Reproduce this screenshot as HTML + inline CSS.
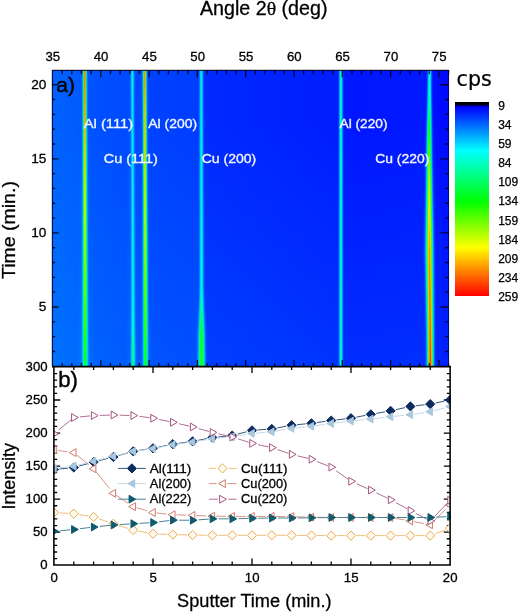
<!DOCTYPE html>
<html><head><meta charset="utf-8"><title>XRD sputter time figure</title>
<style>html,body{margin:0;padding:0;background:#fff}body{width:520px;height:613px;overflow:hidden}</style></head>
<body>
<svg width="520" height="613" viewBox="0 0 520 613" style="display:block">
<defs>
<linearGradient id="bg" gradientUnits="userSpaceOnUse" x1="52" y1="0" x2="449" y2="0">
<stop offset="0.0000" stop-color="#0062ff"/>
<stop offset="0.0705" stop-color="#005aff"/>
<stop offset="0.0957" stop-color="#0052ff"/>
<stop offset="0.1965" stop-color="#0049ff"/>
<stop offset="0.2469" stop-color="#0041ff"/>
<stop offset="0.3602" stop-color="#003dff"/>
<stop offset="0.3904" stop-color="#0029ff"/>
<stop offset="0.7128" stop-color="#001dff"/>
<stop offset="0.7406" stop-color="#0016ff"/>
<stop offset="0.9370" stop-color="#0018ff"/>
<stop offset="0.9673" stop-color="#000cff"/>
<stop offset="1.0000" stop-color="#000aff"/>
</linearGradient>
<linearGradient id="c78" gradientUnits="userSpaceOnUse" x1="0" y1="70" x2="0" y2="366">
<stop offset="0.0000" stop-color="#005aff"/>
<stop offset="0.0270" stop-color="#005aff"/>
<stop offset="0.0541" stop-color="#005aff"/>
<stop offset="0.0811" stop-color="#005aff"/>
<stop offset="0.1081" stop-color="#005aff"/>
<stop offset="0.1351" stop-color="#005aff"/>
<stop offset="0.1622" stop-color="#005aff"/>
<stop offset="0.1892" stop-color="#005bff"/>
<stop offset="0.2162" stop-color="#005bff"/>
<stop offset="0.2432" stop-color="#005cff"/>
<stop offset="0.2703" stop-color="#005dff"/>
<stop offset="0.2973" stop-color="#005eff"/>
<stop offset="0.3243" stop-color="#005eff"/>
<stop offset="0.3514" stop-color="#005fff"/>
<stop offset="0.3784" stop-color="#0060ff"/>
<stop offset="0.4054" stop-color="#0061ff"/>
<stop offset="0.4324" stop-color="#0061ff"/>
<stop offset="0.4595" stop-color="#0062ff"/>
<stop offset="0.4865" stop-color="#0063ff"/>
<stop offset="0.5135" stop-color="#0064ff"/>
<stop offset="0.5405" stop-color="#0064ff"/>
<stop offset="0.5676" stop-color="#0065ff"/>
<stop offset="0.5946" stop-color="#0066ff"/>
<stop offset="0.6216" stop-color="#0066ff"/>
<stop offset="0.6486" stop-color="#0067ff"/>
<stop offset="0.6757" stop-color="#0068ff"/>
<stop offset="0.7027" stop-color="#0069ff"/>
<stop offset="0.7297" stop-color="#0069ff"/>
<stop offset="0.7568" stop-color="#006aff"/>
<stop offset="0.7838" stop-color="#006bff"/>
<stop offset="0.8108" stop-color="#006cff"/>
<stop offset="0.8378" stop-color="#006cff"/>
<stop offset="0.8649" stop-color="#006dff"/>
<stop offset="0.8919" stop-color="#006eff"/>
<stop offset="0.9189" stop-color="#006eff"/>
<stop offset="0.9459" stop-color="#006fff"/>
<stop offset="0.9730" stop-color="#0070ff"/>
<stop offset="1.0000" stop-color="#0071ff"/>
</linearGradient>
<linearGradient id="c79" gradientUnits="userSpaceOnUse" x1="0" y1="70" x2="0" y2="366">
<stop offset="0.0000" stop-color="#005aff"/>
<stop offset="0.0270" stop-color="#005aff"/>
<stop offset="0.0541" stop-color="#005aff"/>
<stop offset="0.0811" stop-color="#005aff"/>
<stop offset="0.1081" stop-color="#005aff"/>
<stop offset="0.1351" stop-color="#005aff"/>
<stop offset="0.1622" stop-color="#005aff"/>
<stop offset="0.1892" stop-color="#005aff"/>
<stop offset="0.2162" stop-color="#005bff"/>
<stop offset="0.2432" stop-color="#005cff"/>
<stop offset="0.2703" stop-color="#005dff"/>
<stop offset="0.2973" stop-color="#005dff"/>
<stop offset="0.3243" stop-color="#005eff"/>
<stop offset="0.3514" stop-color="#005fff"/>
<stop offset="0.3784" stop-color="#0060ff"/>
<stop offset="0.4054" stop-color="#0060ff"/>
<stop offset="0.4324" stop-color="#0061ff"/>
<stop offset="0.4595" stop-color="#0062ff"/>
<stop offset="0.4865" stop-color="#0062ff"/>
<stop offset="0.5135" stop-color="#0063ff"/>
<stop offset="0.5405" stop-color="#0064ff"/>
<stop offset="0.5676" stop-color="#0065ff"/>
<stop offset="0.5946" stop-color="#0065ff"/>
<stop offset="0.6216" stop-color="#0066ff"/>
<stop offset="0.6486" stop-color="#0067ff"/>
<stop offset="0.6757" stop-color="#0068ff"/>
<stop offset="0.7027" stop-color="#0068ff"/>
<stop offset="0.7297" stop-color="#0069ff"/>
<stop offset="0.7568" stop-color="#006aff"/>
<stop offset="0.7838" stop-color="#006bff"/>
<stop offset="0.8108" stop-color="#006bff"/>
<stop offset="0.8378" stop-color="#006cff"/>
<stop offset="0.8649" stop-color="#006dff"/>
<stop offset="0.8919" stop-color="#006eff"/>
<stop offset="0.9189" stop-color="#006eff"/>
<stop offset="0.9459" stop-color="#006fff"/>
<stop offset="0.9730" stop-color="#0070ff"/>
<stop offset="1.0000" stop-color="#0071ff"/>
</linearGradient>
<linearGradient id="c80" gradientUnits="userSpaceOnUse" x1="0" y1="70" x2="0" y2="366">
<stop offset="0.0000" stop-color="#005aff"/>
<stop offset="0.0270" stop-color="#005aff"/>
<stop offset="0.0541" stop-color="#005aff"/>
<stop offset="0.0811" stop-color="#005aff"/>
<stop offset="0.1081" stop-color="#005aff"/>
<stop offset="0.1351" stop-color="#005aff"/>
<stop offset="0.1622" stop-color="#005aff"/>
<stop offset="0.1892" stop-color="#005aff"/>
<stop offset="0.2162" stop-color="#005bff"/>
<stop offset="0.2432" stop-color="#005cff"/>
<stop offset="0.2703" stop-color="#005dff"/>
<stop offset="0.2973" stop-color="#005dff"/>
<stop offset="0.3243" stop-color="#005eff"/>
<stop offset="0.3514" stop-color="#005fff"/>
<stop offset="0.3784" stop-color="#0060ff"/>
<stop offset="0.4054" stop-color="#0060ff"/>
<stop offset="0.4324" stop-color="#0061ff"/>
<stop offset="0.4595" stop-color="#0062ff"/>
<stop offset="0.4865" stop-color="#0063ff"/>
<stop offset="0.5135" stop-color="#0064ff"/>
<stop offset="0.5405" stop-color="#0065ff"/>
<stop offset="0.5676" stop-color="#0066ff"/>
<stop offset="0.5946" stop-color="#0066ff"/>
<stop offset="0.6216" stop-color="#0067ff"/>
<stop offset="0.6486" stop-color="#0068ff"/>
<stop offset="0.6757" stop-color="#0069ff"/>
<stop offset="0.7027" stop-color="#0069ff"/>
<stop offset="0.7297" stop-color="#006aff"/>
<stop offset="0.7568" stop-color="#006bff"/>
<stop offset="0.7838" stop-color="#006cff"/>
<stop offset="0.8108" stop-color="#006dff"/>
<stop offset="0.8378" stop-color="#006eff"/>
<stop offset="0.8649" stop-color="#006fff"/>
<stop offset="0.8919" stop-color="#006fff"/>
<stop offset="0.9189" stop-color="#0070ff"/>
<stop offset="0.9459" stop-color="#0071ff"/>
<stop offset="0.9730" stop-color="#0072ff"/>
<stop offset="1.0000" stop-color="#0073ff"/>
</linearGradient>
<linearGradient id="c81" gradientUnits="userSpaceOnUse" x1="0" y1="70" x2="0" y2="366">
<stop offset="0.0000" stop-color="#0062ff"/>
<stop offset="0.0270" stop-color="#0062ff"/>
<stop offset="0.0541" stop-color="#0063ff"/>
<stop offset="0.0811" stop-color="#0063ff"/>
<stop offset="0.1081" stop-color="#0063ff"/>
<stop offset="0.1351" stop-color="#0063ff"/>
<stop offset="0.1622" stop-color="#0063ff"/>
<stop offset="0.1892" stop-color="#0064ff"/>
<stop offset="0.2162" stop-color="#0065ff"/>
<stop offset="0.2432" stop-color="#0066ff"/>
<stop offset="0.2703" stop-color="#0066ff"/>
<stop offset="0.2973" stop-color="#0067ff"/>
<stop offset="0.3243" stop-color="#0068ff"/>
<stop offset="0.3514" stop-color="#0069ff"/>
<stop offset="0.3784" stop-color="#006aff"/>
<stop offset="0.4054" stop-color="#006bff"/>
<stop offset="0.4324" stop-color="#006cff"/>
<stop offset="0.4595" stop-color="#006dff"/>
<stop offset="0.4865" stop-color="#006eff"/>
<stop offset="0.5135" stop-color="#0070ff"/>
<stop offset="0.5405" stop-color="#0071ff"/>
<stop offset="0.5676" stop-color="#0072ff"/>
<stop offset="0.5946" stop-color="#0073ff"/>
<stop offset="0.6216" stop-color="#0074ff"/>
<stop offset="0.6486" stop-color="#0076ff"/>
<stop offset="0.6757" stop-color="#0077ff"/>
<stop offset="0.7027" stop-color="#0078ff"/>
<stop offset="0.7297" stop-color="#0079ff"/>
<stop offset="0.7568" stop-color="#007aff"/>
<stop offset="0.7838" stop-color="#007bff"/>
<stop offset="0.8108" stop-color="#007cff"/>
<stop offset="0.8378" stop-color="#007dff"/>
<stop offset="0.8649" stop-color="#007eff"/>
<stop offset="0.8919" stop-color="#007eff"/>
<stop offset="0.9189" stop-color="#007fff"/>
<stop offset="0.9459" stop-color="#0080ff"/>
<stop offset="0.9730" stop-color="#0080ff"/>
<stop offset="1.0000" stop-color="#0081ff"/>
</linearGradient>
<linearGradient id="c82" gradientUnits="userSpaceOnUse" x1="0" y1="70" x2="0" y2="366">
<stop offset="0.0000" stop-color="#03a1ec"/>
<stop offset="0.0270" stop-color="#03a2ec"/>
<stop offset="0.0541" stop-color="#03a3ec"/>
<stop offset="0.0811" stop-color="#02a2ed"/>
<stop offset="0.1081" stop-color="#02a3ed"/>
<stop offset="0.1351" stop-color="#02a3ee"/>
<stop offset="0.1622" stop-color="#02a3ee"/>
<stop offset="0.1892" stop-color="#02a3ee"/>
<stop offset="0.2162" stop-color="#01a4ef"/>
<stop offset="0.2432" stop-color="#01a4ef"/>
<stop offset="0.2703" stop-color="#01a5f0"/>
<stop offset="0.2973" stop-color="#01a5f0"/>
<stop offset="0.3243" stop-color="#01a6f0"/>
<stop offset="0.3514" stop-color="#01a7f1"/>
<stop offset="0.3784" stop-color="#01a7f1"/>
<stop offset="0.4054" stop-color="#01a8f1"/>
<stop offset="0.4324" stop-color="#01a8f2"/>
<stop offset="0.4595" stop-color="#01aaf2"/>
<stop offset="0.4865" stop-color="#00abf2"/>
<stop offset="0.5135" stop-color="#00adf2"/>
<stop offset="0.5405" stop-color="#00aff2"/>
<stop offset="0.5676" stop-color="#00b0f2"/>
<stop offset="0.5946" stop-color="#00b0f3"/>
<stop offset="0.6216" stop-color="#00b1f3"/>
<stop offset="0.6486" stop-color="#00b3f3"/>
<stop offset="0.6757" stop-color="#00b4f4"/>
<stop offset="0.7027" stop-color="#00b4f4"/>
<stop offset="0.7297" stop-color="#00b5f4"/>
<stop offset="0.7568" stop-color="#00b6f5"/>
<stop offset="0.7838" stop-color="#00b7f5"/>
<stop offset="0.8108" stop-color="#00b7f6"/>
<stop offset="0.8378" stop-color="#00b8f6"/>
<stop offset="0.8649" stop-color="#00b7f7"/>
<stop offset="0.8919" stop-color="#00b7f8"/>
<stop offset="0.9189" stop-color="#00b6f9"/>
<stop offset="0.9459" stop-color="#00b6f9"/>
<stop offset="0.9730" stop-color="#00b4fa"/>
<stop offset="1.0000" stop-color="#00b3fb"/>
</linearGradient>
<linearGradient id="c83" gradientUnits="userSpaceOnUse" x1="0" y1="70" x2="0" y2="366">
<stop offset="0.0000" stop-color="#4ae263"/>
<stop offset="0.0270" stop-color="#4ae262"/>
<stop offset="0.0541" stop-color="#49e363"/>
<stop offset="0.0811" stop-color="#45e564"/>
<stop offset="0.1081" stop-color="#43e766"/>
<stop offset="0.1351" stop-color="#40e867"/>
<stop offset="0.1622" stop-color="#3ee968"/>
<stop offset="0.1892" stop-color="#3aeb6a"/>
<stop offset="0.2162" stop-color="#37ed6c"/>
<stop offset="0.2432" stop-color="#34ee6d"/>
<stop offset="0.2703" stop-color="#30ef6f"/>
<stop offset="0.2973" stop-color="#2cf070"/>
<stop offset="0.3243" stop-color="#29f171"/>
<stop offset="0.3514" stop-color="#28f173"/>
<stop offset="0.3784" stop-color="#26f275"/>
<stop offset="0.4054" stop-color="#24f277"/>
<stop offset="0.4324" stop-color="#22f278"/>
<stop offset="0.4595" stop-color="#20f379"/>
<stop offset="0.4865" stop-color="#1ef37b"/>
<stop offset="0.5135" stop-color="#1cf47c"/>
<stop offset="0.5405" stop-color="#1bf57c"/>
<stop offset="0.5676" stop-color="#18f57e"/>
<stop offset="0.5946" stop-color="#14f581"/>
<stop offset="0.6216" stop-color="#12f582"/>
<stop offset="0.6486" stop-color="#10f583"/>
<stop offset="0.6757" stop-color="#0ef585"/>
<stop offset="0.7027" stop-color="#0cf588"/>
<stop offset="0.7297" stop-color="#0af68a"/>
<stop offset="0.7568" stop-color="#09f68d"/>
<stop offset="0.7838" stop-color="#07f591"/>
<stop offset="0.8108" stop-color="#06f595"/>
<stop offset="0.8378" stop-color="#04f598"/>
<stop offset="0.8649" stop-color="#03f59d"/>
<stop offset="0.8919" stop-color="#02f4a4"/>
<stop offset="0.9189" stop-color="#01f4ab"/>
<stop offset="0.9459" stop-color="#00f3b2"/>
<stop offset="0.9730" stop-color="#00f3ba"/>
<stop offset="1.0000" stop-color="#00f2c3"/>
</linearGradient>
<linearGradient id="c84" gradientUnits="userSpaceOnUse" x1="0" y1="70" x2="0" y2="366">
<stop offset="0.0000" stop-color="#de8e06"/>
<stop offset="0.0270" stop-color="#de8e06"/>
<stop offset="0.0541" stop-color="#dd9006"/>
<stop offset="0.0811" stop-color="#db9a06"/>
<stop offset="0.1081" stop-color="#d9a306"/>
<stop offset="0.1351" stop-color="#d8aa06"/>
<stop offset="0.1622" stop-color="#d6b207"/>
<stop offset="0.1892" stop-color="#d3be07"/>
<stop offset="0.2162" stop-color="#d1c807"/>
<stop offset="0.2432" stop-color="#cdcf07"/>
<stop offset="0.2703" stop-color="#c8d707"/>
<stop offset="0.2973" stop-color="#c4de08"/>
<stop offset="0.3243" stop-color="#c0e408"/>
<stop offset="0.3514" stop-color="#bee808"/>
<stop offset="0.3784" stop-color="#bbee09"/>
<stop offset="0.4054" stop-color="#b7f20a"/>
<stop offset="0.4324" stop-color="#b3f50a"/>
<stop offset="0.4595" stop-color="#aff80a"/>
<stop offset="0.4865" stop-color="#a8fd0b"/>
<stop offset="0.5135" stop-color="#a2fe0b"/>
<stop offset="0.5405" stop-color="#9eff0b"/>
<stop offset="0.5676" stop-color="#93ff0c"/>
<stop offset="0.5946" stop-color="#84ff0d"/>
<stop offset="0.6216" stop-color="#7cff0d"/>
<stop offset="0.6486" stop-color="#75ff0e"/>
<stop offset="0.6757" stop-color="#6aff0e"/>
<stop offset="0.7027" stop-color="#60ff0f"/>
<stop offset="0.7297" stop-color="#58ff11"/>
<stop offset="0.7568" stop-color="#50ff12"/>
<stop offset="0.7838" stop-color="#45ff14"/>
<stop offset="0.8108" stop-color="#3bff16"/>
<stop offset="0.8378" stop-color="#33ff18"/>
<stop offset="0.8649" stop-color="#28ff1b"/>
<stop offset="0.8919" stop-color="#1bff21"/>
<stop offset="0.9189" stop-color="#10ff26"/>
<stop offset="0.9459" stop-color="#08ff2f"/>
<stop offset="0.9730" stop-color="#02ff3a"/>
<stop offset="1.0000" stop-color="#00ff49"/>
</linearGradient>
<linearGradient id="c85" gradientUnits="userSpaceOnUse" x1="0" y1="70" x2="0" y2="366">
<stop offset="0.0000" stop-color="#a0c020"/>
<stop offset="0.0270" stop-color="#a4bf1d"/>
<stop offset="0.0541" stop-color="#a7bf1b"/>
<stop offset="0.0811" stop-color="#a7c41a"/>
<stop offset="0.1081" stop-color="#a7c818"/>
<stop offset="0.1351" stop-color="#a8ca17"/>
<stop offset="0.1622" stop-color="#a8ce15"/>
<stop offset="0.1892" stop-color="#a7d414"/>
<stop offset="0.2162" stop-color="#a7d914"/>
<stop offset="0.2432" stop-color="#a6dd13"/>
<stop offset="0.2703" stop-color="#a5e213"/>
<stop offset="0.2973" stop-color="#a4e712"/>
<stop offset="0.3243" stop-color="#a4ea12"/>
<stop offset="0.3514" stop-color="#a5ed11"/>
<stop offset="0.3784" stop-color="#a4f110"/>
<stop offset="0.4054" stop-color="#a3f410"/>
<stop offset="0.4324" stop-color="#a3f60f"/>
<stop offset="0.4595" stop-color="#a3f90e"/>
<stop offset="0.4865" stop-color="#9ffd0e"/>
<stop offset="0.5135" stop-color="#9dfe0d"/>
<stop offset="0.5405" stop-color="#9cff0c"/>
<stop offset="0.5676" stop-color="#94ff0c"/>
<stop offset="0.5946" stop-color="#87ff0c"/>
<stop offset="0.6216" stop-color="#82ff0b"/>
<stop offset="0.6486" stop-color="#7eff0b"/>
<stop offset="0.6757" stop-color="#75ff0b"/>
<stop offset="0.7027" stop-color="#6cff0b"/>
<stop offset="0.7297" stop-color="#65ff0b"/>
<stop offset="0.7568" stop-color="#5eff0b"/>
<stop offset="0.7838" stop-color="#53ff0b"/>
<stop offset="0.8108" stop-color="#49ff0b"/>
<stop offset="0.8378" stop-color="#41ff0b"/>
<stop offset="0.8649" stop-color="#35ff0c"/>
<stop offset="0.8919" stop-color="#26ff0f"/>
<stop offset="0.9189" stop-color="#19ff12"/>
<stop offset="0.9459" stop-color="#0dff16"/>
<stop offset="0.9730" stop-color="#03ff1d"/>
<stop offset="1.0000" stop-color="#00ff2c"/>
</linearGradient>
<linearGradient id="c86" gradientUnits="userSpaceOnUse" x1="0" y1="70" x2="0" y2="366">
<stop offset="0.0000" stop-color="#13ceb8"/>
<stop offset="0.0270" stop-color="#14d1b4"/>
<stop offset="0.0541" stop-color="#15d3b0"/>
<stop offset="0.0811" stop-color="#16d5ad"/>
<stop offset="0.1081" stop-color="#16d7aa"/>
<stop offset="0.1351" stop-color="#16d9a6"/>
<stop offset="0.1622" stop-color="#16dba3"/>
<stop offset="0.1892" stop-color="#16dda1"/>
<stop offset="0.2162" stop-color="#16df9f"/>
<stop offset="0.2432" stop-color="#17e19d"/>
<stop offset="0.2703" stop-color="#17e39c"/>
<stop offset="0.2973" stop-color="#17e59a"/>
<stop offset="0.3243" stop-color="#17e798"/>
<stop offset="0.3514" stop-color="#18e995"/>
<stop offset="0.3784" stop-color="#18ea93"/>
<stop offset="0.4054" stop-color="#18ec90"/>
<stop offset="0.4324" stop-color="#19ed8d"/>
<stop offset="0.4595" stop-color="#19ee89"/>
<stop offset="0.4865" stop-color="#19f087"/>
<stop offset="0.5135" stop-color="#19f183"/>
<stop offset="0.5405" stop-color="#19f37f"/>
<stop offset="0.5676" stop-color="#18f47d"/>
<stop offset="0.5946" stop-color="#16f57d"/>
<stop offset="0.6216" stop-color="#15f67b"/>
<stop offset="0.6486" stop-color="#15f777"/>
<stop offset="0.6757" stop-color="#14f876"/>
<stop offset="0.7027" stop-color="#12f875"/>
<stop offset="0.7297" stop-color="#11f973"/>
<stop offset="0.7568" stop-color="#10f971"/>
<stop offset="0.7838" stop-color="#0efa72"/>
<stop offset="0.8108" stop-color="#0cfa72"/>
<stop offset="0.8378" stop-color="#0afa72"/>
<stop offset="0.8649" stop-color="#07fb73"/>
<stop offset="0.8919" stop-color="#05fb79"/>
<stop offset="0.9189" stop-color="#03fb7e"/>
<stop offset="0.9459" stop-color="#01fb83"/>
<stop offset="0.9730" stop-color="#00fb8b"/>
<stop offset="1.0000" stop-color="#00fb93"/>
</linearGradient>
<linearGradient id="c87" gradientUnits="userSpaceOnUse" x1="0" y1="70" x2="0" y2="366">
<stop offset="0.0000" stop-color="#0073fd"/>
<stop offset="0.0270" stop-color="#0075fc"/>
<stop offset="0.0541" stop-color="#0077fc"/>
<stop offset="0.0811" stop-color="#0079fb"/>
<stop offset="0.1081" stop-color="#007bfb"/>
<stop offset="0.1351" stop-color="#007dfb"/>
<stop offset="0.1622" stop-color="#007ffa"/>
<stop offset="0.1892" stop-color="#0081fa"/>
<stop offset="0.2162" stop-color="#0084fa"/>
<stop offset="0.2432" stop-color="#0087f9"/>
<stop offset="0.2703" stop-color="#0089f9"/>
<stop offset="0.2973" stop-color="#008cf9"/>
<stop offset="0.3243" stop-color="#008ff9"/>
<stop offset="0.3514" stop-color="#0092f8"/>
<stop offset="0.3784" stop-color="#0095f8"/>
<stop offset="0.4054" stop-color="#0098f7"/>
<stop offset="0.4324" stop-color="#009af6"/>
<stop offset="0.4595" stop-color="#009ef5"/>
<stop offset="0.4865" stop-color="#00a1f5"/>
<stop offset="0.5135" stop-color="#00a5f4"/>
<stop offset="0.5405" stop-color="#00aaf3"/>
<stop offset="0.5676" stop-color="#00adf2"/>
<stop offset="0.5946" stop-color="#00b0f2"/>
<stop offset="0.6216" stop-color="#00b3f1"/>
<stop offset="0.6486" stop-color="#00b6f0"/>
<stop offset="0.6757" stop-color="#00b9ef"/>
<stop offset="0.7027" stop-color="#00bcee"/>
<stop offset="0.7297" stop-color="#00bfed"/>
<stop offset="0.7568" stop-color="#00c2ec"/>
<stop offset="0.7838" stop-color="#00c4ec"/>
<stop offset="0.8108" stop-color="#00c6ec"/>
<stop offset="0.8378" stop-color="#00c9eb"/>
<stop offset="0.8649" stop-color="#00caeb"/>
<stop offset="0.8919" stop-color="#00cbec"/>
<stop offset="0.9189" stop-color="#00cced"/>
<stop offset="0.9459" stop-color="#00cdee"/>
<stop offset="0.9730" stop-color="#00cdef"/>
<stop offset="1.0000" stop-color="#00cdf1"/>
</linearGradient>
<linearGradient id="c88" gradientUnits="userSpaceOnUse" x1="0" y1="70" x2="0" y2="366">
<stop offset="0.0000" stop-color="#0055ff"/>
<stop offset="0.0270" stop-color="#0055ff"/>
<stop offset="0.0541" stop-color="#0056ff"/>
<stop offset="0.0811" stop-color="#0056ff"/>
<stop offset="0.1081" stop-color="#0056ff"/>
<stop offset="0.1351" stop-color="#0057ff"/>
<stop offset="0.1622" stop-color="#0057ff"/>
<stop offset="0.1892" stop-color="#0058ff"/>
<stop offset="0.2162" stop-color="#0059ff"/>
<stop offset="0.2432" stop-color="#005aff"/>
<stop offset="0.2703" stop-color="#005bff"/>
<stop offset="0.2973" stop-color="#005dff"/>
<stop offset="0.3243" stop-color="#005eff"/>
<stop offset="0.3514" stop-color="#005fff"/>
<stop offset="0.3784" stop-color="#0061ff"/>
<stop offset="0.4054" stop-color="#0062ff"/>
<stop offset="0.4324" stop-color="#0063ff"/>
<stop offset="0.4595" stop-color="#0065ff"/>
<stop offset="0.4865" stop-color="#0067ff"/>
<stop offset="0.5135" stop-color="#0069ff"/>
<stop offset="0.5405" stop-color="#006bff"/>
<stop offset="0.5676" stop-color="#006dff"/>
<stop offset="0.5946" stop-color="#006fff"/>
<stop offset="0.6216" stop-color="#0071ff"/>
<stop offset="0.6486" stop-color="#0073ff"/>
<stop offset="0.6757" stop-color="#0075ff"/>
<stop offset="0.7027" stop-color="#0077ff"/>
<stop offset="0.7297" stop-color="#0079ff"/>
<stop offset="0.7568" stop-color="#007bff"/>
<stop offset="0.7838" stop-color="#007dff"/>
<stop offset="0.8108" stop-color="#007fff"/>
<stop offset="0.8378" stop-color="#0081ff"/>
<stop offset="0.8649" stop-color="#0083ff"/>
<stop offset="0.8919" stop-color="#0085ff"/>
<stop offset="0.9189" stop-color="#0086ff"/>
<stop offset="0.9459" stop-color="#0088ff"/>
<stop offset="0.9730" stop-color="#0089ff"/>
<stop offset="1.0000" stop-color="#008aff"/>
</linearGradient>
<linearGradient id="c89" gradientUnits="userSpaceOnUse" x1="0" y1="70" x2="0" y2="366">
<stop offset="0.0000" stop-color="#0052ff"/>
<stop offset="0.0270" stop-color="#0052ff"/>
<stop offset="0.0541" stop-color="#0052ff"/>
<stop offset="0.0811" stop-color="#0052ff"/>
<stop offset="0.1081" stop-color="#0052ff"/>
<stop offset="0.1351" stop-color="#0052ff"/>
<stop offset="0.1622" stop-color="#0052ff"/>
<stop offset="0.1892" stop-color="#0053ff"/>
<stop offset="0.2162" stop-color="#0054ff"/>
<stop offset="0.2432" stop-color="#0054ff"/>
<stop offset="0.2703" stop-color="#0055ff"/>
<stop offset="0.2973" stop-color="#0056ff"/>
<stop offset="0.3243" stop-color="#0057ff"/>
<stop offset="0.3514" stop-color="#0057ff"/>
<stop offset="0.3784" stop-color="#0058ff"/>
<stop offset="0.4054" stop-color="#0059ff"/>
<stop offset="0.4324" stop-color="#005aff"/>
<stop offset="0.4595" stop-color="#005bff"/>
<stop offset="0.4865" stop-color="#005bff"/>
<stop offset="0.5135" stop-color="#005cff"/>
<stop offset="0.5405" stop-color="#005dff"/>
<stop offset="0.5676" stop-color="#005eff"/>
<stop offset="0.5946" stop-color="#005fff"/>
<stop offset="0.6216" stop-color="#0060ff"/>
<stop offset="0.6486" stop-color="#0061ff"/>
<stop offset="0.6757" stop-color="#0062ff"/>
<stop offset="0.7027" stop-color="#0063ff"/>
<stop offset="0.7297" stop-color="#0064ff"/>
<stop offset="0.7568" stop-color="#0065ff"/>
<stop offset="0.7838" stop-color="#0066ff"/>
<stop offset="0.8108" stop-color="#0067ff"/>
<stop offset="0.8378" stop-color="#0068ff"/>
<stop offset="0.8649" stop-color="#0069ff"/>
<stop offset="0.8919" stop-color="#006bff"/>
<stop offset="0.9189" stop-color="#006cff"/>
<stop offset="0.9459" stop-color="#006cff"/>
<stop offset="0.9730" stop-color="#006eff"/>
<stop offset="1.0000" stop-color="#006fff"/>
</linearGradient>
<linearGradient id="c90" gradientUnits="userSpaceOnUse" x1="0" y1="70" x2="0" y2="366">
<stop offset="0.0000" stop-color="#0051ff"/>
<stop offset="0.0270" stop-color="#0051ff"/>
<stop offset="0.0541" stop-color="#0051ff"/>
<stop offset="0.0811" stop-color="#0051ff"/>
<stop offset="0.1081" stop-color="#0051ff"/>
<stop offset="0.1351" stop-color="#0051ff"/>
<stop offset="0.1622" stop-color="#0051ff"/>
<stop offset="0.1892" stop-color="#0052ff"/>
<stop offset="0.2162" stop-color="#0053ff"/>
<stop offset="0.2432" stop-color="#0054ff"/>
<stop offset="0.2703" stop-color="#0054ff"/>
<stop offset="0.2973" stop-color="#0055ff"/>
<stop offset="0.3243" stop-color="#0056ff"/>
<stop offset="0.3514" stop-color="#0056ff"/>
<stop offset="0.3784" stop-color="#0057ff"/>
<stop offset="0.4054" stop-color="#0058ff"/>
<stop offset="0.4324" stop-color="#0059ff"/>
<stop offset="0.4595" stop-color="#0059ff"/>
<stop offset="0.4865" stop-color="#005aff"/>
<stop offset="0.5135" stop-color="#005bff"/>
<stop offset="0.5405" stop-color="#005cff"/>
<stop offset="0.5676" stop-color="#005cff"/>
<stop offset="0.5946" stop-color="#005dff"/>
<stop offset="0.6216" stop-color="#005eff"/>
<stop offset="0.6486" stop-color="#005eff"/>
<stop offset="0.6757" stop-color="#005fff"/>
<stop offset="0.7027" stop-color="#0060ff"/>
<stop offset="0.7297" stop-color="#0061ff"/>
<stop offset="0.7568" stop-color="#0062ff"/>
<stop offset="0.7838" stop-color="#0062ff"/>
<stop offset="0.8108" stop-color="#0063ff"/>
<stop offset="0.8378" stop-color="#0064ff"/>
<stop offset="0.8649" stop-color="#0065ff"/>
<stop offset="0.8919" stop-color="#0065ff"/>
<stop offset="0.9189" stop-color="#0066ff"/>
<stop offset="0.9459" stop-color="#0067ff"/>
<stop offset="0.9730" stop-color="#0068ff"/>
<stop offset="1.0000" stop-color="#0069ff"/>
</linearGradient>
<linearGradient id="c91" gradientUnits="userSpaceOnUse" x1="0" y1="70" x2="0" y2="366">
<stop offset="0.0000" stop-color="#0051ff"/>
<stop offset="0.0270" stop-color="#0051ff"/>
<stop offset="0.0541" stop-color="#0051ff"/>
<stop offset="0.0811" stop-color="#0051ff"/>
<stop offset="0.1081" stop-color="#0051ff"/>
<stop offset="0.1351" stop-color="#0051ff"/>
<stop offset="0.1622" stop-color="#0051ff"/>
<stop offset="0.1892" stop-color="#0052ff"/>
<stop offset="0.2162" stop-color="#0053ff"/>
<stop offset="0.2432" stop-color="#0053ff"/>
<stop offset="0.2703" stop-color="#0054ff"/>
<stop offset="0.2973" stop-color="#0055ff"/>
<stop offset="0.3243" stop-color="#0055ff"/>
<stop offset="0.3514" stop-color="#0056ff"/>
<stop offset="0.3784" stop-color="#0057ff"/>
<stop offset="0.4054" stop-color="#0058ff"/>
<stop offset="0.4324" stop-color="#0058ff"/>
<stop offset="0.4595" stop-color="#0059ff"/>
<stop offset="0.4865" stop-color="#005aff"/>
<stop offset="0.5135" stop-color="#005bff"/>
<stop offset="0.5405" stop-color="#005bff"/>
<stop offset="0.5676" stop-color="#005cff"/>
<stop offset="0.5946" stop-color="#005dff"/>
<stop offset="0.6216" stop-color="#005eff"/>
<stop offset="0.6486" stop-color="#005eff"/>
<stop offset="0.6757" stop-color="#005fff"/>
<stop offset="0.7027" stop-color="#0060ff"/>
<stop offset="0.7297" stop-color="#0060ff"/>
<stop offset="0.7568" stop-color="#0061ff"/>
<stop offset="0.7838" stop-color="#0062ff"/>
<stop offset="0.8108" stop-color="#0063ff"/>
<stop offset="0.8378" stop-color="#0063ff"/>
<stop offset="0.8649" stop-color="#0064ff"/>
<stop offset="0.8919" stop-color="#0065ff"/>
<stop offset="0.9189" stop-color="#0066ff"/>
<stop offset="0.9459" stop-color="#0066ff"/>
<stop offset="0.9730" stop-color="#0067ff"/>
<stop offset="1.0000" stop-color="#0068ff"/>
</linearGradient>
<linearGradient id="c92" gradientUnits="userSpaceOnUse" x1="0" y1="70" x2="0" y2="366">
<stop offset="0.0000" stop-color="#0051ff"/>
<stop offset="0.0270" stop-color="#0051ff"/>
<stop offset="0.0541" stop-color="#0051ff"/>
<stop offset="0.0811" stop-color="#0051ff"/>
<stop offset="0.1081" stop-color="#0051ff"/>
<stop offset="0.1351" stop-color="#0051ff"/>
<stop offset="0.1622" stop-color="#0051ff"/>
<stop offset="0.1892" stop-color="#0052ff"/>
<stop offset="0.2162" stop-color="#0052ff"/>
<stop offset="0.2432" stop-color="#0053ff"/>
<stop offset="0.2703" stop-color="#0054ff"/>
<stop offset="0.2973" stop-color="#0055ff"/>
<stop offset="0.3243" stop-color="#0055ff"/>
<stop offset="0.3514" stop-color="#0056ff"/>
<stop offset="0.3784" stop-color="#0057ff"/>
<stop offset="0.4054" stop-color="#0057ff"/>
<stop offset="0.4324" stop-color="#0058ff"/>
<stop offset="0.4595" stop-color="#0059ff"/>
<stop offset="0.4865" stop-color="#005aff"/>
<stop offset="0.5135" stop-color="#005aff"/>
<stop offset="0.5405" stop-color="#005bff"/>
<stop offset="0.5676" stop-color="#005cff"/>
<stop offset="0.5946" stop-color="#005dff"/>
<stop offset="0.6216" stop-color="#005dff"/>
<stop offset="0.6486" stop-color="#005eff"/>
<stop offset="0.6757" stop-color="#005fff"/>
<stop offset="0.7027" stop-color="#0060ff"/>
<stop offset="0.7297" stop-color="#0060ff"/>
<stop offset="0.7568" stop-color="#0061ff"/>
<stop offset="0.7838" stop-color="#0062ff"/>
<stop offset="0.8108" stop-color="#0062ff"/>
<stop offset="0.8378" stop-color="#0063ff"/>
<stop offset="0.8649" stop-color="#0064ff"/>
<stop offset="0.8919" stop-color="#0065ff"/>
<stop offset="0.9189" stop-color="#0065ff"/>
<stop offset="0.9459" stop-color="#0066ff"/>
<stop offset="0.9730" stop-color="#0067ff"/>
<stop offset="1.0000" stop-color="#0068ff"/>
</linearGradient>
<linearGradient id="c126" gradientUnits="userSpaceOnUse" x1="0" y1="70" x2="0" y2="366">
<stop offset="0.0000" stop-color="#004aff"/>
<stop offset="0.0270" stop-color="#004aff"/>
<stop offset="0.0541" stop-color="#004aff"/>
<stop offset="0.0811" stop-color="#004aff"/>
<stop offset="0.1081" stop-color="#004aff"/>
<stop offset="0.1351" stop-color="#004aff"/>
<stop offset="0.1622" stop-color="#004aff"/>
<stop offset="0.1892" stop-color="#004bff"/>
<stop offset="0.2162" stop-color="#004bff"/>
<stop offset="0.2432" stop-color="#004cff"/>
<stop offset="0.2703" stop-color="#004dff"/>
<stop offset="0.2973" stop-color="#004eff"/>
<stop offset="0.3243" stop-color="#004eff"/>
<stop offset="0.3514" stop-color="#004fff"/>
<stop offset="0.3784" stop-color="#0050ff"/>
<stop offset="0.4054" stop-color="#0051ff"/>
<stop offset="0.4324" stop-color="#0051ff"/>
<stop offset="0.4595" stop-color="#0052ff"/>
<stop offset="0.4865" stop-color="#0053ff"/>
<stop offset="0.5135" stop-color="#0053ff"/>
<stop offset="0.5405" stop-color="#0054ff"/>
<stop offset="0.5676" stop-color="#0055ff"/>
<stop offset="0.5946" stop-color="#0056ff"/>
<stop offset="0.6216" stop-color="#0056ff"/>
<stop offset="0.6486" stop-color="#0057ff"/>
<stop offset="0.6757" stop-color="#0058ff"/>
<stop offset="0.7027" stop-color="#0059ff"/>
<stop offset="0.7297" stop-color="#0059ff"/>
<stop offset="0.7568" stop-color="#005aff"/>
<stop offset="0.7838" stop-color="#005bff"/>
<stop offset="0.8108" stop-color="#005bff"/>
<stop offset="0.8378" stop-color="#005cff"/>
<stop offset="0.8649" stop-color="#005dff"/>
<stop offset="0.8919" stop-color="#005eff"/>
<stop offset="0.9189" stop-color="#005eff"/>
<stop offset="0.9459" stop-color="#005fff"/>
<stop offset="0.9730" stop-color="#0060ff"/>
<stop offset="1.0000" stop-color="#0061ff"/>
</linearGradient>
<linearGradient id="c127" gradientUnits="userSpaceOnUse" x1="0" y1="70" x2="0" y2="366">
<stop offset="0.0000" stop-color="#004aff"/>
<stop offset="0.0270" stop-color="#004aff"/>
<stop offset="0.0541" stop-color="#004aff"/>
<stop offset="0.0811" stop-color="#004aff"/>
<stop offset="0.1081" stop-color="#004aff"/>
<stop offset="0.1351" stop-color="#004aff"/>
<stop offset="0.1622" stop-color="#004aff"/>
<stop offset="0.1892" stop-color="#004aff"/>
<stop offset="0.2162" stop-color="#004bff"/>
<stop offset="0.2432" stop-color="#004cff"/>
<stop offset="0.2703" stop-color="#004dff"/>
<stop offset="0.2973" stop-color="#004dff"/>
<stop offset="0.3243" stop-color="#004eff"/>
<stop offset="0.3514" stop-color="#004fff"/>
<stop offset="0.3784" stop-color="#0050ff"/>
<stop offset="0.4054" stop-color="#0050ff"/>
<stop offset="0.4324" stop-color="#0051ff"/>
<stop offset="0.4595" stop-color="#0052ff"/>
<stop offset="0.4865" stop-color="#0053ff"/>
<stop offset="0.5135" stop-color="#0053ff"/>
<stop offset="0.5405" stop-color="#0054ff"/>
<stop offset="0.5676" stop-color="#0055ff"/>
<stop offset="0.5946" stop-color="#0055ff"/>
<stop offset="0.6216" stop-color="#0056ff"/>
<stop offset="0.6486" stop-color="#0057ff"/>
<stop offset="0.6757" stop-color="#0058ff"/>
<stop offset="0.7027" stop-color="#0058ff"/>
<stop offset="0.7297" stop-color="#0059ff"/>
<stop offset="0.7568" stop-color="#005aff"/>
<stop offset="0.7838" stop-color="#005bff"/>
<stop offset="0.8108" stop-color="#005bff"/>
<stop offset="0.8378" stop-color="#005cff"/>
<stop offset="0.8649" stop-color="#005dff"/>
<stop offset="0.8919" stop-color="#005dff"/>
<stop offset="0.9189" stop-color="#005eff"/>
<stop offset="0.9459" stop-color="#005fff"/>
<stop offset="0.9730" stop-color="#0060ff"/>
<stop offset="1.0000" stop-color="#0060ff"/>
</linearGradient>
<linearGradient id="c128" gradientUnits="userSpaceOnUse" x1="0" y1="70" x2="0" y2="366">
<stop offset="0.0000" stop-color="#004aff"/>
<stop offset="0.0270" stop-color="#004aff"/>
<stop offset="0.0541" stop-color="#004aff"/>
<stop offset="0.0811" stop-color="#004aff"/>
<stop offset="0.1081" stop-color="#004aff"/>
<stop offset="0.1351" stop-color="#004aff"/>
<stop offset="0.1622" stop-color="#004aff"/>
<stop offset="0.1892" stop-color="#004aff"/>
<stop offset="0.2162" stop-color="#004bff"/>
<stop offset="0.2432" stop-color="#004cff"/>
<stop offset="0.2703" stop-color="#004dff"/>
<stop offset="0.2973" stop-color="#004dff"/>
<stop offset="0.3243" stop-color="#004eff"/>
<stop offset="0.3514" stop-color="#004fff"/>
<stop offset="0.3784" stop-color="#0050ff"/>
<stop offset="0.4054" stop-color="#0050ff"/>
<stop offset="0.4324" stop-color="#0051ff"/>
<stop offset="0.4595" stop-color="#0052ff"/>
<stop offset="0.4865" stop-color="#0052ff"/>
<stop offset="0.5135" stop-color="#0053ff"/>
<stop offset="0.5405" stop-color="#0054ff"/>
<stop offset="0.5676" stop-color="#0055ff"/>
<stop offset="0.5946" stop-color="#0055ff"/>
<stop offset="0.6216" stop-color="#0056ff"/>
<stop offset="0.6486" stop-color="#0057ff"/>
<stop offset="0.6757" stop-color="#0058ff"/>
<stop offset="0.7027" stop-color="#0058ff"/>
<stop offset="0.7297" stop-color="#0059ff"/>
<stop offset="0.7568" stop-color="#005aff"/>
<stop offset="0.7838" stop-color="#005bff"/>
<stop offset="0.8108" stop-color="#005bff"/>
<stop offset="0.8378" stop-color="#005cff"/>
<stop offset="0.8649" stop-color="#005dff"/>
<stop offset="0.8919" stop-color="#005dff"/>
<stop offset="0.9189" stop-color="#005eff"/>
<stop offset="0.9459" stop-color="#005fff"/>
<stop offset="0.9730" stop-color="#0060ff"/>
<stop offset="1.0000" stop-color="#0061ff"/>
</linearGradient>
<linearGradient id="c129" gradientUnits="userSpaceOnUse" x1="0" y1="70" x2="0" y2="366">
<stop offset="0.0000" stop-color="#0050ff"/>
<stop offset="0.0270" stop-color="#0050ff"/>
<stop offset="0.0541" stop-color="#0050ff"/>
<stop offset="0.0811" stop-color="#004fff"/>
<stop offset="0.1081" stop-color="#004eff"/>
<stop offset="0.1351" stop-color="#004eff"/>
<stop offset="0.1622" stop-color="#004eff"/>
<stop offset="0.1892" stop-color="#004fff"/>
<stop offset="0.2162" stop-color="#0050ff"/>
<stop offset="0.2432" stop-color="#0050ff"/>
<stop offset="0.2703" stop-color="#0051ff"/>
<stop offset="0.2973" stop-color="#0052ff"/>
<stop offset="0.3243" stop-color="#0052ff"/>
<stop offset="0.3514" stop-color="#0053ff"/>
<stop offset="0.3784" stop-color="#0054ff"/>
<stop offset="0.4054" stop-color="#0054ff"/>
<stop offset="0.4324" stop-color="#0055ff"/>
<stop offset="0.4595" stop-color="#0056ff"/>
<stop offset="0.4865" stop-color="#0056ff"/>
<stop offset="0.5135" stop-color="#0057ff"/>
<stop offset="0.5405" stop-color="#0058ff"/>
<stop offset="0.5676" stop-color="#0059ff"/>
<stop offset="0.5946" stop-color="#0059ff"/>
<stop offset="0.6216" stop-color="#005aff"/>
<stop offset="0.6486" stop-color="#005bff"/>
<stop offset="0.6757" stop-color="#005bff"/>
<stop offset="0.7027" stop-color="#005cff"/>
<stop offset="0.7297" stop-color="#005dff"/>
<stop offset="0.7568" stop-color="#005dff"/>
<stop offset="0.7838" stop-color="#005eff"/>
<stop offset="0.8108" stop-color="#005fff"/>
<stop offset="0.8378" stop-color="#0060ff"/>
<stop offset="0.8649" stop-color="#0061ff"/>
<stop offset="0.8919" stop-color="#0062ff"/>
<stop offset="0.9189" stop-color="#0063ff"/>
<stop offset="0.9459" stop-color="#0064ff"/>
<stop offset="0.9730" stop-color="#0065ff"/>
<stop offset="1.0000" stop-color="#0066ff"/>
</linearGradient>
<linearGradient id="c130" gradientUnits="userSpaceOnUse" x1="0" y1="70" x2="0" y2="366">
<stop offset="0.0000" stop-color="#0074fd"/>
<stop offset="0.0270" stop-color="#0074fd"/>
<stop offset="0.0541" stop-color="#0073fe"/>
<stop offset="0.0811" stop-color="#006ffe"/>
<stop offset="0.1081" stop-color="#006cff"/>
<stop offset="0.1351" stop-color="#006cff"/>
<stop offset="0.1622" stop-color="#006bff"/>
<stop offset="0.1892" stop-color="#006bff"/>
<stop offset="0.2162" stop-color="#006cff"/>
<stop offset="0.2432" stop-color="#006cff"/>
<stop offset="0.2703" stop-color="#006cff"/>
<stop offset="0.2973" stop-color="#006cff"/>
<stop offset="0.3243" stop-color="#006dff"/>
<stop offset="0.3514" stop-color="#006dff"/>
<stop offset="0.3784" stop-color="#006dff"/>
<stop offset="0.4054" stop-color="#006eff"/>
<stop offset="0.4324" stop-color="#006eff"/>
<stop offset="0.4595" stop-color="#006eff"/>
<stop offset="0.4865" stop-color="#006fff"/>
<stop offset="0.5135" stop-color="#006fff"/>
<stop offset="0.5405" stop-color="#006fff"/>
<stop offset="0.5676" stop-color="#0070ff"/>
<stop offset="0.5946" stop-color="#0070ff"/>
<stop offset="0.6216" stop-color="#0070ff"/>
<stop offset="0.6486" stop-color="#0071ff"/>
<stop offset="0.6757" stop-color="#0071ff"/>
<stop offset="0.7027" stop-color="#0072ff"/>
<stop offset="0.7297" stop-color="#0072ff"/>
<stop offset="0.7568" stop-color="#0073ff"/>
<stop offset="0.7838" stop-color="#0073ff"/>
<stop offset="0.8108" stop-color="#0074ff"/>
<stop offset="0.8378" stop-color="#0076ff"/>
<stop offset="0.8649" stop-color="#0079ff"/>
<stop offset="0.8919" stop-color="#007bfe"/>
<stop offset="0.9189" stop-color="#007efe"/>
<stop offset="0.9459" stop-color="#0080fe"/>
<stop offset="0.9730" stop-color="#0082fe"/>
<stop offset="1.0000" stop-color="#0084fe"/>
</linearGradient>
<linearGradient id="c131" gradientUnits="userSpaceOnUse" x1="0" y1="70" x2="0" y2="366">
<stop offset="0.0000" stop-color="#00c5ed"/>
<stop offset="0.0270" stop-color="#00c4ee"/>
<stop offset="0.0541" stop-color="#00c3f0"/>
<stop offset="0.0811" stop-color="#00bcf7"/>
<stop offset="0.1081" stop-color="#00b6fb"/>
<stop offset="0.1351" stop-color="#00b5fb"/>
<stop offset="0.1622" stop-color="#00b5fb"/>
<stop offset="0.1892" stop-color="#00b4fb"/>
<stop offset="0.2162" stop-color="#00b4fb"/>
<stop offset="0.2432" stop-color="#00b3fb"/>
<stop offset="0.2703" stop-color="#00b2fb"/>
<stop offset="0.2973" stop-color="#00b2fc"/>
<stop offset="0.3243" stop-color="#00b2fc"/>
<stop offset="0.3514" stop-color="#00b1fc"/>
<stop offset="0.3784" stop-color="#00b1fc"/>
<stop offset="0.4054" stop-color="#00b0fc"/>
<stop offset="0.4324" stop-color="#00b0fc"/>
<stop offset="0.4595" stop-color="#00b0fc"/>
<stop offset="0.4865" stop-color="#00b0fc"/>
<stop offset="0.5135" stop-color="#00affc"/>
<stop offset="0.5405" stop-color="#00affc"/>
<stop offset="0.5676" stop-color="#00affc"/>
<stop offset="0.5946" stop-color="#00aefc"/>
<stop offset="0.6216" stop-color="#00aefd"/>
<stop offset="0.6486" stop-color="#00adfd"/>
<stop offset="0.6757" stop-color="#00aefd"/>
<stop offset="0.7027" stop-color="#00adfd"/>
<stop offset="0.7297" stop-color="#00aefc"/>
<stop offset="0.7568" stop-color="#00aefc"/>
<stop offset="0.7838" stop-color="#00aefc"/>
<stop offset="0.8108" stop-color="#00b0fb"/>
<stop offset="0.8378" stop-color="#00b3fa"/>
<stop offset="0.8649" stop-color="#00b7f7"/>
<stop offset="0.8919" stop-color="#00bcf4"/>
<stop offset="0.9189" stop-color="#00c0ef"/>
<stop offset="0.9459" stop-color="#00c4eb"/>
<stop offset="0.9730" stop-color="#00c6e8"/>
<stop offset="1.0000" stop-color="#00c7e6"/>
</linearGradient>
<linearGradient id="c132" gradientUnits="userSpaceOnUse" x1="0" y1="70" x2="0" y2="366">
<stop offset="0.0000" stop-color="#00ebdc"/>
<stop offset="0.0270" stop-color="#00ecdc"/>
<stop offset="0.0541" stop-color="#00ecde"/>
<stop offset="0.0811" stop-color="#00e8ec"/>
<stop offset="0.1081" stop-color="#00e4f5"/>
<stop offset="0.1351" stop-color="#00e5f5"/>
<stop offset="0.1622" stop-color="#00e5f5"/>
<stop offset="0.1892" stop-color="#00e5f5"/>
<stop offset="0.2162" stop-color="#00e6f5"/>
<stop offset="0.2432" stop-color="#00e6f5"/>
<stop offset="0.2703" stop-color="#00e6f5"/>
<stop offset="0.2973" stop-color="#00e6f4"/>
<stop offset="0.3243" stop-color="#00e7f4"/>
<stop offset="0.3514" stop-color="#00e7f4"/>
<stop offset="0.3784" stop-color="#00e7f4"/>
<stop offset="0.4054" stop-color="#00e8f4"/>
<stop offset="0.4324" stop-color="#00e8f4"/>
<stop offset="0.4595" stop-color="#00e9f3"/>
<stop offset="0.4865" stop-color="#00e9f3"/>
<stop offset="0.5135" stop-color="#00e9f3"/>
<stop offset="0.5405" stop-color="#00e9f3"/>
<stop offset="0.5676" stop-color="#00e9f3"/>
<stop offset="0.5946" stop-color="#00e9f4"/>
<stop offset="0.6216" stop-color="#00e9f4"/>
<stop offset="0.6486" stop-color="#00e9f4"/>
<stop offset="0.6757" stop-color="#00e9f4"/>
<stop offset="0.7027" stop-color="#00e9f3"/>
<stop offset="0.7297" stop-color="#00e9f2"/>
<stop offset="0.7568" stop-color="#00eaf1"/>
<stop offset="0.7838" stop-color="#00eaf0"/>
<stop offset="0.8108" stop-color="#00ebed"/>
<stop offset="0.8378" stop-color="#00ede5"/>
<stop offset="0.8649" stop-color="#00f0db"/>
<stop offset="0.8919" stop-color="#00f2ce"/>
<stop offset="0.9189" stop-color="#00f4bf"/>
<stop offset="0.9459" stop-color="#00f5b0"/>
<stop offset="0.9730" stop-color="#00f6a8"/>
<stop offset="1.0000" stop-color="#00f7a1"/>
</linearGradient>
<linearGradient id="c133" gradientUnits="userSpaceOnUse" x1="0" y1="70" x2="0" y2="366">
<stop offset="0.0000" stop-color="#00b4f2"/>
<stop offset="0.0270" stop-color="#00b6f2"/>
<stop offset="0.0541" stop-color="#00b8f2"/>
<stop offset="0.0811" stop-color="#00b4f8"/>
<stop offset="0.1081" stop-color="#00b1fb"/>
<stop offset="0.1351" stop-color="#00b4fb"/>
<stop offset="0.1622" stop-color="#00b6fb"/>
<stop offset="0.1892" stop-color="#00b8fb"/>
<stop offset="0.2162" stop-color="#00bbfb"/>
<stop offset="0.2432" stop-color="#00bdfa"/>
<stop offset="0.2703" stop-color="#00bffa"/>
<stop offset="0.2973" stop-color="#00c2fa"/>
<stop offset="0.3243" stop-color="#00c4fa"/>
<stop offset="0.3514" stop-color="#00c6f9"/>
<stop offset="0.3784" stop-color="#00c9f9"/>
<stop offset="0.4054" stop-color="#00cbf9"/>
<stop offset="0.4324" stop-color="#00cdf9"/>
<stop offset="0.4595" stop-color="#00d0f8"/>
<stop offset="0.4865" stop-color="#00d2f8"/>
<stop offset="0.5135" stop-color="#00d3f7"/>
<stop offset="0.5405" stop-color="#00d5f7"/>
<stop offset="0.5676" stop-color="#00d7f7"/>
<stop offset="0.5946" stop-color="#00d9f7"/>
<stop offset="0.6216" stop-color="#00daf7"/>
<stop offset="0.6486" stop-color="#00dcf6"/>
<stop offset="0.6757" stop-color="#00def6"/>
<stop offset="0.7027" stop-color="#00e0f5"/>
<stop offset="0.7297" stop-color="#00e2f4"/>
<stop offset="0.7568" stop-color="#00e4f3"/>
<stop offset="0.7838" stop-color="#00e6f1"/>
<stop offset="0.8108" stop-color="#00e8ed"/>
<stop offset="0.8378" stop-color="#00ece6"/>
<stop offset="0.8649" stop-color="#00f0db"/>
<stop offset="0.8919" stop-color="#00f3cc"/>
<stop offset="0.9189" stop-color="#00f6bc"/>
<stop offset="0.9459" stop-color="#00f8aa"/>
<stop offset="0.9730" stop-color="#00f99f"/>
<stop offset="1.0000" stop-color="#00fa96"/>
</linearGradient>
<linearGradient id="c134" gradientUnits="userSpaceOnUse" x1="0" y1="70" x2="0" y2="366">
<stop offset="0.0000" stop-color="#0067fe"/>
<stop offset="0.0270" stop-color="#0069fe"/>
<stop offset="0.0541" stop-color="#006afe"/>
<stop offset="0.0811" stop-color="#0069ff"/>
<stop offset="0.1081" stop-color="#0068ff"/>
<stop offset="0.1351" stop-color="#0069ff"/>
<stop offset="0.1622" stop-color="#006bff"/>
<stop offset="0.1892" stop-color="#006dff"/>
<stop offset="0.2162" stop-color="#0070ff"/>
<stop offset="0.2432" stop-color="#0072ff"/>
<stop offset="0.2703" stop-color="#0074ff"/>
<stop offset="0.2973" stop-color="#0076ff"/>
<stop offset="0.3243" stop-color="#0079ff"/>
<stop offset="0.3514" stop-color="#007bff"/>
<stop offset="0.3784" stop-color="#007eff"/>
<stop offset="0.4054" stop-color="#0080fe"/>
<stop offset="0.4324" stop-color="#0083fe"/>
<stop offset="0.4595" stop-color="#0085fe"/>
<stop offset="0.4865" stop-color="#0088fe"/>
<stop offset="0.5135" stop-color="#008bfe"/>
<stop offset="0.5405" stop-color="#008dfe"/>
<stop offset="0.5676" stop-color="#008ffe"/>
<stop offset="0.5946" stop-color="#0092fe"/>
<stop offset="0.6216" stop-color="#0094fe"/>
<stop offset="0.6486" stop-color="#0097fe"/>
<stop offset="0.6757" stop-color="#009afe"/>
<stop offset="0.7027" stop-color="#009dfe"/>
<stop offset="0.7297" stop-color="#00a0fd"/>
<stop offset="0.7568" stop-color="#00a2fd"/>
<stop offset="0.7838" stop-color="#00a6fd"/>
<stop offset="0.8108" stop-color="#00aafc"/>
<stop offset="0.8378" stop-color="#00b0fa"/>
<stop offset="0.8649" stop-color="#00b7f7"/>
<stop offset="0.8919" stop-color="#00bef3"/>
<stop offset="0.9189" stop-color="#00c5ec"/>
<stop offset="0.9459" stop-color="#00cce6"/>
<stop offset="0.9730" stop-color="#00d0e0"/>
<stop offset="1.0000" stop-color="#00d4db"/>
</linearGradient>
<linearGradient id="c135" gradientUnits="userSpaceOnUse" x1="0" y1="70" x2="0" y2="366">
<stop offset="0.0000" stop-color="#004bff"/>
<stop offset="0.0270" stop-color="#004bff"/>
<stop offset="0.0541" stop-color="#004cff"/>
<stop offset="0.0811" stop-color="#004cff"/>
<stop offset="0.1081" stop-color="#004cff"/>
<stop offset="0.1351" stop-color="#004cff"/>
<stop offset="0.1622" stop-color="#004cff"/>
<stop offset="0.1892" stop-color="#004dff"/>
<stop offset="0.2162" stop-color="#004eff"/>
<stop offset="0.2432" stop-color="#0050ff"/>
<stop offset="0.2703" stop-color="#0051ff"/>
<stop offset="0.2973" stop-color="#0052ff"/>
<stop offset="0.3243" stop-color="#0053ff"/>
<stop offset="0.3514" stop-color="#0055ff"/>
<stop offset="0.3784" stop-color="#0056ff"/>
<stop offset="0.4054" stop-color="#0057ff"/>
<stop offset="0.4324" stop-color="#0059ff"/>
<stop offset="0.4595" stop-color="#005aff"/>
<stop offset="0.4865" stop-color="#005bff"/>
<stop offset="0.5135" stop-color="#005dff"/>
<stop offset="0.5405" stop-color="#005eff"/>
<stop offset="0.5676" stop-color="#0060ff"/>
<stop offset="0.5946" stop-color="#0061ff"/>
<stop offset="0.6216" stop-color="#0063ff"/>
<stop offset="0.6486" stop-color="#0065ff"/>
<stop offset="0.6757" stop-color="#0066ff"/>
<stop offset="0.7027" stop-color="#0068ff"/>
<stop offset="0.7297" stop-color="#006aff"/>
<stop offset="0.7568" stop-color="#006cff"/>
<stop offset="0.7838" stop-color="#006eff"/>
<stop offset="0.8108" stop-color="#0070ff"/>
<stop offset="0.8378" stop-color="#0073ff"/>
<stop offset="0.8649" stop-color="#0077ff"/>
<stop offset="0.8919" stop-color="#007cfe"/>
<stop offset="0.9189" stop-color="#0080fe"/>
<stop offset="0.9459" stop-color="#0085fd"/>
<stop offset="0.9730" stop-color="#0089fd"/>
<stop offset="1.0000" stop-color="#008dfc"/>
</linearGradient>
<linearGradient id="c136" gradientUnits="userSpaceOnUse" x1="0" y1="70" x2="0" y2="366">
<stop offset="0.0000" stop-color="#0047ff"/>
<stop offset="0.0270" stop-color="#0047ff"/>
<stop offset="0.0541" stop-color="#0047ff"/>
<stop offset="0.0811" stop-color="#0047ff"/>
<stop offset="0.1081" stop-color="#0047ff"/>
<stop offset="0.1351" stop-color="#0047ff"/>
<stop offset="0.1622" stop-color="#0047ff"/>
<stop offset="0.1892" stop-color="#0048ff"/>
<stop offset="0.2162" stop-color="#0049ff"/>
<stop offset="0.2432" stop-color="#0049ff"/>
<stop offset="0.2703" stop-color="#004aff"/>
<stop offset="0.2973" stop-color="#004bff"/>
<stop offset="0.3243" stop-color="#004cff"/>
<stop offset="0.3514" stop-color="#004dff"/>
<stop offset="0.3784" stop-color="#004dff"/>
<stop offset="0.4054" stop-color="#004eff"/>
<stop offset="0.4324" stop-color="#004fff"/>
<stop offset="0.4595" stop-color="#0050ff"/>
<stop offset="0.4865" stop-color="#0050ff"/>
<stop offset="0.5135" stop-color="#0051ff"/>
<stop offset="0.5405" stop-color="#0052ff"/>
<stop offset="0.5676" stop-color="#0053ff"/>
<stop offset="0.5946" stop-color="#0054ff"/>
<stop offset="0.6216" stop-color="#0055ff"/>
<stop offset="0.6486" stop-color="#0056ff"/>
<stop offset="0.6757" stop-color="#0057ff"/>
<stop offset="0.7027" stop-color="#0058ff"/>
<stop offset="0.7297" stop-color="#0059ff"/>
<stop offset="0.7568" stop-color="#005aff"/>
<stop offset="0.7838" stop-color="#005bff"/>
<stop offset="0.8108" stop-color="#005cff"/>
<stop offset="0.8378" stop-color="#005dff"/>
<stop offset="0.8649" stop-color="#005eff"/>
<stop offset="0.8919" stop-color="#0060ff"/>
<stop offset="0.9189" stop-color="#0061ff"/>
<stop offset="0.9459" stop-color="#0063ff"/>
<stop offset="0.9730" stop-color="#0065ff"/>
<stop offset="1.0000" stop-color="#0066ff"/>
</linearGradient>
<linearGradient id="c137" gradientUnits="userSpaceOnUse" x1="0" y1="70" x2="0" y2="366">
<stop offset="0.0000" stop-color="#0046ff"/>
<stop offset="0.0270" stop-color="#0046ff"/>
<stop offset="0.0541" stop-color="#0046ff"/>
<stop offset="0.0811" stop-color="#0046ff"/>
<stop offset="0.1081" stop-color="#0046ff"/>
<stop offset="0.1351" stop-color="#0046ff"/>
<stop offset="0.1622" stop-color="#0046ff"/>
<stop offset="0.1892" stop-color="#0047ff"/>
<stop offset="0.2162" stop-color="#0048ff"/>
<stop offset="0.2432" stop-color="#0048ff"/>
<stop offset="0.2703" stop-color="#0049ff"/>
<stop offset="0.2973" stop-color="#004aff"/>
<stop offset="0.3243" stop-color="#004bff"/>
<stop offset="0.3514" stop-color="#004bff"/>
<stop offset="0.3784" stop-color="#004cff"/>
<stop offset="0.4054" stop-color="#004dff"/>
<stop offset="0.4324" stop-color="#004dff"/>
<stop offset="0.4595" stop-color="#004eff"/>
<stop offset="0.4865" stop-color="#004fff"/>
<stop offset="0.5135" stop-color="#0050ff"/>
<stop offset="0.5405" stop-color="#0050ff"/>
<stop offset="0.5676" stop-color="#0051ff"/>
<stop offset="0.5946" stop-color="#0052ff"/>
<stop offset="0.6216" stop-color="#0053ff"/>
<stop offset="0.6486" stop-color="#0053ff"/>
<stop offset="0.6757" stop-color="#0054ff"/>
<stop offset="0.7027" stop-color="#0055ff"/>
<stop offset="0.7297" stop-color="#0056ff"/>
<stop offset="0.7568" stop-color="#0056ff"/>
<stop offset="0.7838" stop-color="#0057ff"/>
<stop offset="0.8108" stop-color="#0058ff"/>
<stop offset="0.8378" stop-color="#0059ff"/>
<stop offset="0.8649" stop-color="#005aff"/>
<stop offset="0.8919" stop-color="#005aff"/>
<stop offset="0.9189" stop-color="#005bff"/>
<stop offset="0.9459" stop-color="#005cff"/>
<stop offset="0.9730" stop-color="#005dff"/>
<stop offset="1.0000" stop-color="#005eff"/>
</linearGradient>
<linearGradient id="c138" gradientUnits="userSpaceOnUse" x1="0" y1="70" x2="0" y2="366">
<stop offset="0.0000" stop-color="#0046ff"/>
<stop offset="0.0270" stop-color="#0046ff"/>
<stop offset="0.0541" stop-color="#0046ff"/>
<stop offset="0.0811" stop-color="#0046ff"/>
<stop offset="0.1081" stop-color="#0046ff"/>
<stop offset="0.1351" stop-color="#0046ff"/>
<stop offset="0.1622" stop-color="#0046ff"/>
<stop offset="0.1892" stop-color="#0047ff"/>
<stop offset="0.2162" stop-color="#0047ff"/>
<stop offset="0.2432" stop-color="#0048ff"/>
<stop offset="0.2703" stop-color="#0049ff"/>
<stop offset="0.2973" stop-color="#0049ff"/>
<stop offset="0.3243" stop-color="#004aff"/>
<stop offset="0.3514" stop-color="#004bff"/>
<stop offset="0.3784" stop-color="#004cff"/>
<stop offset="0.4054" stop-color="#004cff"/>
<stop offset="0.4324" stop-color="#004dff"/>
<stop offset="0.4595" stop-color="#004eff"/>
<stop offset="0.4865" stop-color="#004fff"/>
<stop offset="0.5135" stop-color="#004fff"/>
<stop offset="0.5405" stop-color="#0050ff"/>
<stop offset="0.5676" stop-color="#0051ff"/>
<stop offset="0.5946" stop-color="#0051ff"/>
<stop offset="0.6216" stop-color="#0052ff"/>
<stop offset="0.6486" stop-color="#0053ff"/>
<stop offset="0.6757" stop-color="#0054ff"/>
<stop offset="0.7027" stop-color="#0054ff"/>
<stop offset="0.7297" stop-color="#0055ff"/>
<stop offset="0.7568" stop-color="#0056ff"/>
<stop offset="0.7838" stop-color="#0057ff"/>
<stop offset="0.8108" stop-color="#0057ff"/>
<stop offset="0.8378" stop-color="#0058ff"/>
<stop offset="0.8649" stop-color="#0059ff"/>
<stop offset="0.8919" stop-color="#0059ff"/>
<stop offset="0.9189" stop-color="#005aff"/>
<stop offset="0.9459" stop-color="#005bff"/>
<stop offset="0.9730" stop-color="#005cff"/>
<stop offset="1.0000" stop-color="#005cff"/>
</linearGradient>
<linearGradient id="c139" gradientUnits="userSpaceOnUse" x1="0" y1="70" x2="0" y2="366">
<stop offset="0.0000" stop-color="#0046ff"/>
<stop offset="0.0270" stop-color="#0046ff"/>
<stop offset="0.0541" stop-color="#0046ff"/>
<stop offset="0.0811" stop-color="#0046ff"/>
<stop offset="0.1081" stop-color="#0046ff"/>
<stop offset="0.1351" stop-color="#0046ff"/>
<stop offset="0.1622" stop-color="#0046ff"/>
<stop offset="0.1892" stop-color="#0046ff"/>
<stop offset="0.2162" stop-color="#0047ff"/>
<stop offset="0.2432" stop-color="#0048ff"/>
<stop offset="0.2703" stop-color="#0048ff"/>
<stop offset="0.2973" stop-color="#0049ff"/>
<stop offset="0.3243" stop-color="#004aff"/>
<stop offset="0.3514" stop-color="#004aff"/>
<stop offset="0.3784" stop-color="#004bff"/>
<stop offset="0.4054" stop-color="#004cff"/>
<stop offset="0.4324" stop-color="#004dff"/>
<stop offset="0.4595" stop-color="#004dff"/>
<stop offset="0.4865" stop-color="#004eff"/>
<stop offset="0.5135" stop-color="#004fff"/>
<stop offset="0.5405" stop-color="#0050ff"/>
<stop offset="0.5676" stop-color="#0050ff"/>
<stop offset="0.5946" stop-color="#0051ff"/>
<stop offset="0.6216" stop-color="#0052ff"/>
<stop offset="0.6486" stop-color="#0053ff"/>
<stop offset="0.6757" stop-color="#0053ff"/>
<stop offset="0.7027" stop-color="#0054ff"/>
<stop offset="0.7297" stop-color="#0055ff"/>
<stop offset="0.7568" stop-color="#0055ff"/>
<stop offset="0.7838" stop-color="#0056ff"/>
<stop offset="0.8108" stop-color="#0057ff"/>
<stop offset="0.8378" stop-color="#0058ff"/>
<stop offset="0.8649" stop-color="#0058ff"/>
<stop offset="0.8919" stop-color="#0059ff"/>
<stop offset="0.9189" stop-color="#005aff"/>
<stop offset="0.9459" stop-color="#005bff"/>
<stop offset="0.9730" stop-color="#005bff"/>
<stop offset="1.0000" stop-color="#005cff"/>
</linearGradient>
<linearGradient id="c140" gradientUnits="userSpaceOnUse" x1="0" y1="70" x2="0" y2="366">
<stop offset="0.0000" stop-color="#0046ff"/>
<stop offset="0.0270" stop-color="#0046ff"/>
<stop offset="0.0541" stop-color="#0046ff"/>
<stop offset="0.0811" stop-color="#0046ff"/>
<stop offset="0.1081" stop-color="#0046ff"/>
<stop offset="0.1351" stop-color="#0046ff"/>
<stop offset="0.1622" stop-color="#0046ff"/>
<stop offset="0.1892" stop-color="#0047ff"/>
<stop offset="0.2162" stop-color="#0047ff"/>
<stop offset="0.2432" stop-color="#0048ff"/>
<stop offset="0.2703" stop-color="#0049ff"/>
<stop offset="0.2973" stop-color="#004aff"/>
<stop offset="0.3243" stop-color="#004aff"/>
<stop offset="0.3514" stop-color="#004bff"/>
<stop offset="0.3784" stop-color="#004cff"/>
<stop offset="0.4054" stop-color="#004dff"/>
<stop offset="0.4324" stop-color="#004dff"/>
<stop offset="0.4595" stop-color="#004eff"/>
<stop offset="0.4865" stop-color="#004fff"/>
<stop offset="0.5135" stop-color="#0050ff"/>
<stop offset="0.5405" stop-color="#0050ff"/>
<stop offset="0.5676" stop-color="#0051ff"/>
<stop offset="0.5946" stop-color="#0052ff"/>
<stop offset="0.6216" stop-color="#0052ff"/>
<stop offset="0.6486" stop-color="#0053ff"/>
<stop offset="0.6757" stop-color="#0054ff"/>
<stop offset="0.7027" stop-color="#0055ff"/>
<stop offset="0.7297" stop-color="#0055ff"/>
<stop offset="0.7568" stop-color="#0056ff"/>
<stop offset="0.7838" stop-color="#0057ff"/>
<stop offset="0.8108" stop-color="#0058ff"/>
<stop offset="0.8378" stop-color="#0058ff"/>
<stop offset="0.8649" stop-color="#0059ff"/>
<stop offset="0.8919" stop-color="#005aff"/>
<stop offset="0.9189" stop-color="#005bff"/>
<stop offset="0.9459" stop-color="#005bff"/>
<stop offset="0.9730" stop-color="#005cff"/>
<stop offset="1.0000" stop-color="#005dff"/>
</linearGradient>
<linearGradient id="c138" gradientUnits="userSpaceOnUse" x1="0" y1="70" x2="0" y2="366">
<stop offset="0.0000" stop-color="#0046ff"/>
<stop offset="0.0270" stop-color="#0046ff"/>
<stop offset="0.0541" stop-color="#0046ff"/>
<stop offset="0.0811" stop-color="#0046ff"/>
<stop offset="0.1081" stop-color="#0046ff"/>
<stop offset="0.1351" stop-color="#0046ff"/>
<stop offset="0.1622" stop-color="#0046ff"/>
<stop offset="0.1892" stop-color="#0047ff"/>
<stop offset="0.2162" stop-color="#0047ff"/>
<stop offset="0.2432" stop-color="#0048ff"/>
<stop offset="0.2703" stop-color="#0049ff"/>
<stop offset="0.2973" stop-color="#0049ff"/>
<stop offset="0.3243" stop-color="#004aff"/>
<stop offset="0.3514" stop-color="#004bff"/>
<stop offset="0.3784" stop-color="#004cff"/>
<stop offset="0.4054" stop-color="#004cff"/>
<stop offset="0.4324" stop-color="#004dff"/>
<stop offset="0.4595" stop-color="#004eff"/>
<stop offset="0.4865" stop-color="#004fff"/>
<stop offset="0.5135" stop-color="#004fff"/>
<stop offset="0.5405" stop-color="#0050ff"/>
<stop offset="0.5676" stop-color="#0051ff"/>
<stop offset="0.5946" stop-color="#0051ff"/>
<stop offset="0.6216" stop-color="#0052ff"/>
<stop offset="0.6486" stop-color="#0053ff"/>
<stop offset="0.6757" stop-color="#0054ff"/>
<stop offset="0.7027" stop-color="#0054ff"/>
<stop offset="0.7297" stop-color="#0055ff"/>
<stop offset="0.7568" stop-color="#0056ff"/>
<stop offset="0.7838" stop-color="#0057ff"/>
<stop offset="0.8108" stop-color="#0057ff"/>
<stop offset="0.8378" stop-color="#0058ff"/>
<stop offset="0.8649" stop-color="#0059ff"/>
<stop offset="0.8919" stop-color="#0059ff"/>
<stop offset="0.9189" stop-color="#005aff"/>
<stop offset="0.9459" stop-color="#005bff"/>
<stop offset="0.9730" stop-color="#005cff"/>
<stop offset="1.0000" stop-color="#005cff"/>
</linearGradient>
<linearGradient id="c139" gradientUnits="userSpaceOnUse" x1="0" y1="70" x2="0" y2="366">
<stop offset="0.0000" stop-color="#0046ff"/>
<stop offset="0.0270" stop-color="#0046ff"/>
<stop offset="0.0541" stop-color="#0046ff"/>
<stop offset="0.0811" stop-color="#0046ff"/>
<stop offset="0.1081" stop-color="#0046ff"/>
<stop offset="0.1351" stop-color="#0046ff"/>
<stop offset="0.1622" stop-color="#0046ff"/>
<stop offset="0.1892" stop-color="#0046ff"/>
<stop offset="0.2162" stop-color="#0047ff"/>
<stop offset="0.2432" stop-color="#0048ff"/>
<stop offset="0.2703" stop-color="#0048ff"/>
<stop offset="0.2973" stop-color="#0049ff"/>
<stop offset="0.3243" stop-color="#004aff"/>
<stop offset="0.3514" stop-color="#004aff"/>
<stop offset="0.3784" stop-color="#004bff"/>
<stop offset="0.4054" stop-color="#004cff"/>
<stop offset="0.4324" stop-color="#004dff"/>
<stop offset="0.4595" stop-color="#004dff"/>
<stop offset="0.4865" stop-color="#004eff"/>
<stop offset="0.5135" stop-color="#004fff"/>
<stop offset="0.5405" stop-color="#0050ff"/>
<stop offset="0.5676" stop-color="#0050ff"/>
<stop offset="0.5946" stop-color="#0051ff"/>
<stop offset="0.6216" stop-color="#0052ff"/>
<stop offset="0.6486" stop-color="#0053ff"/>
<stop offset="0.6757" stop-color="#0053ff"/>
<stop offset="0.7027" stop-color="#0054ff"/>
<stop offset="0.7297" stop-color="#0055ff"/>
<stop offset="0.7568" stop-color="#0055ff"/>
<stop offset="0.7838" stop-color="#0056ff"/>
<stop offset="0.8108" stop-color="#0057ff"/>
<stop offset="0.8378" stop-color="#0058ff"/>
<stop offset="0.8649" stop-color="#0058ff"/>
<stop offset="0.8919" stop-color="#0059ff"/>
<stop offset="0.9189" stop-color="#005aff"/>
<stop offset="0.9459" stop-color="#005bff"/>
<stop offset="0.9730" stop-color="#005bff"/>
<stop offset="1.0000" stop-color="#005cff"/>
</linearGradient>
<linearGradient id="c140" gradientUnits="userSpaceOnUse" x1="0" y1="70" x2="0" y2="366">
<stop offset="0.0000" stop-color="#0045ff"/>
<stop offset="0.0270" stop-color="#0045ff"/>
<stop offset="0.0541" stop-color="#0045ff"/>
<stop offset="0.0811" stop-color="#0045ff"/>
<stop offset="0.1081" stop-color="#0045ff"/>
<stop offset="0.1351" stop-color="#0045ff"/>
<stop offset="0.1622" stop-color="#0045ff"/>
<stop offset="0.1892" stop-color="#0046ff"/>
<stop offset="0.2162" stop-color="#0047ff"/>
<stop offset="0.2432" stop-color="#0047ff"/>
<stop offset="0.2703" stop-color="#0048ff"/>
<stop offset="0.2973" stop-color="#0049ff"/>
<stop offset="0.3243" stop-color="#004aff"/>
<stop offset="0.3514" stop-color="#004aff"/>
<stop offset="0.3784" stop-color="#004bff"/>
<stop offset="0.4054" stop-color="#004cff"/>
<stop offset="0.4324" stop-color="#004cff"/>
<stop offset="0.4595" stop-color="#004dff"/>
<stop offset="0.4865" stop-color="#004eff"/>
<stop offset="0.5135" stop-color="#004fff"/>
<stop offset="0.5405" stop-color="#004fff"/>
<stop offset="0.5676" stop-color="#0050ff"/>
<stop offset="0.5946" stop-color="#0051ff"/>
<stop offset="0.6216" stop-color="#0052ff"/>
<stop offset="0.6486" stop-color="#0052ff"/>
<stop offset="0.6757" stop-color="#0053ff"/>
<stop offset="0.7027" stop-color="#0054ff"/>
<stop offset="0.7297" stop-color="#0055ff"/>
<stop offset="0.7568" stop-color="#0055ff"/>
<stop offset="0.7838" stop-color="#0056ff"/>
<stop offset="0.8108" stop-color="#0057ff"/>
<stop offset="0.8378" stop-color="#0058ff"/>
<stop offset="0.8649" stop-color="#0058ff"/>
<stop offset="0.8919" stop-color="#0059ff"/>
<stop offset="0.9189" stop-color="#005aff"/>
<stop offset="0.9459" stop-color="#005aff"/>
<stop offset="0.9730" stop-color="#005bff"/>
<stop offset="1.0000" stop-color="#005cff"/>
</linearGradient>
<linearGradient id="c141" gradientUnits="userSpaceOnUse" x1="0" y1="70" x2="0" y2="366">
<stop offset="0.0000" stop-color="#004fff"/>
<stop offset="0.0270" stop-color="#004fff"/>
<stop offset="0.0541" stop-color="#004fff"/>
<stop offset="0.0811" stop-color="#004fff"/>
<stop offset="0.1081" stop-color="#004eff"/>
<stop offset="0.1351" stop-color="#004eff"/>
<stop offset="0.1622" stop-color="#004dff"/>
<stop offset="0.1892" stop-color="#004eff"/>
<stop offset="0.2162" stop-color="#004eff"/>
<stop offset="0.2432" stop-color="#004fff"/>
<stop offset="0.2703" stop-color="#004fff"/>
<stop offset="0.2973" stop-color="#0050ff"/>
<stop offset="0.3243" stop-color="#0050ff"/>
<stop offset="0.3514" stop-color="#0051ff"/>
<stop offset="0.3784" stop-color="#0051ff"/>
<stop offset="0.4054" stop-color="#0052ff"/>
<stop offset="0.4324" stop-color="#0052ff"/>
<stop offset="0.4595" stop-color="#0053ff"/>
<stop offset="0.4865" stop-color="#0054ff"/>
<stop offset="0.5135" stop-color="#0055ff"/>
<stop offset="0.5405" stop-color="#0055ff"/>
<stop offset="0.5676" stop-color="#0056ff"/>
<stop offset="0.5946" stop-color="#0057ff"/>
<stop offset="0.6216" stop-color="#0058ff"/>
<stop offset="0.6486" stop-color="#0058ff"/>
<stop offset="0.6757" stop-color="#0059ff"/>
<stop offset="0.7027" stop-color="#005aff"/>
<stop offset="0.7297" stop-color="#005aff"/>
<stop offset="0.7568" stop-color="#005bff"/>
<stop offset="0.7838" stop-color="#005cff"/>
<stop offset="0.8108" stop-color="#005dff"/>
<stop offset="0.8378" stop-color="#005dff"/>
<stop offset="0.8649" stop-color="#005eff"/>
<stop offset="0.8919" stop-color="#005fff"/>
<stop offset="0.9189" stop-color="#0060ff"/>
<stop offset="0.9459" stop-color="#0060ff"/>
<stop offset="0.9730" stop-color="#0060ff"/>
<stop offset="1.0000" stop-color="#0061ff"/>
</linearGradient>
<linearGradient id="c142" gradientUnits="userSpaceOnUse" x1="0" y1="70" x2="0" y2="366">
<stop offset="0.0000" stop-color="#0395ed"/>
<stop offset="0.0270" stop-color="#0294ed"/>
<stop offset="0.0541" stop-color="#0292ee"/>
<stop offset="0.0811" stop-color="#0290f0"/>
<stop offset="0.1081" stop-color="#018df1"/>
<stop offset="0.1351" stop-color="#018bf2"/>
<stop offset="0.1622" stop-color="#018af3"/>
<stop offset="0.1892" stop-color="#0189f4"/>
<stop offset="0.2162" stop-color="#0188f5"/>
<stop offset="0.2432" stop-color="#0187f6"/>
<stop offset="0.2703" stop-color="#0186f7"/>
<stop offset="0.2973" stop-color="#0086f8"/>
<stop offset="0.3243" stop-color="#0085f8"/>
<stop offset="0.3514" stop-color="#0084f9"/>
<stop offset="0.3784" stop-color="#0083f9"/>
<stop offset="0.4054" stop-color="#0082fa"/>
<stop offset="0.4324" stop-color="#0081fa"/>
<stop offset="0.4595" stop-color="#0081fa"/>
<stop offset="0.4865" stop-color="#0081fb"/>
<stop offset="0.5135" stop-color="#0081fb"/>
<stop offset="0.5405" stop-color="#0081fb"/>
<stop offset="0.5676" stop-color="#0081fb"/>
<stop offset="0.5946" stop-color="#0082fc"/>
<stop offset="0.6216" stop-color="#0082fc"/>
<stop offset="0.6486" stop-color="#0082fc"/>
<stop offset="0.6757" stop-color="#0082fd"/>
<stop offset="0.7027" stop-color="#0082fd"/>
<stop offset="0.7297" stop-color="#0082fd"/>
<stop offset="0.7568" stop-color="#0082fd"/>
<stop offset="0.7838" stop-color="#0082fe"/>
<stop offset="0.8108" stop-color="#0082fe"/>
<stop offset="0.8378" stop-color="#0082fe"/>
<stop offset="0.8649" stop-color="#0082fe"/>
<stop offset="0.8919" stop-color="#0081fe"/>
<stop offset="0.9189" stop-color="#0080fe"/>
<stop offset="0.9459" stop-color="#0080fe"/>
<stop offset="0.9730" stop-color="#007fff"/>
<stop offset="1.0000" stop-color="#007eff"/>
</linearGradient>
<linearGradient id="c143" gradientUnits="userSpaceOnUse" x1="0" y1="70" x2="0" y2="366">
<stop offset="0.0000" stop-color="#4ae263"/>
<stop offset="0.0270" stop-color="#47e265"/>
<stop offset="0.0541" stop-color="#44e268"/>
<stop offset="0.0811" stop-color="#3de46d"/>
<stop offset="0.1081" stop-color="#37e572"/>
<stop offset="0.1351" stop-color="#33e675"/>
<stop offset="0.1622" stop-color="#2de679"/>
<stop offset="0.1892" stop-color="#2be67e"/>
<stop offset="0.2162" stop-color="#28e683"/>
<stop offset="0.2432" stop-color="#25e687"/>
<stop offset="0.2703" stop-color="#22e68c"/>
<stop offset="0.2973" stop-color="#20e690"/>
<stop offset="0.3243" stop-color="#1ce594"/>
<stop offset="0.3514" stop-color="#19e497"/>
<stop offset="0.3784" stop-color="#16e29b"/>
<stop offset="0.4054" stop-color="#13e19e"/>
<stop offset="0.4324" stop-color="#11e0a3"/>
<stop offset="0.4595" stop-color="#10e0a6"/>
<stop offset="0.4865" stop-color="#0edfaa"/>
<stop offset="0.5135" stop-color="#0cdfad"/>
<stop offset="0.5405" stop-color="#0bdfaf"/>
<stop offset="0.5676" stop-color="#09deb2"/>
<stop offset="0.5946" stop-color="#08deb6"/>
<stop offset="0.6216" stop-color="#06ddb8"/>
<stop offset="0.6486" stop-color="#06ddbb"/>
<stop offset="0.6757" stop-color="#05dcbf"/>
<stop offset="0.7027" stop-color="#04dcc3"/>
<stop offset="0.7297" stop-color="#03dcc6"/>
<stop offset="0.7568" stop-color="#03dbca"/>
<stop offset="0.7838" stop-color="#02d9cd"/>
<stop offset="0.8108" stop-color="#01d8d0"/>
<stop offset="0.8378" stop-color="#01d7d3"/>
<stop offset="0.8649" stop-color="#01d5d7"/>
<stop offset="0.8919" stop-color="#00d3db"/>
<stop offset="0.9189" stop-color="#00d1e0"/>
<stop offset="0.9459" stop-color="#00d0e4"/>
<stop offset="0.9730" stop-color="#00cee9"/>
<stop offset="1.0000" stop-color="#00cbec"/>
</linearGradient>
<linearGradient id="c144" gradientUnits="userSpaceOnUse" x1="0" y1="70" x2="0" y2="366">
<stop offset="0.0000" stop-color="#dba306"/>
<stop offset="0.0270" stop-color="#d9a306"/>
<stop offset="0.0541" stop-color="#d8a607"/>
<stop offset="0.0811" stop-color="#d3b408"/>
<stop offset="0.1081" stop-color="#cfc108"/>
<stop offset="0.1351" stop-color="#ccca09"/>
<stop offset="0.1622" stop-color="#c7cf09"/>
<stop offset="0.1892" stop-color="#c3d30a"/>
<stop offset="0.2162" stop-color="#bfd80c"/>
<stop offset="0.2432" stop-color="#bbde0d"/>
<stop offset="0.2703" stop-color="#b7e30e"/>
<stop offset="0.2973" stop-color="#b4e80f"/>
<stop offset="0.3243" stop-color="#adeb10"/>
<stop offset="0.3514" stop-color="#a6ef11"/>
<stop offset="0.3784" stop-color="#9ff313"/>
<stop offset="0.4054" stop-color="#98f714"/>
<stop offset="0.4324" stop-color="#93f916"/>
<stop offset="0.4595" stop-color="#8cfb18"/>
<stop offset="0.4865" stop-color="#84fe1b"/>
<stop offset="0.5135" stop-color="#7bfe1d"/>
<stop offset="0.5405" stop-color="#75fe1e"/>
<stop offset="0.5676" stop-color="#6bfe20"/>
<stop offset="0.5946" stop-color="#61fe21"/>
<stop offset="0.6216" stop-color="#59fe23"/>
<stop offset="0.6486" stop-color="#53fe25"/>
<stop offset="0.6757" stop-color="#4bfe29"/>
<stop offset="0.7027" stop-color="#43fe2d"/>
<stop offset="0.7297" stop-color="#3cfe30"/>
<stop offset="0.7568" stop-color="#34fe33"/>
<stop offset="0.7838" stop-color="#2bfd38"/>
<stop offset="0.8108" stop-color="#24fd3d"/>
<stop offset="0.8378" stop-color="#1ffd41"/>
<stop offset="0.8649" stop-color="#18fd48"/>
<stop offset="0.8919" stop-color="#10fd4f"/>
<stop offset="0.9189" stop-color="#0bfc59"/>
<stop offset="0.9459" stop-color="#06fc63"/>
<stop offset="0.9730" stop-color="#03fc6f"/>
<stop offset="1.0000" stop-color="#01fb7b"/>
</linearGradient>
<linearGradient id="c145" gradientUnits="userSpaceOnUse" x1="0" y1="70" x2="0" y2="366">
<stop offset="0.0000" stop-color="#8dd029"/>
<stop offset="0.0270" stop-color="#93ce26"/>
<stop offset="0.0541" stop-color="#97cd23"/>
<stop offset="0.0811" stop-color="#98d322"/>
<stop offset="0.1081" stop-color="#99d820"/>
<stop offset="0.1351" stop-color="#9bdb1e"/>
<stop offset="0.1622" stop-color="#9ddd1c"/>
<stop offset="0.1892" stop-color="#9fdf19"/>
<stop offset="0.2162" stop-color="#a1e117"/>
<stop offset="0.2432" stop-color="#a3e415"/>
<stop offset="0.2703" stop-color="#a6e713"/>
<stop offset="0.2973" stop-color="#a9e912"/>
<stop offset="0.3243" stop-color="#aaec11"/>
<stop offset="0.3514" stop-color="#abef10"/>
<stop offset="0.3784" stop-color="#abf20f"/>
<stop offset="0.4054" stop-color="#acf60e"/>
<stop offset="0.4324" stop-color="#acf80d"/>
<stop offset="0.4595" stop-color="#abfb0c"/>
<stop offset="0.4865" stop-color="#a8fe0b"/>
<stop offset="0.5135" stop-color="#a5ff0a"/>
<stop offset="0.5405" stop-color="#a3ff09"/>
<stop offset="0.5676" stop-color="#9eff08"/>
<stop offset="0.5946" stop-color="#96ff07"/>
<stop offset="0.6216" stop-color="#92ff07"/>
<stop offset="0.6486" stop-color="#8eff07"/>
<stop offset="0.6757" stop-color="#86ff06"/>
<stop offset="0.7027" stop-color="#7dff06"/>
<stop offset="0.7297" stop-color="#76ff06"/>
<stop offset="0.7568" stop-color="#6eff06"/>
<stop offset="0.7838" stop-color="#62ff06"/>
<stop offset="0.8108" stop-color="#58ff07"/>
<stop offset="0.8378" stop-color="#51ff07"/>
<stop offset="0.8649" stop-color="#45ff08"/>
<stop offset="0.8919" stop-color="#36ff09"/>
<stop offset="0.9189" stop-color="#27ff0b"/>
<stop offset="0.9459" stop-color="#1aff0f"/>
<stop offset="0.9730" stop-color="#0dff13"/>
<stop offset="1.0000" stop-color="#03ff1a"/>
</linearGradient>
<linearGradient id="c146" gradientUnits="userSpaceOnUse" x1="0" y1="70" x2="0" y2="366">
<stop offset="0.0000" stop-color="#0dbec5"/>
<stop offset="0.0270" stop-color="#0fc2c1"/>
<stop offset="0.0541" stop-color="#11c6bd"/>
<stop offset="0.0811" stop-color="#11c9bb"/>
<stop offset="0.1081" stop-color="#11cdb8"/>
<stop offset="0.1351" stop-color="#12d0b5"/>
<stop offset="0.1622" stop-color="#13d2b0"/>
<stop offset="0.1892" stop-color="#14d5ab"/>
<stop offset="0.2162" stop-color="#15d7a6"/>
<stop offset="0.2432" stop-color="#15daa1"/>
<stop offset="0.2703" stop-color="#17dd9e"/>
<stop offset="0.2973" stop-color="#19e09a"/>
<stop offset="0.3243" stop-color="#1be397"/>
<stop offset="0.3514" stop-color="#1ce693"/>
<stop offset="0.3784" stop-color="#1de88f"/>
<stop offset="0.4054" stop-color="#1ee98b"/>
<stop offset="0.4324" stop-color="#1feb86"/>
<stop offset="0.4595" stop-color="#20ed81"/>
<stop offset="0.4865" stop-color="#20ef7d"/>
<stop offset="0.5135" stop-color="#21f177"/>
<stop offset="0.5405" stop-color="#22f372"/>
<stop offset="0.5676" stop-color="#22f56d"/>
<stop offset="0.5946" stop-color="#21f669"/>
<stop offset="0.6216" stop-color="#22f765"/>
<stop offset="0.6486" stop-color="#23f860"/>
<stop offset="0.6757" stop-color="#23f95d"/>
<stop offset="0.7027" stop-color="#21f95a"/>
<stop offset="0.7297" stop-color="#21fa57"/>
<stop offset="0.7568" stop-color="#20fb55"/>
<stop offset="0.7838" stop-color="#1dfc53"/>
<stop offset="0.8108" stop-color="#1bfc51"/>
<stop offset="0.8378" stop-color="#19fc4f"/>
<stop offset="0.8649" stop-color="#16fc4e"/>
<stop offset="0.8919" stop-color="#10fd4f"/>
<stop offset="0.9189" stop-color="#0cfd51"/>
<stop offset="0.9459" stop-color="#08fd55"/>
<stop offset="0.9730" stop-color="#04fd59"/>
<stop offset="1.0000" stop-color="#01fd5f"/>
</linearGradient>
<linearGradient id="c147" gradientUnits="userSpaceOnUse" x1="0" y1="70" x2="0" y2="366">
<stop offset="0.0000" stop-color="#005efd"/>
<stop offset="0.0270" stop-color="#0060fd"/>
<stop offset="0.0541" stop-color="#0063fd"/>
<stop offset="0.0811" stop-color="#0065fd"/>
<stop offset="0.1081" stop-color="#0067fd"/>
<stop offset="0.1351" stop-color="#006afc"/>
<stop offset="0.1622" stop-color="#006cfc"/>
<stop offset="0.1892" stop-color="#006ffb"/>
<stop offset="0.2162" stop-color="#0072fb"/>
<stop offset="0.2432" stop-color="#0076fa"/>
<stop offset="0.2703" stop-color="#007afa"/>
<stop offset="0.2973" stop-color="#007df9"/>
<stop offset="0.3243" stop-color="#0081f9"/>
<stop offset="0.3514" stop-color="#0085f8"/>
<stop offset="0.3784" stop-color="#0088f7"/>
<stop offset="0.4054" stop-color="#008cf6"/>
<stop offset="0.4324" stop-color="#008ff5"/>
<stop offset="0.4595" stop-color="#0194f4"/>
<stop offset="0.4865" stop-color="#0198f3"/>
<stop offset="0.5135" stop-color="#019df1"/>
<stop offset="0.5405" stop-color="#01a3f0"/>
<stop offset="0.5676" stop-color="#01a8ef"/>
<stop offset="0.5946" stop-color="#01aced"/>
<stop offset="0.6216" stop-color="#01b0eb"/>
<stop offset="0.6486" stop-color="#01b5e8"/>
<stop offset="0.6757" stop-color="#01b9e7"/>
<stop offset="0.7027" stop-color="#01bde5"/>
<stop offset="0.7297" stop-color="#01c1e4"/>
<stop offset="0.7568" stop-color="#01c5e2"/>
<stop offset="0.7838" stop-color="#01c8e1"/>
<stop offset="0.8108" stop-color="#01cbdf"/>
<stop offset="0.8378" stop-color="#01cedc"/>
<stop offset="0.8649" stop-color="#01d1db"/>
<stop offset="0.8919" stop-color="#00d3db"/>
<stop offset="0.9189" stop-color="#00d4db"/>
<stop offset="0.9459" stop-color="#00d6dc"/>
<stop offset="0.9730" stop-color="#00d8dd"/>
<stop offset="1.0000" stop-color="#00d9de"/>
</linearGradient>
<linearGradient id="c148" gradientUnits="userSpaceOnUse" x1="0" y1="70" x2="0" y2="366">
<stop offset="0.0000" stop-color="#0044ff"/>
<stop offset="0.0270" stop-color="#0044ff"/>
<stop offset="0.0541" stop-color="#0044ff"/>
<stop offset="0.0811" stop-color="#0045ff"/>
<stop offset="0.1081" stop-color="#0045ff"/>
<stop offset="0.1351" stop-color="#0045ff"/>
<stop offset="0.1622" stop-color="#0046ff"/>
<stop offset="0.1892" stop-color="#0047ff"/>
<stop offset="0.2162" stop-color="#0048ff"/>
<stop offset="0.2432" stop-color="#0049ff"/>
<stop offset="0.2703" stop-color="#004aff"/>
<stop offset="0.2973" stop-color="#004cff"/>
<stop offset="0.3243" stop-color="#004dff"/>
<stop offset="0.3514" stop-color="#004eff"/>
<stop offset="0.3784" stop-color="#0050ff"/>
<stop offset="0.4054" stop-color="#0051ff"/>
<stop offset="0.4324" stop-color="#0053ff"/>
<stop offset="0.4595" stop-color="#0055ff"/>
<stop offset="0.4865" stop-color="#0057ff"/>
<stop offset="0.5135" stop-color="#0059ff"/>
<stop offset="0.5405" stop-color="#005bff"/>
<stop offset="0.5676" stop-color="#005eff"/>
<stop offset="0.5946" stop-color="#0060ff"/>
<stop offset="0.6216" stop-color="#0063ff"/>
<stop offset="0.6486" stop-color="#0066ff"/>
<stop offset="0.6757" stop-color="#0068ff"/>
<stop offset="0.7027" stop-color="#006bff"/>
<stop offset="0.7297" stop-color="#006eff"/>
<stop offset="0.7568" stop-color="#0071ff"/>
<stop offset="0.7838" stop-color="#0074fe"/>
<stop offset="0.8108" stop-color="#0076fe"/>
<stop offset="0.8378" stop-color="#007afe"/>
<stop offset="0.8649" stop-color="#007cfe"/>
<stop offset="0.8919" stop-color="#007ffe"/>
<stop offset="0.9189" stop-color="#0081fe"/>
<stop offset="0.9459" stop-color="#0084fe"/>
<stop offset="0.9730" stop-color="#0086fe"/>
<stop offset="1.0000" stop-color="#0088fe"/>
</linearGradient>
<linearGradient id="c149" gradientUnits="userSpaceOnUse" x1="0" y1="70" x2="0" y2="366">
<stop offset="0.0000" stop-color="#0041ff"/>
<stop offset="0.0270" stop-color="#0041ff"/>
<stop offset="0.0541" stop-color="#0041ff"/>
<stop offset="0.0811" stop-color="#0041ff"/>
<stop offset="0.1081" stop-color="#0042ff"/>
<stop offset="0.1351" stop-color="#0042ff"/>
<stop offset="0.1622" stop-color="#0042ff"/>
<stop offset="0.1892" stop-color="#0042ff"/>
<stop offset="0.2162" stop-color="#0043ff"/>
<stop offset="0.2432" stop-color="#0044ff"/>
<stop offset="0.2703" stop-color="#0044ff"/>
<stop offset="0.2973" stop-color="#0045ff"/>
<stop offset="0.3243" stop-color="#0046ff"/>
<stop offset="0.3514" stop-color="#0047ff"/>
<stop offset="0.3784" stop-color="#0048ff"/>
<stop offset="0.4054" stop-color="#0049ff"/>
<stop offset="0.4324" stop-color="#0049ff"/>
<stop offset="0.4595" stop-color="#004aff"/>
<stop offset="0.4865" stop-color="#004bff"/>
<stop offset="0.5135" stop-color="#004cff"/>
<stop offset="0.5405" stop-color="#004dff"/>
<stop offset="0.5676" stop-color="#004eff"/>
<stop offset="0.5946" stop-color="#004fff"/>
<stop offset="0.6216" stop-color="#0050ff"/>
<stop offset="0.6486" stop-color="#0051ff"/>
<stop offset="0.6757" stop-color="#0052ff"/>
<stop offset="0.7027" stop-color="#0053ff"/>
<stop offset="0.7297" stop-color="#0054ff"/>
<stop offset="0.7568" stop-color="#0055ff"/>
<stop offset="0.7838" stop-color="#0056ff"/>
<stop offset="0.8108" stop-color="#0058ff"/>
<stop offset="0.8378" stop-color="#0059ff"/>
<stop offset="0.8649" stop-color="#005aff"/>
<stop offset="0.8919" stop-color="#005cff"/>
<stop offset="0.9189" stop-color="#005dff"/>
<stop offset="0.9459" stop-color="#005eff"/>
<stop offset="0.9730" stop-color="#005fff"/>
<stop offset="1.0000" stop-color="#0061ff"/>
</linearGradient>
<linearGradient id="c150" gradientUnits="userSpaceOnUse" x1="0" y1="70" x2="0" y2="366">
<stop offset="0.0000" stop-color="#0041ff"/>
<stop offset="0.0270" stop-color="#0041ff"/>
<stop offset="0.0541" stop-color="#0041ff"/>
<stop offset="0.0811" stop-color="#0041ff"/>
<stop offset="0.1081" stop-color="#0041ff"/>
<stop offset="0.1351" stop-color="#0041ff"/>
<stop offset="0.1622" stop-color="#0041ff"/>
<stop offset="0.1892" stop-color="#0042ff"/>
<stop offset="0.2162" stop-color="#0043ff"/>
<stop offset="0.2432" stop-color="#0043ff"/>
<stop offset="0.2703" stop-color="#0044ff"/>
<stop offset="0.2973" stop-color="#0045ff"/>
<stop offset="0.3243" stop-color="#0045ff"/>
<stop offset="0.3514" stop-color="#0046ff"/>
<stop offset="0.3784" stop-color="#0047ff"/>
<stop offset="0.4054" stop-color="#0048ff"/>
<stop offset="0.4324" stop-color="#0048ff"/>
<stop offset="0.4595" stop-color="#0049ff"/>
<stop offset="0.4865" stop-color="#004aff"/>
<stop offset="0.5135" stop-color="#004bff"/>
<stop offset="0.5405" stop-color="#004bff"/>
<stop offset="0.5676" stop-color="#004cff"/>
<stop offset="0.5946" stop-color="#004dff"/>
<stop offset="0.6216" stop-color="#004dff"/>
<stop offset="0.6486" stop-color="#004eff"/>
<stop offset="0.6757" stop-color="#004fff"/>
<stop offset="0.7027" stop-color="#0050ff"/>
<stop offset="0.7297" stop-color="#0051ff"/>
<stop offset="0.7568" stop-color="#0051ff"/>
<stop offset="0.7838" stop-color="#0052ff"/>
<stop offset="0.8108" stop-color="#0053ff"/>
<stop offset="0.8378" stop-color="#0054ff"/>
<stop offset="0.8649" stop-color="#0055ff"/>
<stop offset="0.8919" stop-color="#0056ff"/>
<stop offset="0.9189" stop-color="#0056ff"/>
<stop offset="0.9459" stop-color="#0057ff"/>
<stop offset="0.9730" stop-color="#0058ff"/>
<stop offset="1.0000" stop-color="#0059ff"/>
</linearGradient>
<linearGradient id="c151" gradientUnits="userSpaceOnUse" x1="0" y1="70" x2="0" y2="366">
<stop offset="0.0000" stop-color="#0041ff"/>
<stop offset="0.0270" stop-color="#0041ff"/>
<stop offset="0.0541" stop-color="#0041ff"/>
<stop offset="0.0811" stop-color="#0041ff"/>
<stop offset="0.1081" stop-color="#0041ff"/>
<stop offset="0.1351" stop-color="#0041ff"/>
<stop offset="0.1622" stop-color="#0041ff"/>
<stop offset="0.1892" stop-color="#0042ff"/>
<stop offset="0.2162" stop-color="#0042ff"/>
<stop offset="0.2432" stop-color="#0043ff"/>
<stop offset="0.2703" stop-color="#0044ff"/>
<stop offset="0.2973" stop-color="#0045ff"/>
<stop offset="0.3243" stop-color="#0045ff"/>
<stop offset="0.3514" stop-color="#0046ff"/>
<stop offset="0.3784" stop-color="#0047ff"/>
<stop offset="0.4054" stop-color="#0048ff"/>
<stop offset="0.4324" stop-color="#0048ff"/>
<stop offset="0.4595" stop-color="#0049ff"/>
<stop offset="0.4865" stop-color="#004aff"/>
<stop offset="0.5135" stop-color="#004aff"/>
<stop offset="0.5405" stop-color="#004bff"/>
<stop offset="0.5676" stop-color="#004cff"/>
<stop offset="0.5946" stop-color="#004dff"/>
<stop offset="0.6216" stop-color="#004dff"/>
<stop offset="0.6486" stop-color="#004eff"/>
<stop offset="0.6757" stop-color="#004fff"/>
<stop offset="0.7027" stop-color="#0050ff"/>
<stop offset="0.7297" stop-color="#0050ff"/>
<stop offset="0.7568" stop-color="#0051ff"/>
<stop offset="0.7838" stop-color="#0052ff"/>
<stop offset="0.8108" stop-color="#0052ff"/>
<stop offset="0.8378" stop-color="#0053ff"/>
<stop offset="0.8649" stop-color="#0054ff"/>
<stop offset="0.8919" stop-color="#0055ff"/>
<stop offset="0.9189" stop-color="#0055ff"/>
<stop offset="0.9459" stop-color="#0056ff"/>
<stop offset="0.9730" stop-color="#0057ff"/>
<stop offset="1.0000" stop-color="#0058ff"/>
</linearGradient>
<linearGradient id="c152" gradientUnits="userSpaceOnUse" x1="0" y1="70" x2="0" y2="366">
<stop offset="0.0000" stop-color="#0041ff"/>
<stop offset="0.0270" stop-color="#0041ff"/>
<stop offset="0.0541" stop-color="#0041ff"/>
<stop offset="0.0811" stop-color="#0041ff"/>
<stop offset="0.1081" stop-color="#0041ff"/>
<stop offset="0.1351" stop-color="#0041ff"/>
<stop offset="0.1622" stop-color="#0041ff"/>
<stop offset="0.1892" stop-color="#0042ff"/>
<stop offset="0.2162" stop-color="#0042ff"/>
<stop offset="0.2432" stop-color="#0043ff"/>
<stop offset="0.2703" stop-color="#0044ff"/>
<stop offset="0.2973" stop-color="#0045ff"/>
<stop offset="0.3243" stop-color="#0045ff"/>
<stop offset="0.3514" stop-color="#0046ff"/>
<stop offset="0.3784" stop-color="#0047ff"/>
<stop offset="0.4054" stop-color="#0047ff"/>
<stop offset="0.4324" stop-color="#0048ff"/>
<stop offset="0.4595" stop-color="#0049ff"/>
<stop offset="0.4865" stop-color="#004aff"/>
<stop offset="0.5135" stop-color="#004aff"/>
<stop offset="0.5405" stop-color="#004bff"/>
<stop offset="0.5676" stop-color="#004cff"/>
<stop offset="0.5946" stop-color="#004dff"/>
<stop offset="0.6216" stop-color="#004dff"/>
<stop offset="0.6486" stop-color="#004eff"/>
<stop offset="0.6757" stop-color="#004fff"/>
<stop offset="0.7027" stop-color="#004fff"/>
<stop offset="0.7297" stop-color="#0050ff"/>
<stop offset="0.7568" stop-color="#0051ff"/>
<stop offset="0.7838" stop-color="#0052ff"/>
<stop offset="0.8108" stop-color="#0052ff"/>
<stop offset="0.8378" stop-color="#0053ff"/>
<stop offset="0.8649" stop-color="#0054ff"/>
<stop offset="0.8919" stop-color="#0055ff"/>
<stop offset="0.9189" stop-color="#0055ff"/>
<stop offset="0.9459" stop-color="#0056ff"/>
<stop offset="0.9730" stop-color="#0057ff"/>
<stop offset="1.0000" stop-color="#0057ff"/>
</linearGradient>
<linearGradient id="c195" gradientUnits="userSpaceOnUse" x1="0" y1="70" x2="0" y2="366">
<stop offset="0.0000" stop-color="#003cff"/>
<stop offset="0.0270" stop-color="#003cff"/>
<stop offset="0.0541" stop-color="#003cff"/>
<stop offset="0.0811" stop-color="#003cff"/>
<stop offset="0.1081" stop-color="#003cff"/>
<stop offset="0.1351" stop-color="#003cff"/>
<stop offset="0.1622" stop-color="#003cff"/>
<stop offset="0.1892" stop-color="#003dff"/>
<stop offset="0.2162" stop-color="#003dff"/>
<stop offset="0.2432" stop-color="#003eff"/>
<stop offset="0.2703" stop-color="#003fff"/>
<stop offset="0.2973" stop-color="#0040ff"/>
<stop offset="0.3243" stop-color="#0040ff"/>
<stop offset="0.3514" stop-color="#0041ff"/>
<stop offset="0.3784" stop-color="#0042ff"/>
<stop offset="0.4054" stop-color="#0043ff"/>
<stop offset="0.4324" stop-color="#0043ff"/>
<stop offset="0.4595" stop-color="#0044ff"/>
<stop offset="0.4865" stop-color="#0045ff"/>
<stop offset="0.5135" stop-color="#0046ff"/>
<stop offset="0.5405" stop-color="#0046ff"/>
<stop offset="0.5676" stop-color="#0047ff"/>
<stop offset="0.5946" stop-color="#0048ff"/>
<stop offset="0.6216" stop-color="#0048ff"/>
<stop offset="0.6486" stop-color="#0049ff"/>
<stop offset="0.6757" stop-color="#004aff"/>
<stop offset="0.7027" stop-color="#004bff"/>
<stop offset="0.7297" stop-color="#004bff"/>
<stop offset="0.7568" stop-color="#004cff"/>
<stop offset="0.7838" stop-color="#004dff"/>
<stop offset="0.8108" stop-color="#004eff"/>
<stop offset="0.8378" stop-color="#004eff"/>
<stop offset="0.8649" stop-color="#0050ff"/>
<stop offset="0.8919" stop-color="#0052ff"/>
<stop offset="0.9189" stop-color="#0053ff"/>
<stop offset="0.9459" stop-color="#0053ff"/>
<stop offset="0.9730" stop-color="#0055ff"/>
<stop offset="1.0000" stop-color="#0056ff"/>
</linearGradient>
<linearGradient id="c196" gradientUnits="userSpaceOnUse" x1="0" y1="70" x2="0" y2="366">
<stop offset="0.0000" stop-color="#003bff"/>
<stop offset="0.0270" stop-color="#003bff"/>
<stop offset="0.0541" stop-color="#003bff"/>
<stop offset="0.0811" stop-color="#003bff"/>
<stop offset="0.1081" stop-color="#003bff"/>
<stop offset="0.1351" stop-color="#003bff"/>
<stop offset="0.1622" stop-color="#003bff"/>
<stop offset="0.1892" stop-color="#003bff"/>
<stop offset="0.2162" stop-color="#003cff"/>
<stop offset="0.2432" stop-color="#003dff"/>
<stop offset="0.2703" stop-color="#003dff"/>
<stop offset="0.2973" stop-color="#003eff"/>
<stop offset="0.3243" stop-color="#003fff"/>
<stop offset="0.3514" stop-color="#0040ff"/>
<stop offset="0.3784" stop-color="#0040ff"/>
<stop offset="0.4054" stop-color="#0041ff"/>
<stop offset="0.4324" stop-color="#0042ff"/>
<stop offset="0.4595" stop-color="#0043ff"/>
<stop offset="0.4865" stop-color="#0043ff"/>
<stop offset="0.5135" stop-color="#0044ff"/>
<stop offset="0.5405" stop-color="#0045ff"/>
<stop offset="0.5676" stop-color="#0046ff"/>
<stop offset="0.5946" stop-color="#0046ff"/>
<stop offset="0.6216" stop-color="#0047ff"/>
<stop offset="0.6486" stop-color="#0048ff"/>
<stop offset="0.6757" stop-color="#0048ff"/>
<stop offset="0.7027" stop-color="#0049ff"/>
<stop offset="0.7297" stop-color="#004aff"/>
<stop offset="0.7568" stop-color="#004bff"/>
<stop offset="0.7838" stop-color="#004cff"/>
<stop offset="0.8108" stop-color="#004dff"/>
<stop offset="0.8378" stop-color="#0050ff"/>
<stop offset="0.8649" stop-color="#0053ff"/>
<stop offset="0.8919" stop-color="#0057ff"/>
<stop offset="0.9189" stop-color="#005aff"/>
<stop offset="0.9459" stop-color="#005bff"/>
<stop offset="0.9730" stop-color="#005dff"/>
<stop offset="1.0000" stop-color="#005fff"/>
</linearGradient>
<linearGradient id="c197" gradientUnits="userSpaceOnUse" x1="0" y1="70" x2="0" y2="366">
<stop offset="0.0000" stop-color="#003aff"/>
<stop offset="0.0270" stop-color="#003aff"/>
<stop offset="0.0541" stop-color="#003aff"/>
<stop offset="0.0811" stop-color="#003aff"/>
<stop offset="0.1081" stop-color="#003aff"/>
<stop offset="0.1351" stop-color="#003aff"/>
<stop offset="0.1622" stop-color="#003aff"/>
<stop offset="0.1892" stop-color="#003bff"/>
<stop offset="0.2162" stop-color="#003cff"/>
<stop offset="0.2432" stop-color="#003cff"/>
<stop offset="0.2703" stop-color="#003dff"/>
<stop offset="0.2973" stop-color="#003eff"/>
<stop offset="0.3243" stop-color="#003fff"/>
<stop offset="0.3514" stop-color="#003fff"/>
<stop offset="0.3784" stop-color="#0040ff"/>
<stop offset="0.4054" stop-color="#0041ff"/>
<stop offset="0.4324" stop-color="#0042ff"/>
<stop offset="0.4595" stop-color="#0042ff"/>
<stop offset="0.4865" stop-color="#0043ff"/>
<stop offset="0.5135" stop-color="#0044ff"/>
<stop offset="0.5405" stop-color="#0045ff"/>
<stop offset="0.5676" stop-color="#0045ff"/>
<stop offset="0.5946" stop-color="#0046ff"/>
<stop offset="0.6216" stop-color="#0047ff"/>
<stop offset="0.6486" stop-color="#0048ff"/>
<stop offset="0.6757" stop-color="#0048ff"/>
<stop offset="0.7027" stop-color="#0049ff"/>
<stop offset="0.7297" stop-color="#004aff"/>
<stop offset="0.7568" stop-color="#004cff"/>
<stop offset="0.7838" stop-color="#004fff"/>
<stop offset="0.8108" stop-color="#0054ff"/>
<stop offset="0.8378" stop-color="#005bff"/>
<stop offset="0.8649" stop-color="#0064ff"/>
<stop offset="0.8919" stop-color="#0070ff"/>
<stop offset="0.9189" stop-color="#0075ff"/>
<stop offset="0.9459" stop-color="#0079ff"/>
<stop offset="0.9730" stop-color="#007cff"/>
<stop offset="1.0000" stop-color="#0080fe"/>
</linearGradient>
<linearGradient id="c198" gradientUnits="userSpaceOnUse" x1="0" y1="70" x2="0" y2="366">
<stop offset="0.0000" stop-color="#0044ff"/>
<stop offset="0.0270" stop-color="#0044ff"/>
<stop offset="0.0541" stop-color="#0044ff"/>
<stop offset="0.0811" stop-color="#0044ff"/>
<stop offset="0.1081" stop-color="#0044ff"/>
<stop offset="0.1351" stop-color="#0044ff"/>
<stop offset="0.1622" stop-color="#0045ff"/>
<stop offset="0.1892" stop-color="#0045ff"/>
<stop offset="0.2162" stop-color="#0046ff"/>
<stop offset="0.2432" stop-color="#0047ff"/>
<stop offset="0.2703" stop-color="#0048ff"/>
<stop offset="0.2973" stop-color="#0048ff"/>
<stop offset="0.3243" stop-color="#0049ff"/>
<stop offset="0.3514" stop-color="#004aff"/>
<stop offset="0.3784" stop-color="#004bff"/>
<stop offset="0.4054" stop-color="#004bff"/>
<stop offset="0.4324" stop-color="#004cff"/>
<stop offset="0.4595" stop-color="#004dff"/>
<stop offset="0.4865" stop-color="#004eff"/>
<stop offset="0.5135" stop-color="#004fff"/>
<stop offset="0.5405" stop-color="#004fff"/>
<stop offset="0.5676" stop-color="#0050ff"/>
<stop offset="0.5946" stop-color="#0051ff"/>
<stop offset="0.6216" stop-color="#0052ff"/>
<stop offset="0.6486" stop-color="#0053ff"/>
<stop offset="0.6757" stop-color="#0053ff"/>
<stop offset="0.7027" stop-color="#0054ff"/>
<stop offset="0.7297" stop-color="#0055ff"/>
<stop offset="0.7568" stop-color="#005aff"/>
<stop offset="0.7838" stop-color="#0065ff"/>
<stop offset="0.8108" stop-color="#0072ff"/>
<stop offset="0.8378" stop-color="#0084fe"/>
<stop offset="0.8649" stop-color="#0097fc"/>
<stop offset="0.8919" stop-color="#00acf7"/>
<stop offset="0.9189" stop-color="#00b3f5"/>
<stop offset="0.9459" stop-color="#00b7f3"/>
<stop offset="0.9730" stop-color="#00bcf2"/>
<stop offset="1.0000" stop-color="#00c0f0"/>
</linearGradient>
<linearGradient id="c199" gradientUnits="userSpaceOnUse" x1="0" y1="70" x2="0" y2="366">
<stop offset="0.0000" stop-color="#0076fd"/>
<stop offset="0.0270" stop-color="#0076fd"/>
<stop offset="0.0541" stop-color="#0076fd"/>
<stop offset="0.0811" stop-color="#0076fd"/>
<stop offset="0.1081" stop-color="#0076fd"/>
<stop offset="0.1351" stop-color="#0077fd"/>
<stop offset="0.1622" stop-color="#0077fd"/>
<stop offset="0.1892" stop-color="#0077fd"/>
<stop offset="0.2162" stop-color="#0078fd"/>
<stop offset="0.2432" stop-color="#0079fd"/>
<stop offset="0.2703" stop-color="#0079fd"/>
<stop offset="0.2973" stop-color="#007afd"/>
<stop offset="0.3243" stop-color="#007afd"/>
<stop offset="0.3514" stop-color="#007bfd"/>
<stop offset="0.3784" stop-color="#007cfd"/>
<stop offset="0.4054" stop-color="#007cfd"/>
<stop offset="0.4324" stop-color="#007dfd"/>
<stop offset="0.4595" stop-color="#007efd"/>
<stop offset="0.4865" stop-color="#007efd"/>
<stop offset="0.5135" stop-color="#007ffd"/>
<stop offset="0.5405" stop-color="#007ffd"/>
<stop offset="0.5676" stop-color="#0080fd"/>
<stop offset="0.5946" stop-color="#0081fd"/>
<stop offset="0.6216" stop-color="#0082fd"/>
<stop offset="0.6486" stop-color="#0082fd"/>
<stop offset="0.6757" stop-color="#0083fd"/>
<stop offset="0.7027" stop-color="#0084fd"/>
<stop offset="0.7297" stop-color="#0084fd"/>
<stop offset="0.7568" stop-color="#008efd"/>
<stop offset="0.7838" stop-color="#00a2f9"/>
<stop offset="0.8108" stop-color="#00b7f3"/>
<stop offset="0.8378" stop-color="#00cce7"/>
<stop offset="0.8649" stop-color="#00ddd6"/>
<stop offset="0.8919" stop-color="#00ebbe"/>
<stop offset="0.9189" stop-color="#01eeb5"/>
<stop offset="0.9459" stop-color="#01f0af"/>
<stop offset="0.9730" stop-color="#01f1aa"/>
<stop offset="1.0000" stop-color="#02f4a5"/>
</linearGradient>
<linearGradient id="c200" gradientUnits="userSpaceOnUse" x1="0" y1="70" x2="0" y2="366">
<stop offset="0.0000" stop-color="#00ccef"/>
<stop offset="0.0270" stop-color="#00ccef"/>
<stop offset="0.0541" stop-color="#00ccef"/>
<stop offset="0.0811" stop-color="#00ccef"/>
<stop offset="0.1081" stop-color="#00ccef"/>
<stop offset="0.1351" stop-color="#00cdef"/>
<stop offset="0.1622" stop-color="#00ccef"/>
<stop offset="0.1892" stop-color="#00cdef"/>
<stop offset="0.2162" stop-color="#00cdef"/>
<stop offset="0.2432" stop-color="#00cdef"/>
<stop offset="0.2703" stop-color="#00cdef"/>
<stop offset="0.2973" stop-color="#00ceee"/>
<stop offset="0.3243" stop-color="#00ceef"/>
<stop offset="0.3514" stop-color="#00ceee"/>
<stop offset="0.3784" stop-color="#00ceee"/>
<stop offset="0.4054" stop-color="#00ceee"/>
<stop offset="0.4324" stop-color="#00cfee"/>
<stop offset="0.4595" stop-color="#00cfee"/>
<stop offset="0.4865" stop-color="#00cfee"/>
<stop offset="0.5135" stop-color="#00d0ee"/>
<stop offset="0.5405" stop-color="#00d0ee"/>
<stop offset="0.5676" stop-color="#00d0ee"/>
<stop offset="0.5946" stop-color="#00d0ee"/>
<stop offset="0.6216" stop-color="#00d1ee"/>
<stop offset="0.6486" stop-color="#00d1ee"/>
<stop offset="0.6757" stop-color="#00d1ee"/>
<stop offset="0.7027" stop-color="#00d1ee"/>
<stop offset="0.7297" stop-color="#00d1ee"/>
<stop offset="0.7568" stop-color="#00dae7"/>
<stop offset="0.7838" stop-color="#00e7d4"/>
<stop offset="0.8108" stop-color="#00f1bd"/>
<stop offset="0.8378" stop-color="#00f89a"/>
<stop offset="0.8649" stop-color="#00fc73"/>
<stop offset="0.8919" stop-color="#04fe4d"/>
<stop offset="0.9189" stop-color="#08fe45"/>
<stop offset="0.9459" stop-color="#0afe3f"/>
<stop offset="0.9730" stop-color="#0dfe3a"/>
<stop offset="1.0000" stop-color="#11ff36"/>
</linearGradient>
<linearGradient id="c201" gradientUnits="userSpaceOnUse" x1="0" y1="70" x2="0" y2="366">
<stop offset="0.0000" stop-color="#00e9e5"/>
<stop offset="0.0270" stop-color="#00eae4"/>
<stop offset="0.0541" stop-color="#00eae4"/>
<stop offset="0.0811" stop-color="#00ebe4"/>
<stop offset="0.1081" stop-color="#00ebe3"/>
<stop offset="0.1351" stop-color="#00ece3"/>
<stop offset="0.1622" stop-color="#00ece2"/>
<stop offset="0.1892" stop-color="#00ede2"/>
<stop offset="0.2162" stop-color="#00ede1"/>
<stop offset="0.2432" stop-color="#00eee1"/>
<stop offset="0.2703" stop-color="#00eee1"/>
<stop offset="0.2973" stop-color="#00efe0"/>
<stop offset="0.3243" stop-color="#00efe0"/>
<stop offset="0.3514" stop-color="#00f0df"/>
<stop offset="0.3784" stop-color="#00f0df"/>
<stop offset="0.4054" stop-color="#00f1df"/>
<stop offset="0.4324" stop-color="#00f1de"/>
<stop offset="0.4595" stop-color="#00f1de"/>
<stop offset="0.4865" stop-color="#00f2de"/>
<stop offset="0.5135" stop-color="#00f2dd"/>
<stop offset="0.5405" stop-color="#00f3dd"/>
<stop offset="0.5676" stop-color="#00f3dc"/>
<stop offset="0.5946" stop-color="#00f3dc"/>
<stop offset="0.6216" stop-color="#00f4db"/>
<stop offset="0.6486" stop-color="#00f4db"/>
<stop offset="0.6757" stop-color="#00f4db"/>
<stop offset="0.7027" stop-color="#00f4da"/>
<stop offset="0.7297" stop-color="#00f5da"/>
<stop offset="0.7568" stop-color="#00f8cc"/>
<stop offset="0.7838" stop-color="#00fcae"/>
<stop offset="0.8108" stop-color="#00fe8e"/>
<stop offset="0.8378" stop-color="#00ff62"/>
<stop offset="0.8649" stop-color="#00ff36"/>
<stop offset="0.8919" stop-color="#0bff14"/>
<stop offset="0.9189" stop-color="#14ff0f"/>
<stop offset="0.9459" stop-color="#1aff0d"/>
<stop offset="0.9730" stop-color="#20ff0a"/>
<stop offset="1.0000" stop-color="#27ff09"/>
</linearGradient>
<linearGradient id="c202" gradientUnits="userSpaceOnUse" x1="0" y1="70" x2="0" y2="366">
<stop offset="0.0000" stop-color="#00a7f7"/>
<stop offset="0.0270" stop-color="#00a9f7"/>
<stop offset="0.0541" stop-color="#00abf7"/>
<stop offset="0.0811" stop-color="#00acf7"/>
<stop offset="0.1081" stop-color="#00adf6"/>
<stop offset="0.1351" stop-color="#00aff6"/>
<stop offset="0.1622" stop-color="#00b0f6"/>
<stop offset="0.1892" stop-color="#00b2f5"/>
<stop offset="0.2162" stop-color="#00b4f5"/>
<stop offset="0.2432" stop-color="#00b5f5"/>
<stop offset="0.2703" stop-color="#00b7f4"/>
<stop offset="0.2973" stop-color="#00b9f4"/>
<stop offset="0.3243" stop-color="#00bbf4"/>
<stop offset="0.3514" stop-color="#00bcf3"/>
<stop offset="0.3784" stop-color="#00bef3"/>
<stop offset="0.4054" stop-color="#00c0f3"/>
<stop offset="0.4324" stop-color="#00c1f2"/>
<stop offset="0.4595" stop-color="#00c3f2"/>
<stop offset="0.4865" stop-color="#00c5f2"/>
<stop offset="0.5135" stop-color="#00c6f2"/>
<stop offset="0.5405" stop-color="#00c8f1"/>
<stop offset="0.5676" stop-color="#00c9f1"/>
<stop offset="0.5946" stop-color="#00caf0"/>
<stop offset="0.6216" stop-color="#00ccf0"/>
<stop offset="0.6486" stop-color="#00cdef"/>
<stop offset="0.6757" stop-color="#00ceee"/>
<stop offset="0.7027" stop-color="#00d0ee"/>
<stop offset="0.7297" stop-color="#00d1ee"/>
<stop offset="0.7568" stop-color="#00dbe6"/>
<stop offset="0.7838" stop-color="#00e9d2"/>
<stop offset="0.8108" stop-color="#00f2b9"/>
<stop offset="0.8378" stop-color="#00f993"/>
<stop offset="0.8649" stop-color="#00fc6a"/>
<stop offset="0.8919" stop-color="#05fe43"/>
<stop offset="0.9189" stop-color="#09fe39"/>
<stop offset="0.9459" stop-color="#0dfe33"/>
<stop offset="0.9730" stop-color="#11ff2d"/>
<stop offset="1.0000" stop-color="#15ff28"/>
</linearGradient>
<linearGradient id="c203" gradientUnits="userSpaceOnUse" x1="0" y1="70" x2="0" y2="366">
<stop offset="0.0000" stop-color="#0054ff"/>
<stop offset="0.0270" stop-color="#0055ff"/>
<stop offset="0.0541" stop-color="#0056ff"/>
<stop offset="0.0811" stop-color="#0057ff"/>
<stop offset="0.1081" stop-color="#0058ff"/>
<stop offset="0.1351" stop-color="#0059fe"/>
<stop offset="0.1622" stop-color="#005afe"/>
<stop offset="0.1892" stop-color="#005cfe"/>
<stop offset="0.2162" stop-color="#005efe"/>
<stop offset="0.2432" stop-color="#005ffe"/>
<stop offset="0.2703" stop-color="#0061fe"/>
<stop offset="0.2973" stop-color="#0063fe"/>
<stop offset="0.3243" stop-color="#0065fe"/>
<stop offset="0.3514" stop-color="#0067fe"/>
<stop offset="0.3784" stop-color="#0069fe"/>
<stop offset="0.4054" stop-color="#006afe"/>
<stop offset="0.4324" stop-color="#006cfe"/>
<stop offset="0.4595" stop-color="#006efe"/>
<stop offset="0.4865" stop-color="#0070fe"/>
<stop offset="0.5135" stop-color="#0072fe"/>
<stop offset="0.5405" stop-color="#0074fe"/>
<stop offset="0.5676" stop-color="#0075fe"/>
<stop offset="0.5946" stop-color="#0077fe"/>
<stop offset="0.6216" stop-color="#0079fe"/>
<stop offset="0.6486" stop-color="#007bfe"/>
<stop offset="0.6757" stop-color="#007dfe"/>
<stop offset="0.7027" stop-color="#007efd"/>
<stop offset="0.7297" stop-color="#0080fd"/>
<stop offset="0.7568" stop-color="#008cfc"/>
<stop offset="0.7838" stop-color="#00a2f9"/>
<stop offset="0.8108" stop-color="#00b8f2"/>
<stop offset="0.8378" stop-color="#00cee4"/>
<stop offset="0.8649" stop-color="#00dfcf"/>
<stop offset="0.8919" stop-color="#00edb3"/>
<stop offset="0.9189" stop-color="#01f0a9"/>
<stop offset="0.9459" stop-color="#01f3a2"/>
<stop offset="0.9730" stop-color="#02f499"/>
<stop offset="1.0000" stop-color="#03f692"/>
</linearGradient>
<linearGradient id="c204" gradientUnits="userSpaceOnUse" x1="0" y1="70" x2="0" y2="366">
<stop offset="0.0000" stop-color="#0033ff"/>
<stop offset="0.0270" stop-color="#0033ff"/>
<stop offset="0.0541" stop-color="#0033ff"/>
<stop offset="0.0811" stop-color="#0033ff"/>
<stop offset="0.1081" stop-color="#0033ff"/>
<stop offset="0.1351" stop-color="#0034ff"/>
<stop offset="0.1622" stop-color="#0034ff"/>
<stop offset="0.1892" stop-color="#0035ff"/>
<stop offset="0.2162" stop-color="#0036ff"/>
<stop offset="0.2432" stop-color="#0037ff"/>
<stop offset="0.2703" stop-color="#0038ff"/>
<stop offset="0.2973" stop-color="#0039ff"/>
<stop offset="0.3243" stop-color="#003aff"/>
<stop offset="0.3514" stop-color="#003cff"/>
<stop offset="0.3784" stop-color="#003dff"/>
<stop offset="0.4054" stop-color="#003eff"/>
<stop offset="0.4324" stop-color="#003fff"/>
<stop offset="0.4595" stop-color="#0040ff"/>
<stop offset="0.4865" stop-color="#0041ff"/>
<stop offset="0.5135" stop-color="#0042ff"/>
<stop offset="0.5405" stop-color="#0044ff"/>
<stop offset="0.5676" stop-color="#0045ff"/>
<stop offset="0.5946" stop-color="#0046ff"/>
<stop offset="0.6216" stop-color="#0047ff"/>
<stop offset="0.6486" stop-color="#0048ff"/>
<stop offset="0.6757" stop-color="#0049ff"/>
<stop offset="0.7027" stop-color="#004bff"/>
<stop offset="0.7297" stop-color="#004cff"/>
<stop offset="0.7568" stop-color="#0051ff"/>
<stop offset="0.7838" stop-color="#005eff"/>
<stop offset="0.8108" stop-color="#006dfe"/>
<stop offset="0.8378" stop-color="#0080fd"/>
<stop offset="0.8649" stop-color="#0096fa"/>
<stop offset="0.8919" stop-color="#00adf5"/>
<stop offset="0.9189" stop-color="#00b5f2"/>
<stop offset="0.9459" stop-color="#00bbf0"/>
<stop offset="0.9730" stop-color="#00c0ed"/>
<stop offset="1.0000" stop-color="#00c6ea"/>
</linearGradient>
<linearGradient id="c205" gradientUnits="userSpaceOnUse" x1="0" y1="70" x2="0" y2="366">
<stop offset="0.0000" stop-color="#002cff"/>
<stop offset="0.0270" stop-color="#002cff"/>
<stop offset="0.0541" stop-color="#002cff"/>
<stop offset="0.0811" stop-color="#002cff"/>
<stop offset="0.1081" stop-color="#002cff"/>
<stop offset="0.1351" stop-color="#002cff"/>
<stop offset="0.1622" stop-color="#002cff"/>
<stop offset="0.1892" stop-color="#002cff"/>
<stop offset="0.2162" stop-color="#002dff"/>
<stop offset="0.2432" stop-color="#002eff"/>
<stop offset="0.2703" stop-color="#002fff"/>
<stop offset="0.2973" stop-color="#0030ff"/>
<stop offset="0.3243" stop-color="#0030ff"/>
<stop offset="0.3514" stop-color="#0031ff"/>
<stop offset="0.3784" stop-color="#0032ff"/>
<stop offset="0.4054" stop-color="#0033ff"/>
<stop offset="0.4324" stop-color="#0034ff"/>
<stop offset="0.4595" stop-color="#0034ff"/>
<stop offset="0.4865" stop-color="#0035ff"/>
<stop offset="0.5135" stop-color="#0036ff"/>
<stop offset="0.5405" stop-color="#0037ff"/>
<stop offset="0.5676" stop-color="#0038ff"/>
<stop offset="0.5946" stop-color="#0039ff"/>
<stop offset="0.6216" stop-color="#0039ff"/>
<stop offset="0.6486" stop-color="#003aff"/>
<stop offset="0.6757" stop-color="#003bff"/>
<stop offset="0.7027" stop-color="#003cff"/>
<stop offset="0.7297" stop-color="#003dff"/>
<stop offset="0.7568" stop-color="#003eff"/>
<stop offset="0.7838" stop-color="#0042ff"/>
<stop offset="0.8108" stop-color="#0047ff"/>
<stop offset="0.8378" stop-color="#0050ff"/>
<stop offset="0.8649" stop-color="#005bff"/>
<stop offset="0.8919" stop-color="#0069ff"/>
<stop offset="0.9189" stop-color="#006fff"/>
<stop offset="0.9459" stop-color="#0074fe"/>
<stop offset="0.9730" stop-color="#0079fe"/>
<stop offset="1.0000" stop-color="#007efe"/>
</linearGradient>
<linearGradient id="c206" gradientUnits="userSpaceOnUse" x1="0" y1="70" x2="0" y2="366">
<stop offset="0.0000" stop-color="#002aff"/>
<stop offset="0.0270" stop-color="#002aff"/>
<stop offset="0.0541" stop-color="#002aff"/>
<stop offset="0.0811" stop-color="#002aff"/>
<stop offset="0.1081" stop-color="#002aff"/>
<stop offset="0.1351" stop-color="#002aff"/>
<stop offset="0.1622" stop-color="#002aff"/>
<stop offset="0.1892" stop-color="#002aff"/>
<stop offset="0.2162" stop-color="#002bff"/>
<stop offset="0.2432" stop-color="#002cff"/>
<stop offset="0.2703" stop-color="#002dff"/>
<stop offset="0.2973" stop-color="#002dff"/>
<stop offset="0.3243" stop-color="#002eff"/>
<stop offset="0.3514" stop-color="#002fff"/>
<stop offset="0.3784" stop-color="#002fff"/>
<stop offset="0.4054" stop-color="#0030ff"/>
<stop offset="0.4324" stop-color="#0031ff"/>
<stop offset="0.4595" stop-color="#0032ff"/>
<stop offset="0.4865" stop-color="#0032ff"/>
<stop offset="0.5135" stop-color="#0033ff"/>
<stop offset="0.5405" stop-color="#0034ff"/>
<stop offset="0.5676" stop-color="#0035ff"/>
<stop offset="0.5946" stop-color="#0035ff"/>
<stop offset="0.6216" stop-color="#0036ff"/>
<stop offset="0.6486" stop-color="#0037ff"/>
<stop offset="0.6757" stop-color="#0037ff"/>
<stop offset="0.7027" stop-color="#0038ff"/>
<stop offset="0.7297" stop-color="#0039ff"/>
<stop offset="0.7568" stop-color="#003aff"/>
<stop offset="0.7838" stop-color="#003bff"/>
<stop offset="0.8108" stop-color="#003dff"/>
<stop offset="0.8378" stop-color="#003fff"/>
<stop offset="0.8649" stop-color="#0043ff"/>
<stop offset="0.8919" stop-color="#0049ff"/>
<stop offset="0.9189" stop-color="#004bff"/>
<stop offset="0.9459" stop-color="#004eff"/>
<stop offset="0.9730" stop-color="#0050ff"/>
<stop offset="1.0000" stop-color="#0053ff"/>
</linearGradient>
<linearGradient id="c207" gradientUnits="userSpaceOnUse" x1="0" y1="70" x2="0" y2="366">
<stop offset="0.0000" stop-color="#0029ff"/>
<stop offset="0.0270" stop-color="#0029ff"/>
<stop offset="0.0541" stop-color="#0029ff"/>
<stop offset="0.0811" stop-color="#0029ff"/>
<stop offset="0.1081" stop-color="#0029ff"/>
<stop offset="0.1351" stop-color="#0029ff"/>
<stop offset="0.1622" stop-color="#0029ff"/>
<stop offset="0.1892" stop-color="#0029ff"/>
<stop offset="0.2162" stop-color="#002aff"/>
<stop offset="0.2432" stop-color="#002bff"/>
<stop offset="0.2703" stop-color="#002bff"/>
<stop offset="0.2973" stop-color="#002cff"/>
<stop offset="0.3243" stop-color="#002dff"/>
<stop offset="0.3514" stop-color="#002eff"/>
<stop offset="0.3784" stop-color="#002eff"/>
<stop offset="0.4054" stop-color="#002fff"/>
<stop offset="0.4324" stop-color="#0030ff"/>
<stop offset="0.4595" stop-color="#0031ff"/>
<stop offset="0.4865" stop-color="#0031ff"/>
<stop offset="0.5135" stop-color="#0032ff"/>
<stop offset="0.5405" stop-color="#0033ff"/>
<stop offset="0.5676" stop-color="#0034ff"/>
<stop offset="0.5946" stop-color="#0034ff"/>
<stop offset="0.6216" stop-color="#0035ff"/>
<stop offset="0.6486" stop-color="#0036ff"/>
<stop offset="0.6757" stop-color="#0036ff"/>
<stop offset="0.7027" stop-color="#0037ff"/>
<stop offset="0.7297" stop-color="#0038ff"/>
<stop offset="0.7568" stop-color="#0039ff"/>
<stop offset="0.7838" stop-color="#0039ff"/>
<stop offset="0.8108" stop-color="#003aff"/>
<stop offset="0.8378" stop-color="#003bff"/>
<stop offset="0.8649" stop-color="#003dff"/>
<stop offset="0.8919" stop-color="#003fff"/>
<stop offset="0.9189" stop-color="#0040ff"/>
<stop offset="0.9459" stop-color="#0041ff"/>
<stop offset="0.9730" stop-color="#0042ff"/>
<stop offset="1.0000" stop-color="#0044ff"/>
</linearGradient>
<linearGradient id="c208" gradientUnits="userSpaceOnUse" x1="0" y1="70" x2="0" y2="366">
<stop offset="0.0000" stop-color="#0029ff"/>
<stop offset="0.0270" stop-color="#0029ff"/>
<stop offset="0.0541" stop-color="#0029ff"/>
<stop offset="0.0811" stop-color="#0029ff"/>
<stop offset="0.1081" stop-color="#0029ff"/>
<stop offset="0.1351" stop-color="#0029ff"/>
<stop offset="0.1622" stop-color="#0029ff"/>
<stop offset="0.1892" stop-color="#0029ff"/>
<stop offset="0.2162" stop-color="#002aff"/>
<stop offset="0.2432" stop-color="#002bff"/>
<stop offset="0.2703" stop-color="#002bff"/>
<stop offset="0.2973" stop-color="#002cff"/>
<stop offset="0.3243" stop-color="#002dff"/>
<stop offset="0.3514" stop-color="#002eff"/>
<stop offset="0.3784" stop-color="#002eff"/>
<stop offset="0.4054" stop-color="#002fff"/>
<stop offset="0.4324" stop-color="#0030ff"/>
<stop offset="0.4595" stop-color="#0031ff"/>
<stop offset="0.4865" stop-color="#0031ff"/>
<stop offset="0.5135" stop-color="#0032ff"/>
<stop offset="0.5405" stop-color="#0033ff"/>
<stop offset="0.5676" stop-color="#0033ff"/>
<stop offset="0.5946" stop-color="#0034ff"/>
<stop offset="0.6216" stop-color="#0035ff"/>
<stop offset="0.6486" stop-color="#0036ff"/>
<stop offset="0.6757" stop-color="#0036ff"/>
<stop offset="0.7027" stop-color="#0037ff"/>
<stop offset="0.7297" stop-color="#0038ff"/>
<stop offset="0.7568" stop-color="#0039ff"/>
<stop offset="0.7838" stop-color="#0039ff"/>
<stop offset="0.8108" stop-color="#003aff"/>
<stop offset="0.8378" stop-color="#003bff"/>
<stop offset="0.8649" stop-color="#003bff"/>
<stop offset="0.8919" stop-color="#003cff"/>
<stop offset="0.9189" stop-color="#003dff"/>
<stop offset="0.9459" stop-color="#003eff"/>
<stop offset="0.9730" stop-color="#003fff"/>
<stop offset="1.0000" stop-color="#0040ff"/>
</linearGradient>
<linearGradient id="c334" gradientUnits="userSpaceOnUse" x1="0" y1="70" x2="0" y2="366">
<stop offset="0.0000" stop-color="#001dff"/>
<stop offset="0.0270" stop-color="#001dff"/>
<stop offset="0.0541" stop-color="#001dff"/>
<stop offset="0.0811" stop-color="#001dff"/>
<stop offset="0.1081" stop-color="#001dff"/>
<stop offset="0.1351" stop-color="#001dff"/>
<stop offset="0.1622" stop-color="#001dff"/>
<stop offset="0.1892" stop-color="#001dff"/>
<stop offset="0.2162" stop-color="#001eff"/>
<stop offset="0.2432" stop-color="#001fff"/>
<stop offset="0.2703" stop-color="#001fff"/>
<stop offset="0.2973" stop-color="#0020ff"/>
<stop offset="0.3243" stop-color="#0021ff"/>
<stop offset="0.3514" stop-color="#0022ff"/>
<stop offset="0.3784" stop-color="#0022ff"/>
<stop offset="0.4054" stop-color="#0023ff"/>
<stop offset="0.4324" stop-color="#0024ff"/>
<stop offset="0.4595" stop-color="#0024ff"/>
<stop offset="0.4865" stop-color="#0025ff"/>
<stop offset="0.5135" stop-color="#0026ff"/>
<stop offset="0.5405" stop-color="#0027ff"/>
<stop offset="0.5676" stop-color="#0027ff"/>
<stop offset="0.5946" stop-color="#0028ff"/>
<stop offset="0.6216" stop-color="#0029ff"/>
<stop offset="0.6486" stop-color="#002aff"/>
<stop offset="0.6757" stop-color="#002aff"/>
<stop offset="0.7027" stop-color="#002bff"/>
<stop offset="0.7297" stop-color="#002cff"/>
<stop offset="0.7568" stop-color="#002cff"/>
<stop offset="0.7838" stop-color="#002dff"/>
<stop offset="0.8108" stop-color="#002eff"/>
<stop offset="0.8378" stop-color="#002fff"/>
<stop offset="0.8649" stop-color="#002fff"/>
<stop offset="0.8919" stop-color="#0030ff"/>
<stop offset="0.9189" stop-color="#0031ff"/>
<stop offset="0.9459" stop-color="#0032ff"/>
<stop offset="0.9730" stop-color="#0032ff"/>
<stop offset="1.0000" stop-color="#0033ff"/>
</linearGradient>
<linearGradient id="c335" gradientUnits="userSpaceOnUse" x1="0" y1="70" x2="0" y2="366">
<stop offset="0.0000" stop-color="#001cff"/>
<stop offset="0.0270" stop-color="#001cff"/>
<stop offset="0.0541" stop-color="#001cff"/>
<stop offset="0.0811" stop-color="#001cff"/>
<stop offset="0.1081" stop-color="#001cff"/>
<stop offset="0.1351" stop-color="#001cff"/>
<stop offset="0.1622" stop-color="#001cff"/>
<stop offset="0.1892" stop-color="#001dff"/>
<stop offset="0.2162" stop-color="#001eff"/>
<stop offset="0.2432" stop-color="#001eff"/>
<stop offset="0.2703" stop-color="#001fff"/>
<stop offset="0.2973" stop-color="#0020ff"/>
<stop offset="0.3243" stop-color="#0020ff"/>
<stop offset="0.3514" stop-color="#0021ff"/>
<stop offset="0.3784" stop-color="#0022ff"/>
<stop offset="0.4054" stop-color="#0023ff"/>
<stop offset="0.4324" stop-color="#0023ff"/>
<stop offset="0.4595" stop-color="#0024ff"/>
<stop offset="0.4865" stop-color="#0025ff"/>
<stop offset="0.5135" stop-color="#0026ff"/>
<stop offset="0.5405" stop-color="#0026ff"/>
<stop offset="0.5676" stop-color="#0027ff"/>
<stop offset="0.5946" stop-color="#0028ff"/>
<stop offset="0.6216" stop-color="#0029ff"/>
<stop offset="0.6486" stop-color="#0029ff"/>
<stop offset="0.6757" stop-color="#002aff"/>
<stop offset="0.7027" stop-color="#002bff"/>
<stop offset="0.7297" stop-color="#002bff"/>
<stop offset="0.7568" stop-color="#002cff"/>
<stop offset="0.7838" stop-color="#002dff"/>
<stop offset="0.8108" stop-color="#002eff"/>
<stop offset="0.8378" stop-color="#002eff"/>
<stop offset="0.8649" stop-color="#002fff"/>
<stop offset="0.8919" stop-color="#0030ff"/>
<stop offset="0.9189" stop-color="#0031ff"/>
<stop offset="0.9459" stop-color="#0031ff"/>
<stop offset="0.9730" stop-color="#0032ff"/>
<stop offset="1.0000" stop-color="#0033ff"/>
</linearGradient>
<linearGradient id="c336" gradientUnits="userSpaceOnUse" x1="0" y1="70" x2="0" y2="366">
<stop offset="0.0000" stop-color="#001cff"/>
<stop offset="0.0270" stop-color="#001cff"/>
<stop offset="0.0541" stop-color="#001cff"/>
<stop offset="0.0811" stop-color="#001cff"/>
<stop offset="0.1081" stop-color="#001cff"/>
<stop offset="0.1351" stop-color="#001cff"/>
<stop offset="0.1622" stop-color="#001cff"/>
<stop offset="0.1892" stop-color="#001cff"/>
<stop offset="0.2162" stop-color="#001dff"/>
<stop offset="0.2432" stop-color="#001eff"/>
<stop offset="0.2703" stop-color="#001fff"/>
<stop offset="0.2973" stop-color="#001fff"/>
<stop offset="0.3243" stop-color="#0020ff"/>
<stop offset="0.3514" stop-color="#0021ff"/>
<stop offset="0.3784" stop-color="#0022ff"/>
<stop offset="0.4054" stop-color="#0022ff"/>
<stop offset="0.4324" stop-color="#0023ff"/>
<stop offset="0.4595" stop-color="#0024ff"/>
<stop offset="0.4865" stop-color="#0024ff"/>
<stop offset="0.5135" stop-color="#0025ff"/>
<stop offset="0.5405" stop-color="#0026ff"/>
<stop offset="0.5676" stop-color="#0027ff"/>
<stop offset="0.5946" stop-color="#0027ff"/>
<stop offset="0.6216" stop-color="#0028ff"/>
<stop offset="0.6486" stop-color="#0029ff"/>
<stop offset="0.6757" stop-color="#002aff"/>
<stop offset="0.7027" stop-color="#002aff"/>
<stop offset="0.7297" stop-color="#002bff"/>
<stop offset="0.7568" stop-color="#002cff"/>
<stop offset="0.7838" stop-color="#002cff"/>
<stop offset="0.8108" stop-color="#002dff"/>
<stop offset="0.8378" stop-color="#002eff"/>
<stop offset="0.8649" stop-color="#002fff"/>
<stop offset="0.8919" stop-color="#002fff"/>
<stop offset="0.9189" stop-color="#0030ff"/>
<stop offset="0.9459" stop-color="#0031ff"/>
<stop offset="0.9730" stop-color="#0032ff"/>
<stop offset="1.0000" stop-color="#0032ff"/>
</linearGradient>
<linearGradient id="c337" gradientUnits="userSpaceOnUse" x1="0" y1="70" x2="0" y2="366">
<stop offset="0.0000" stop-color="#001fff"/>
<stop offset="0.0270" stop-color="#001fff"/>
<stop offset="0.0541" stop-color="#001fff"/>
<stop offset="0.0811" stop-color="#001fff"/>
<stop offset="0.1081" stop-color="#001fff"/>
<stop offset="0.1351" stop-color="#001fff"/>
<stop offset="0.1622" stop-color="#001fff"/>
<stop offset="0.1892" stop-color="#0020ff"/>
<stop offset="0.2162" stop-color="#0020ff"/>
<stop offset="0.2432" stop-color="#0021ff"/>
<stop offset="0.2703" stop-color="#0022ff"/>
<stop offset="0.2973" stop-color="#0023ff"/>
<stop offset="0.3243" stop-color="#0023ff"/>
<stop offset="0.3514" stop-color="#0024ff"/>
<stop offset="0.3784" stop-color="#0025ff"/>
<stop offset="0.4054" stop-color="#0026ff"/>
<stop offset="0.4324" stop-color="#0026ff"/>
<stop offset="0.4595" stop-color="#0027ff"/>
<stop offset="0.4865" stop-color="#0028ff"/>
<stop offset="0.5135" stop-color="#0028ff"/>
<stop offset="0.5405" stop-color="#0029ff"/>
<stop offset="0.5676" stop-color="#002aff"/>
<stop offset="0.5946" stop-color="#002bff"/>
<stop offset="0.6216" stop-color="#002bff"/>
<stop offset="0.6486" stop-color="#002cff"/>
<stop offset="0.6757" stop-color="#002dff"/>
<stop offset="0.7027" stop-color="#002eff"/>
<stop offset="0.7297" stop-color="#002eff"/>
<stop offset="0.7568" stop-color="#002fff"/>
<stop offset="0.7838" stop-color="#0030ff"/>
<stop offset="0.8108" stop-color="#0030ff"/>
<stop offset="0.8378" stop-color="#0031ff"/>
<stop offset="0.8649" stop-color="#0032ff"/>
<stop offset="0.8919" stop-color="#0033ff"/>
<stop offset="0.9189" stop-color="#0033ff"/>
<stop offset="0.9459" stop-color="#0034ff"/>
<stop offset="0.9730" stop-color="#0035ff"/>
<stop offset="1.0000" stop-color="#0035ff"/>
</linearGradient>
<linearGradient id="c338" gradientUnits="userSpaceOnUse" x1="0" y1="70" x2="0" y2="366">
<stop offset="0.0000" stop-color="#003dff"/>
<stop offset="0.0270" stop-color="#003dff"/>
<stop offset="0.0541" stop-color="#003dff"/>
<stop offset="0.0811" stop-color="#003dff"/>
<stop offset="0.1081" stop-color="#003dff"/>
<stop offset="0.1351" stop-color="#003dff"/>
<stop offset="0.1622" stop-color="#003dff"/>
<stop offset="0.1892" stop-color="#003dff"/>
<stop offset="0.2162" stop-color="#003eff"/>
<stop offset="0.2432" stop-color="#003eff"/>
<stop offset="0.2703" stop-color="#003fff"/>
<stop offset="0.2973" stop-color="#003fff"/>
<stop offset="0.3243" stop-color="#0040ff"/>
<stop offset="0.3514" stop-color="#0041ff"/>
<stop offset="0.3784" stop-color="#0041ff"/>
<stop offset="0.4054" stop-color="#0042ff"/>
<stop offset="0.4324" stop-color="#0043ff"/>
<stop offset="0.4595" stop-color="#0044ff"/>
<stop offset="0.4865" stop-color="#0044ff"/>
<stop offset="0.5135" stop-color="#0045ff"/>
<stop offset="0.5405" stop-color="#0045ff"/>
<stop offset="0.5676" stop-color="#0046ff"/>
<stop offset="0.5946" stop-color="#0047ff"/>
<stop offset="0.6216" stop-color="#0047ff"/>
<stop offset="0.6486" stop-color="#0048ff"/>
<stop offset="0.6757" stop-color="#0049ff"/>
<stop offset="0.7027" stop-color="#004aff"/>
<stop offset="0.7297" stop-color="#004aff"/>
<stop offset="0.7568" stop-color="#004bff"/>
<stop offset="0.7838" stop-color="#004bff"/>
<stop offset="0.8108" stop-color="#004cff"/>
<stop offset="0.8378" stop-color="#004dff"/>
<stop offset="0.8649" stop-color="#004dff"/>
<stop offset="0.8919" stop-color="#004eff"/>
<stop offset="0.9189" stop-color="#004eff"/>
<stop offset="0.9459" stop-color="#004fff"/>
<stop offset="0.9730" stop-color="#0050ff"/>
<stop offset="1.0000" stop-color="#0050ff"/>
</linearGradient>
<linearGradient id="c339" gradientUnits="userSpaceOnUse" x1="0" y1="70" x2="0" y2="366">
<stop offset="0.0000" stop-color="#009bf6"/>
<stop offset="0.0270" stop-color="#009bf6"/>
<stop offset="0.0541" stop-color="#009bf6"/>
<stop offset="0.0811" stop-color="#009bf6"/>
<stop offset="0.1081" stop-color="#009bf6"/>
<stop offset="0.1351" stop-color="#009bf6"/>
<stop offset="0.1622" stop-color="#009bf6"/>
<stop offset="0.1892" stop-color="#009bf6"/>
<stop offset="0.2162" stop-color="#009cf6"/>
<stop offset="0.2432" stop-color="#009cf6"/>
<stop offset="0.2703" stop-color="#009cf6"/>
<stop offset="0.2973" stop-color="#009df6"/>
<stop offset="0.3243" stop-color="#009df6"/>
<stop offset="0.3514" stop-color="#009ef6"/>
<stop offset="0.3784" stop-color="#009ef6"/>
<stop offset="0.4054" stop-color="#009ef6"/>
<stop offset="0.4324" stop-color="#009ff6"/>
<stop offset="0.4595" stop-color="#009ff6"/>
<stop offset="0.4865" stop-color="#00a0f6"/>
<stop offset="0.5135" stop-color="#00a0f6"/>
<stop offset="0.5405" stop-color="#00a0f6"/>
<stop offset="0.5676" stop-color="#00a1f6"/>
<stop offset="0.5946" stop-color="#00a1f6"/>
<stop offset="0.6216" stop-color="#00a2f6"/>
<stop offset="0.6486" stop-color="#00a2f6"/>
<stop offset="0.6757" stop-color="#00a3f6"/>
<stop offset="0.7027" stop-color="#00a3f6"/>
<stop offset="0.7297" stop-color="#00a3f6"/>
<stop offset="0.7568" stop-color="#00a4f6"/>
<stop offset="0.7838" stop-color="#00a4f6"/>
<stop offset="0.8108" stop-color="#00a5f6"/>
<stop offset="0.8378" stop-color="#00a5f6"/>
<stop offset="0.8649" stop-color="#00a6f6"/>
<stop offset="0.8919" stop-color="#00a6f6"/>
<stop offset="0.9189" stop-color="#00a6f6"/>
<stop offset="0.9459" stop-color="#00a7f6"/>
<stop offset="0.9730" stop-color="#00a7f6"/>
<stop offset="1.0000" stop-color="#00a7f6"/>
</linearGradient>
<linearGradient id="c340" gradientUnits="userSpaceOnUse" x1="0" y1="70" x2="0" y2="366">
<stop offset="0.0000" stop-color="#00f0cb"/>
<stop offset="0.0270" stop-color="#00f0cb"/>
<stop offset="0.0541" stop-color="#00f0cb"/>
<stop offset="0.0811" stop-color="#00f0cb"/>
<stop offset="0.1081" stop-color="#00f0cb"/>
<stop offset="0.1351" stop-color="#00f0cb"/>
<stop offset="0.1622" stop-color="#00f0cb"/>
<stop offset="0.1892" stop-color="#00f0cb"/>
<stop offset="0.2162" stop-color="#00f0cb"/>
<stop offset="0.2432" stop-color="#00f0cb"/>
<stop offset="0.2703" stop-color="#00f0cb"/>
<stop offset="0.2973" stop-color="#00f0cb"/>
<stop offset="0.3243" stop-color="#00f0cb"/>
<stop offset="0.3514" stop-color="#00f0cb"/>
<stop offset="0.3784" stop-color="#00f0ca"/>
<stop offset="0.4054" stop-color="#00f1ca"/>
<stop offset="0.4324" stop-color="#00f1ca"/>
<stop offset="0.4595" stop-color="#00f1ca"/>
<stop offset="0.4865" stop-color="#00f1ca"/>
<stop offset="0.5135" stop-color="#00f1ca"/>
<stop offset="0.5405" stop-color="#00f1ca"/>
<stop offset="0.5676" stop-color="#00f1ca"/>
<stop offset="0.5946" stop-color="#00f1ca"/>
<stop offset="0.6216" stop-color="#00f1ca"/>
<stop offset="0.6486" stop-color="#00f1ca"/>
<stop offset="0.6757" stop-color="#00f1ca"/>
<stop offset="0.7027" stop-color="#00f2ca"/>
<stop offset="0.7297" stop-color="#00f2ca"/>
<stop offset="0.7568" stop-color="#00f2ca"/>
<stop offset="0.7838" stop-color="#00f2ca"/>
<stop offset="0.8108" stop-color="#00f2ca"/>
<stop offset="0.8378" stop-color="#00f2ca"/>
<stop offset="0.8649" stop-color="#00f2ca"/>
<stop offset="0.8919" stop-color="#00f2ca"/>
<stop offset="0.9189" stop-color="#00f2ca"/>
<stop offset="0.9459" stop-color="#00f2c9"/>
<stop offset="0.9730" stop-color="#00f3c9"/>
<stop offset="1.0000" stop-color="#00f3c9"/>
</linearGradient>
<linearGradient id="c341" gradientUnits="userSpaceOnUse" x1="0" y1="70" x2="0" y2="366">
<stop offset="0.0000" stop-color="#00e6d5"/>
<stop offset="0.0270" stop-color="#00e6d5"/>
<stop offset="0.0541" stop-color="#00e6d5"/>
<stop offset="0.0811" stop-color="#00e6d5"/>
<stop offset="0.1081" stop-color="#00e6d5"/>
<stop offset="0.1351" stop-color="#00e6d5"/>
<stop offset="0.1622" stop-color="#00e6d5"/>
<stop offset="0.1892" stop-color="#00e6d5"/>
<stop offset="0.2162" stop-color="#00e6d5"/>
<stop offset="0.2432" stop-color="#00e7d5"/>
<stop offset="0.2703" stop-color="#00e7d5"/>
<stop offset="0.2973" stop-color="#00e7d4"/>
<stop offset="0.3243" stop-color="#00e7d4"/>
<stop offset="0.3514" stop-color="#00e7d4"/>
<stop offset="0.3784" stop-color="#00e7d4"/>
<stop offset="0.4054" stop-color="#00e7d4"/>
<stop offset="0.4324" stop-color="#00e7d4"/>
<stop offset="0.4595" stop-color="#00e7d4"/>
<stop offset="0.4865" stop-color="#00e8d4"/>
<stop offset="0.5135" stop-color="#00e8d4"/>
<stop offset="0.5405" stop-color="#00e8d4"/>
<stop offset="0.5676" stop-color="#00e8d4"/>
<stop offset="0.5946" stop-color="#00e8d4"/>
<stop offset="0.6216" stop-color="#00e8d4"/>
<stop offset="0.6486" stop-color="#00e8d4"/>
<stop offset="0.6757" stop-color="#00e8d3"/>
<stop offset="0.7027" stop-color="#00e8d3"/>
<stop offset="0.7297" stop-color="#00e9d3"/>
<stop offset="0.7568" stop-color="#00e9d3"/>
<stop offset="0.7838" stop-color="#00e9d3"/>
<stop offset="0.8108" stop-color="#00e9d3"/>
<stop offset="0.8378" stop-color="#00e9d3"/>
<stop offset="0.8649" stop-color="#00e9d3"/>
<stop offset="0.8919" stop-color="#00e9d3"/>
<stop offset="0.9189" stop-color="#00e9d3"/>
<stop offset="0.9459" stop-color="#00ead3"/>
<stop offset="0.9730" stop-color="#00ead3"/>
<stop offset="1.0000" stop-color="#00ead3"/>
</linearGradient>
<linearGradient id="c342" gradientUnits="userSpaceOnUse" x1="0" y1="70" x2="0" y2="366">
<stop offset="0.0000" stop-color="#0082fb"/>
<stop offset="0.0270" stop-color="#0082fb"/>
<stop offset="0.0541" stop-color="#0082fb"/>
<stop offset="0.0811" stop-color="#0082fb"/>
<stop offset="0.1081" stop-color="#0082fb"/>
<stop offset="0.1351" stop-color="#0082fb"/>
<stop offset="0.1622" stop-color="#0082fb"/>
<stop offset="0.1892" stop-color="#0083fb"/>
<stop offset="0.2162" stop-color="#0083fb"/>
<stop offset="0.2432" stop-color="#0084fb"/>
<stop offset="0.2703" stop-color="#0084fb"/>
<stop offset="0.2973" stop-color="#0085fb"/>
<stop offset="0.3243" stop-color="#0085fb"/>
<stop offset="0.3514" stop-color="#0086fb"/>
<stop offset="0.3784" stop-color="#0086fa"/>
<stop offset="0.4054" stop-color="#0086fa"/>
<stop offset="0.4324" stop-color="#0087fa"/>
<stop offset="0.4595" stop-color="#0087fa"/>
<stop offset="0.4865" stop-color="#0088fa"/>
<stop offset="0.5135" stop-color="#0088fa"/>
<stop offset="0.5405" stop-color="#0089fa"/>
<stop offset="0.5676" stop-color="#0089fa"/>
<stop offset="0.5946" stop-color="#008afa"/>
<stop offset="0.6216" stop-color="#008afa"/>
<stop offset="0.6486" stop-color="#008bfa"/>
<stop offset="0.6757" stop-color="#008bfa"/>
<stop offset="0.7027" stop-color="#008bfa"/>
<stop offset="0.7297" stop-color="#008cfa"/>
<stop offset="0.7568" stop-color="#008dfa"/>
<stop offset="0.7838" stop-color="#008dfa"/>
<stop offset="0.8108" stop-color="#008dfa"/>
<stop offset="0.8378" stop-color="#008efa"/>
<stop offset="0.8649" stop-color="#008efa"/>
<stop offset="0.8919" stop-color="#008ffa"/>
<stop offset="0.9189" stop-color="#008ffa"/>
<stop offset="0.9459" stop-color="#0090fa"/>
<stop offset="0.9730" stop-color="#0090fa"/>
<stop offset="1.0000" stop-color="#0090fa"/>
</linearGradient>
<linearGradient id="c343" gradientUnits="userSpaceOnUse" x1="0" y1="70" x2="0" y2="366">
<stop offset="0.0000" stop-color="#002fff"/>
<stop offset="0.0270" stop-color="#002fff"/>
<stop offset="0.0541" stop-color="#002fff"/>
<stop offset="0.0811" stop-color="#002fff"/>
<stop offset="0.1081" stop-color="#002fff"/>
<stop offset="0.1351" stop-color="#002fff"/>
<stop offset="0.1622" stop-color="#002fff"/>
<stop offset="0.1892" stop-color="#0030ff"/>
<stop offset="0.2162" stop-color="#0031ff"/>
<stop offset="0.2432" stop-color="#0031ff"/>
<stop offset="0.2703" stop-color="#0032ff"/>
<stop offset="0.2973" stop-color="#0033ff"/>
<stop offset="0.3243" stop-color="#0033ff"/>
<stop offset="0.3514" stop-color="#0034ff"/>
<stop offset="0.3784" stop-color="#0035ff"/>
<stop offset="0.4054" stop-color="#0035ff"/>
<stop offset="0.4324" stop-color="#0036ff"/>
<stop offset="0.4595" stop-color="#0037ff"/>
<stop offset="0.4865" stop-color="#0037ff"/>
<stop offset="0.5135" stop-color="#0038ff"/>
<stop offset="0.5405" stop-color="#0039ff"/>
<stop offset="0.5676" stop-color="#0039ff"/>
<stop offset="0.5946" stop-color="#003aff"/>
<stop offset="0.6216" stop-color="#003bff"/>
<stop offset="0.6486" stop-color="#003bff"/>
<stop offset="0.6757" stop-color="#003cff"/>
<stop offset="0.7027" stop-color="#003dff"/>
<stop offset="0.7297" stop-color="#003dff"/>
<stop offset="0.7568" stop-color="#003eff"/>
<stop offset="0.7838" stop-color="#003fff"/>
<stop offset="0.8108" stop-color="#003fff"/>
<stop offset="0.8378" stop-color="#0040ff"/>
<stop offset="0.8649" stop-color="#0041ff"/>
<stop offset="0.8919" stop-color="#0042ff"/>
<stop offset="0.9189" stop-color="#0042ff"/>
<stop offset="0.9459" stop-color="#0043ff"/>
<stop offset="0.9730" stop-color="#0044ff"/>
<stop offset="1.0000" stop-color="#0044ff"/>
</linearGradient>
<linearGradient id="c344" gradientUnits="userSpaceOnUse" x1="0" y1="70" x2="0" y2="366">
<stop offset="0.0000" stop-color="#001aff"/>
<stop offset="0.0270" stop-color="#001aff"/>
<stop offset="0.0541" stop-color="#001aff"/>
<stop offset="0.0811" stop-color="#001aff"/>
<stop offset="0.1081" stop-color="#001aff"/>
<stop offset="0.1351" stop-color="#001aff"/>
<stop offset="0.1622" stop-color="#001aff"/>
<stop offset="0.1892" stop-color="#001aff"/>
<stop offset="0.2162" stop-color="#001bff"/>
<stop offset="0.2432" stop-color="#001cff"/>
<stop offset="0.2703" stop-color="#001cff"/>
<stop offset="0.2973" stop-color="#001dff"/>
<stop offset="0.3243" stop-color="#001eff"/>
<stop offset="0.3514" stop-color="#001fff"/>
<stop offset="0.3784" stop-color="#001fff"/>
<stop offset="0.4054" stop-color="#0020ff"/>
<stop offset="0.4324" stop-color="#0021ff"/>
<stop offset="0.4595" stop-color="#0021ff"/>
<stop offset="0.4865" stop-color="#0022ff"/>
<stop offset="0.5135" stop-color="#0023ff"/>
<stop offset="0.5405" stop-color="#0024ff"/>
<stop offset="0.5676" stop-color="#0024ff"/>
<stop offset="0.5946" stop-color="#0025ff"/>
<stop offset="0.6216" stop-color="#0026ff"/>
<stop offset="0.6486" stop-color="#0027ff"/>
<stop offset="0.6757" stop-color="#0027ff"/>
<stop offset="0.7027" stop-color="#0028ff"/>
<stop offset="0.7297" stop-color="#0029ff"/>
<stop offset="0.7568" stop-color="#0029ff"/>
<stop offset="0.7838" stop-color="#002aff"/>
<stop offset="0.8108" stop-color="#002bff"/>
<stop offset="0.8378" stop-color="#002cff"/>
<stop offset="0.8649" stop-color="#002cff"/>
<stop offset="0.8919" stop-color="#002dff"/>
<stop offset="0.9189" stop-color="#002eff"/>
<stop offset="0.9459" stop-color="#002fff"/>
<stop offset="0.9730" stop-color="#002fff"/>
<stop offset="1.0000" stop-color="#0030ff"/>
</linearGradient>
<linearGradient id="c345" gradientUnits="userSpaceOnUse" x1="0" y1="70" x2="0" y2="366">
<stop offset="0.0000" stop-color="#0017ff"/>
<stop offset="0.0270" stop-color="#0017ff"/>
<stop offset="0.0541" stop-color="#0017ff"/>
<stop offset="0.0811" stop-color="#0017ff"/>
<stop offset="0.1081" stop-color="#0017ff"/>
<stop offset="0.1351" stop-color="#0017ff"/>
<stop offset="0.1622" stop-color="#0017ff"/>
<stop offset="0.1892" stop-color="#0017ff"/>
<stop offset="0.2162" stop-color="#0018ff"/>
<stop offset="0.2432" stop-color="#0019ff"/>
<stop offset="0.2703" stop-color="#001aff"/>
<stop offset="0.2973" stop-color="#001aff"/>
<stop offset="0.3243" stop-color="#001bff"/>
<stop offset="0.3514" stop-color="#001cff"/>
<stop offset="0.3784" stop-color="#001cff"/>
<stop offset="0.4054" stop-color="#001dff"/>
<stop offset="0.4324" stop-color="#001eff"/>
<stop offset="0.4595" stop-color="#001fff"/>
<stop offset="0.4865" stop-color="#001fff"/>
<stop offset="0.5135" stop-color="#0020ff"/>
<stop offset="0.5405" stop-color="#0021ff"/>
<stop offset="0.5676" stop-color="#0022ff"/>
<stop offset="0.5946" stop-color="#0022ff"/>
<stop offset="0.6216" stop-color="#0023ff"/>
<stop offset="0.6486" stop-color="#0024ff"/>
<stop offset="0.6757" stop-color="#0024ff"/>
<stop offset="0.7027" stop-color="#0025ff"/>
<stop offset="0.7297" stop-color="#0026ff"/>
<stop offset="0.7568" stop-color="#0027ff"/>
<stop offset="0.7838" stop-color="#0027ff"/>
<stop offset="0.8108" stop-color="#0028ff"/>
<stop offset="0.8378" stop-color="#0029ff"/>
<stop offset="0.8649" stop-color="#002aff"/>
<stop offset="0.8919" stop-color="#002aff"/>
<stop offset="0.9189" stop-color="#002bff"/>
<stop offset="0.9459" stop-color="#002cff"/>
<stop offset="0.9730" stop-color="#002cff"/>
<stop offset="1.0000" stop-color="#002dff"/>
</linearGradient>
<linearGradient id="c346" gradientUnits="userSpaceOnUse" x1="0" y1="70" x2="0" y2="366">
<stop offset="0.0000" stop-color="#0016ff"/>
<stop offset="0.0270" stop-color="#0016ff"/>
<stop offset="0.0541" stop-color="#0016ff"/>
<stop offset="0.0811" stop-color="#0016ff"/>
<stop offset="0.1081" stop-color="#0016ff"/>
<stop offset="0.1351" stop-color="#0016ff"/>
<stop offset="0.1622" stop-color="#0016ff"/>
<stop offset="0.1892" stop-color="#0017ff"/>
<stop offset="0.2162" stop-color="#0018ff"/>
<stop offset="0.2432" stop-color="#0018ff"/>
<stop offset="0.2703" stop-color="#0019ff"/>
<stop offset="0.2973" stop-color="#001aff"/>
<stop offset="0.3243" stop-color="#001bff"/>
<stop offset="0.3514" stop-color="#001bff"/>
<stop offset="0.3784" stop-color="#001cff"/>
<stop offset="0.4054" stop-color="#001dff"/>
<stop offset="0.4324" stop-color="#001eff"/>
<stop offset="0.4595" stop-color="#001eff"/>
<stop offset="0.4865" stop-color="#001fff"/>
<stop offset="0.5135" stop-color="#0020ff"/>
<stop offset="0.5405" stop-color="#0020ff"/>
<stop offset="0.5676" stop-color="#0021ff"/>
<stop offset="0.5946" stop-color="#0022ff"/>
<stop offset="0.6216" stop-color="#0023ff"/>
<stop offset="0.6486" stop-color="#0023ff"/>
<stop offset="0.6757" stop-color="#0024ff"/>
<stop offset="0.7027" stop-color="#0025ff"/>
<stop offset="0.7297" stop-color="#0026ff"/>
<stop offset="0.7568" stop-color="#0026ff"/>
<stop offset="0.7838" stop-color="#0027ff"/>
<stop offset="0.8108" stop-color="#0028ff"/>
<stop offset="0.8378" stop-color="#0029ff"/>
<stop offset="0.8649" stop-color="#0029ff"/>
<stop offset="0.8919" stop-color="#002aff"/>
<stop offset="0.9189" stop-color="#002bff"/>
<stop offset="0.9459" stop-color="#002bff"/>
<stop offset="0.9730" stop-color="#002cff"/>
<stop offset="1.0000" stop-color="#002dff"/>
</linearGradient>
<linearGradient id="c347" gradientUnits="userSpaceOnUse" x1="0" y1="70" x2="0" y2="366">
<stop offset="0.0000" stop-color="#0016ff"/>
<stop offset="0.0270" stop-color="#0016ff"/>
<stop offset="0.0541" stop-color="#0016ff"/>
<stop offset="0.0811" stop-color="#0016ff"/>
<stop offset="0.1081" stop-color="#0016ff"/>
<stop offset="0.1351" stop-color="#0016ff"/>
<stop offset="0.1622" stop-color="#0016ff"/>
<stop offset="0.1892" stop-color="#0017ff"/>
<stop offset="0.2162" stop-color="#0018ff"/>
<stop offset="0.2432" stop-color="#0018ff"/>
<stop offset="0.2703" stop-color="#0019ff"/>
<stop offset="0.2973" stop-color="#001aff"/>
<stop offset="0.3243" stop-color="#001bff"/>
<stop offset="0.3514" stop-color="#001bff"/>
<stop offset="0.3784" stop-color="#001cff"/>
<stop offset="0.4054" stop-color="#001dff"/>
<stop offset="0.4324" stop-color="#001eff"/>
<stop offset="0.4595" stop-color="#001eff"/>
<stop offset="0.4865" stop-color="#001fff"/>
<stop offset="0.5135" stop-color="#0020ff"/>
<stop offset="0.5405" stop-color="#0021ff"/>
<stop offset="0.5676" stop-color="#0021ff"/>
<stop offset="0.5946" stop-color="#0022ff"/>
<stop offset="0.6216" stop-color="#0023ff"/>
<stop offset="0.6486" stop-color="#0023ff"/>
<stop offset="0.6757" stop-color="#0024ff"/>
<stop offset="0.7027" stop-color="#0025ff"/>
<stop offset="0.7297" stop-color="#0026ff"/>
<stop offset="0.7568" stop-color="#0026ff"/>
<stop offset="0.7838" stop-color="#0027ff"/>
<stop offset="0.8108" stop-color="#0028ff"/>
<stop offset="0.8378" stop-color="#0029ff"/>
<stop offset="0.8649" stop-color="#0029ff"/>
<stop offset="0.8919" stop-color="#002aff"/>
<stop offset="0.9189" stop-color="#002bff"/>
<stop offset="0.9459" stop-color="#002bff"/>
<stop offset="0.9730" stop-color="#002cff"/>
<stop offset="1.0000" stop-color="#002dff"/>
</linearGradient>
<linearGradient id="c423" gradientUnits="userSpaceOnUse" x1="0" y1="70" x2="0" y2="366">
<stop offset="0.0000" stop-color="#0018ff"/>
<stop offset="0.0270" stop-color="#0018ff"/>
<stop offset="0.0541" stop-color="#0018ff"/>
<stop offset="0.0811" stop-color="#0018ff"/>
<stop offset="0.1081" stop-color="#0018ff"/>
<stop offset="0.1351" stop-color="#0018ff"/>
<stop offset="0.1622" stop-color="#0018ff"/>
<stop offset="0.1892" stop-color="#0019ff"/>
<stop offset="0.2162" stop-color="#001aff"/>
<stop offset="0.2432" stop-color="#001bff"/>
<stop offset="0.2703" stop-color="#001cff"/>
<stop offset="0.2973" stop-color="#001dff"/>
<stop offset="0.3243" stop-color="#001eff"/>
<stop offset="0.3514" stop-color="#0020ff"/>
<stop offset="0.3784" stop-color="#0021ff"/>
<stop offset="0.4054" stop-color="#0022ff"/>
<stop offset="0.4324" stop-color="#0024ff"/>
<stop offset="0.4595" stop-color="#0026ff"/>
<stop offset="0.4865" stop-color="#0028ff"/>
<stop offset="0.5135" stop-color="#002aff"/>
<stop offset="0.5405" stop-color="#002cff"/>
<stop offset="0.5676" stop-color="#002eff"/>
<stop offset="0.5946" stop-color="#0031ff"/>
<stop offset="0.6216" stop-color="#0031ff"/>
<stop offset="0.6486" stop-color="#0030ff"/>
<stop offset="0.6757" stop-color="#002fff"/>
<stop offset="0.7027" stop-color="#002eff"/>
<stop offset="0.7297" stop-color="#002dff"/>
<stop offset="0.7568" stop-color="#002dff"/>
<stop offset="0.7838" stop-color="#002dff"/>
<stop offset="0.8108" stop-color="#002dff"/>
<stop offset="0.8378" stop-color="#002dff"/>
<stop offset="0.8649" stop-color="#002dff"/>
<stop offset="0.8919" stop-color="#002dff"/>
<stop offset="0.9189" stop-color="#002eff"/>
<stop offset="0.9459" stop-color="#002eff"/>
<stop offset="0.9730" stop-color="#002fff"/>
<stop offset="1.0000" stop-color="#002fff"/>
</linearGradient>
<linearGradient id="c424" gradientUnits="userSpaceOnUse" x1="0" y1="70" x2="0" y2="366">
<stop offset="0.0000" stop-color="#0018ff"/>
<stop offset="0.0270" stop-color="#0018ff"/>
<stop offset="0.0541" stop-color="#0018ff"/>
<stop offset="0.0811" stop-color="#0018ff"/>
<stop offset="0.1081" stop-color="#0018ff"/>
<stop offset="0.1351" stop-color="#0019ff"/>
<stop offset="0.1622" stop-color="#0019ff"/>
<stop offset="0.1892" stop-color="#001bff"/>
<stop offset="0.2162" stop-color="#001cff"/>
<stop offset="0.2432" stop-color="#001fff"/>
<stop offset="0.2703" stop-color="#0022ff"/>
<stop offset="0.2973" stop-color="#0024ff"/>
<stop offset="0.3243" stop-color="#0027ff"/>
<stop offset="0.3514" stop-color="#002aff"/>
<stop offset="0.3784" stop-color="#002dff"/>
<stop offset="0.4054" stop-color="#0031ff"/>
<stop offset="0.4324" stop-color="#0035ff"/>
<stop offset="0.4595" stop-color="#0039ff"/>
<stop offset="0.4865" stop-color="#003eff"/>
<stop offset="0.5135" stop-color="#0042ff"/>
<stop offset="0.5405" stop-color="#0047ff"/>
<stop offset="0.5676" stop-color="#004dff"/>
<stop offset="0.5946" stop-color="#0053ff"/>
<stop offset="0.6216" stop-color="#0053ff"/>
<stop offset="0.6486" stop-color="#004dff"/>
<stop offset="0.6757" stop-color="#0048ff"/>
<stop offset="0.7027" stop-color="#0043ff"/>
<stop offset="0.7297" stop-color="#0040ff"/>
<stop offset="0.7568" stop-color="#003cff"/>
<stop offset="0.7838" stop-color="#003aff"/>
<stop offset="0.8108" stop-color="#0037ff"/>
<stop offset="0.8378" stop-color="#0035ff"/>
<stop offset="0.8649" stop-color="#0034ff"/>
<stop offset="0.8919" stop-color="#0033ff"/>
<stop offset="0.9189" stop-color="#0032ff"/>
<stop offset="0.9459" stop-color="#0032ff"/>
<stop offset="0.9730" stop-color="#0032ff"/>
<stop offset="1.0000" stop-color="#0032ff"/>
</linearGradient>
<linearGradient id="c425" gradientUnits="userSpaceOnUse" x1="0" y1="70" x2="0" y2="366">
<stop offset="0.0000" stop-color="#0018ff"/>
<stop offset="0.0270" stop-color="#0018ff"/>
<stop offset="0.0541" stop-color="#0019ff"/>
<stop offset="0.0811" stop-color="#001aff"/>
<stop offset="0.1081" stop-color="#001cff"/>
<stop offset="0.1351" stop-color="#001eff"/>
<stop offset="0.1622" stop-color="#0022ff"/>
<stop offset="0.1892" stop-color="#0027ff"/>
<stop offset="0.2162" stop-color="#002eff"/>
<stop offset="0.2432" stop-color="#0035ff"/>
<stop offset="0.2703" stop-color="#003eff"/>
<stop offset="0.2973" stop-color="#0046ff"/>
<stop offset="0.3243" stop-color="#004dff"/>
<stop offset="0.3514" stop-color="#0055ff"/>
<stop offset="0.3784" stop-color="#005dff"/>
<stop offset="0.4054" stop-color="#0065ff"/>
<stop offset="0.4324" stop-color="#006dfe"/>
<stop offset="0.4595" stop-color="#0076fe"/>
<stop offset="0.4865" stop-color="#0080fe"/>
<stop offset="0.5135" stop-color="#0088fd"/>
<stop offset="0.5405" stop-color="#0092fd"/>
<stop offset="0.5676" stop-color="#009cfb"/>
<stop offset="0.5946" stop-color="#00a5fa"/>
<stop offset="0.6216" stop-color="#00a4fa"/>
<stop offset="0.6486" stop-color="#0099fc"/>
<stop offset="0.6757" stop-color="#008efd"/>
<stop offset="0.7027" stop-color="#0083fe"/>
<stop offset="0.7297" stop-color="#0079fe"/>
<stop offset="0.7568" stop-color="#006fff"/>
<stop offset="0.7838" stop-color="#0067ff"/>
<stop offset="0.8108" stop-color="#005fff"/>
<stop offset="0.8378" stop-color="#0058ff"/>
<stop offset="0.8649" stop-color="#0051ff"/>
<stop offset="0.8919" stop-color="#004dff"/>
<stop offset="0.9189" stop-color="#004aff"/>
<stop offset="0.9459" stop-color="#0046ff"/>
<stop offset="0.9730" stop-color="#0044ff"/>
<stop offset="1.0000" stop-color="#0042ff"/>
</linearGradient>
<linearGradient id="c426" gradientUnits="userSpaceOnUse" x1="0" y1="70" x2="0" y2="366">
<stop offset="0.0000" stop-color="#0020ff"/>
<stop offset="0.0270" stop-color="#0024ff"/>
<stop offset="0.0541" stop-color="#0028ff"/>
<stop offset="0.0811" stop-color="#002eff"/>
<stop offset="0.1081" stop-color="#0035ff"/>
<stop offset="0.1351" stop-color="#0041ff"/>
<stop offset="0.1622" stop-color="#004fff"/>
<stop offset="0.1892" stop-color="#005fff"/>
<stop offset="0.2162" stop-color="#0071fe"/>
<stop offset="0.2432" stop-color="#0084fc"/>
<stop offset="0.2703" stop-color="#0097f9"/>
<stop offset="0.2973" stop-color="#00a4f7"/>
<stop offset="0.3243" stop-color="#00b0f2"/>
<stop offset="0.3514" stop-color="#00bbee"/>
<stop offset="0.3784" stop-color="#00c5ea"/>
<stop offset="0.4054" stop-color="#00cde3"/>
<stop offset="0.4324" stop-color="#00d5dd"/>
<stop offset="0.4595" stop-color="#01ddd6"/>
<stop offset="0.4865" stop-color="#01e3cd"/>
<stop offset="0.5135" stop-color="#01e8c4"/>
<stop offset="0.5405" stop-color="#02edba"/>
<stop offset="0.5676" stop-color="#03f1af"/>
<stop offset="0.5946" stop-color="#04f4a3"/>
<stop offset="0.6216" stop-color="#03f4a5"/>
<stop offset="0.6486" stop-color="#03f0b5"/>
<stop offset="0.6757" stop-color="#02eac2"/>
<stop offset="0.7027" stop-color="#01e3cf"/>
<stop offset="0.7297" stop-color="#01dbda"/>
<stop offset="0.7568" stop-color="#00d1e3"/>
<stop offset="0.7838" stop-color="#00c7eb"/>
<stop offset="0.8108" stop-color="#00bcf0"/>
<stop offset="0.8378" stop-color="#00b0f6"/>
<stop offset="0.8649" stop-color="#00a4f8"/>
<stop offset="0.8919" stop-color="#009afa"/>
<stop offset="0.9189" stop-color="#0093fc"/>
<stop offset="0.9459" stop-color="#008bfc"/>
<stop offset="0.9730" stop-color="#0084fd"/>
<stop offset="1.0000" stop-color="#007dfe"/>
</linearGradient>
<linearGradient id="c427" gradientUnits="userSpaceOnUse" x1="0" y1="70" x2="0" y2="366">
<stop offset="0.0000" stop-color="#004fff"/>
<stop offset="0.0270" stop-color="#005cff"/>
<stop offset="0.0541" stop-color="#0069ff"/>
<stop offset="0.0811" stop-color="#0078fe"/>
<stop offset="0.1081" stop-color="#008afd"/>
<stop offset="0.1351" stop-color="#00a3f9"/>
<stop offset="0.1622" stop-color="#00baf0"/>
<stop offset="0.1892" stop-color="#00cfe2"/>
<stop offset="0.2162" stop-color="#00dfcf"/>
<stop offset="0.2432" stop-color="#01eab8"/>
<stop offset="0.2703" stop-color="#02f29e"/>
<stop offset="0.2973" stop-color="#06f78c"/>
<stop offset="0.3243" stop-color="#0af979"/>
<stop offset="0.3514" stop-color="#0ffb6b"/>
<stop offset="0.3784" stop-color="#13fc5e"/>
<stop offset="0.4054" stop-color="#18fd52"/>
<stop offset="0.4324" stop-color="#1ffe48"/>
<stop offset="0.4595" stop-color="#26fe3e"/>
<stop offset="0.4865" stop-color="#2efe34"/>
<stop offset="0.5135" stop-color="#37fe2c"/>
<stop offset="0.5405" stop-color="#42fe25"/>
<stop offset="0.5676" stop-color="#4cfd1e"/>
<stop offset="0.5946" stop-color="#57fd17"/>
<stop offset="0.6216" stop-color="#56fd18"/>
<stop offset="0.6486" stop-color="#4afd21"/>
<stop offset="0.6757" stop-color="#3dfd2a"/>
<stop offset="0.7027" stop-color="#31fe35"/>
<stop offset="0.7297" stop-color="#28fd43"/>
<stop offset="0.7568" stop-color="#1ffd51"/>
<stop offset="0.7838" stop-color="#17fc62"/>
<stop offset="0.8108" stop-color="#12fa73"/>
<stop offset="0.8378" stop-color="#0cf883"/>
<stop offset="0.8649" stop-color="#09f595"/>
<stop offset="0.8919" stop-color="#07f1a3"/>
<stop offset="0.9189" stop-color="#06efad"/>
<stop offset="0.9459" stop-color="#04eab4"/>
<stop offset="0.9730" stop-color="#04e6bd"/>
<stop offset="1.0000" stop-color="#03e1c6"/>
</linearGradient>
<linearGradient id="c428" gradientUnits="userSpaceOnUse" x1="0" y1="70" x2="0" y2="366">
<stop offset="0.0000" stop-color="#00bdf9"/>
<stop offset="0.0270" stop-color="#00ccf4"/>
<stop offset="0.0541" stop-color="#00d8ed"/>
<stop offset="0.0811" stop-color="#00e3e4"/>
<stop offset="0.1081" stop-color="#00edd4"/>
<stop offset="0.1351" stop-color="#00f6b1"/>
<stop offset="0.1622" stop-color="#00fb88"/>
<stop offset="0.1892" stop-color="#00fd5c"/>
<stop offset="0.2162" stop-color="#09fe3b"/>
<stop offset="0.2432" stop-color="#19ff25"/>
<stop offset="0.2703" stop-color="#30ff15"/>
<stop offset="0.2973" stop-color="#49ff0f"/>
<stop offset="0.3243" stop-color="#63ff09"/>
<stop offset="0.3514" stop-color="#79ff07"/>
<stop offset="0.3784" stop-color="#8aff05"/>
<stop offset="0.4054" stop-color="#9bff03"/>
<stop offset="0.4324" stop-color="#acfe03"/>
<stop offset="0.4595" stop-color="#b9fa02"/>
<stop offset="0.4865" stop-color="#c5f401"/>
<stop offset="0.5135" stop-color="#d0ed01"/>
<stop offset="0.5405" stop-color="#d9e401"/>
<stop offset="0.5676" stop-color="#e0d800"/>
<stop offset="0.5946" stop-color="#e7cd00"/>
<stop offset="0.6216" stop-color="#e7ca00"/>
<stop offset="0.6486" stop-color="#e0ce00"/>
<stop offset="0.6757" stop-color="#d8d301"/>
<stop offset="0.7027" stop-color="#cfda01"/>
<stop offset="0.7297" stop-color="#c4de02"/>
<stop offset="0.7568" stop-color="#b8e303"/>
<stop offset="0.7838" stop-color="#abe805"/>
<stop offset="0.8108" stop-color="#9dec08"/>
<stop offset="0.8378" stop-color="#8cef0b"/>
<stop offset="0.8649" stop-color="#7ef310"/>
<stop offset="0.8919" stop-color="#73f515"/>
<stop offset="0.9189" stop-color="#6cf619"/>
<stop offset="0.9459" stop-color="#63f61c"/>
<stop offset="0.9730" stop-color="#5df622"/>
<stop offset="1.0000" stop-color="#56f629"/>
</linearGradient>
<linearGradient id="c429" gradientUnits="userSpaceOnUse" x1="0" y1="70" x2="0" y2="366">
<stop offset="0.0000" stop-color="#00f9dd"/>
<stop offset="0.0270" stop-color="#00fcd0"/>
<stop offset="0.0541" stop-color="#00fdc3"/>
<stop offset="0.0811" stop-color="#00feb5"/>
<stop offset="0.1081" stop-color="#00fea0"/>
<stop offset="0.1351" stop-color="#00ff75"/>
<stop offset="0.1622" stop-color="#00ff4a"/>
<stop offset="0.1892" stop-color="#00ff20"/>
<stop offset="0.2162" stop-color="#15ff0f"/>
<stop offset="0.2432" stop-color="#2eff08"/>
<stop offset="0.2703" stop-color="#4bff05"/>
<stop offset="0.2973" stop-color="#6bff03"/>
<stop offset="0.3243" stop-color="#8cff01"/>
<stop offset="0.3514" stop-color="#a8ff01"/>
<stop offset="0.3784" stop-color="#bdff00"/>
<stop offset="0.4054" stop-color="#d2ff00"/>
<stop offset="0.4324" stop-color="#e4fd00"/>
<stop offset="0.4595" stop-color="#eef200"/>
<stop offset="0.4865" stop-color="#f5e400"/>
<stop offset="0.5135" stop-color="#f9d300"/>
<stop offset="0.5405" stop-color="#fcc100"/>
<stop offset="0.5676" stop-color="#fdae00"/>
<stop offset="0.5946" stop-color="#fe9a00"/>
<stop offset="0.6216" stop-color="#fe8e00"/>
<stop offset="0.6486" stop-color="#fe8900"/>
<stop offset="0.6757" stop-color="#fe8600"/>
<stop offset="0.7027" stop-color="#fe8400"/>
<stop offset="0.7297" stop-color="#fd8300"/>
<stop offset="0.7568" stop-color="#fd8300"/>
<stop offset="0.7838" stop-color="#fc8600"/>
<stop offset="0.8108" stop-color="#fa8900"/>
<stop offset="0.8378" stop-color="#f88d00"/>
<stop offset="0.8649" stop-color="#f59400"/>
<stop offset="0.8919" stop-color="#f49600"/>
<stop offset="0.9189" stop-color="#f29400"/>
<stop offset="0.9459" stop-color="#ef9200"/>
<stop offset="0.9730" stop-color="#ed9100"/>
<stop offset="1.0000" stop-color="#ea9101"/>
</linearGradient>
<linearGradient id="c430" gradientUnits="userSpaceOnUse" x1="0" y1="70" x2="0" y2="366">
<stop offset="0.0000" stop-color="#00d0f4"/>
<stop offset="0.0270" stop-color="#00d5f0"/>
<stop offset="0.0541" stop-color="#00daeb"/>
<stop offset="0.0811" stop-color="#00dfe7"/>
<stop offset="0.1081" stop-color="#00e4de"/>
<stop offset="0.1351" stop-color="#00edc8"/>
<stop offset="0.1622" stop-color="#00f2af"/>
<stop offset="0.1892" stop-color="#00f795"/>
<stop offset="0.2162" stop-color="#02f97e"/>
<stop offset="0.2432" stop-color="#06fb6d"/>
<stop offset="0.2703" stop-color="#0cfc5e"/>
<stop offset="0.2973" stop-color="#17fd47"/>
<stop offset="0.3243" stop-color="#26fe34"/>
<stop offset="0.3514" stop-color="#37ff27"/>
<stop offset="0.3784" stop-color="#46ff1d"/>
<stop offset="0.4054" stop-color="#57ff15"/>
<stop offset="0.4324" stop-color="#6aff0f"/>
<stop offset="0.4595" stop-color="#7dfe0a"/>
<stop offset="0.4865" stop-color="#91fc07"/>
<stop offset="0.5135" stop-color="#a3f704"/>
<stop offset="0.5405" stop-color="#b5f203"/>
<stop offset="0.5676" stop-color="#c3e902"/>
<stop offset="0.5946" stop-color="#d2e001"/>
<stop offset="0.6216" stop-color="#dbd401"/>
<stop offset="0.6486" stop-color="#e2cb00"/>
<stop offset="0.6757" stop-color="#e9c200"/>
<stop offset="0.7027" stop-color="#edb700"/>
<stop offset="0.7297" stop-color="#f2ac00"/>
<stop offset="0.7568" stop-color="#f6a100"/>
<stop offset="0.7838" stop-color="#f89500"/>
<stop offset="0.8108" stop-color="#fa8a00"/>
<stop offset="0.8378" stop-color="#fc7f00"/>
<stop offset="0.8649" stop-color="#fc7500"/>
<stop offset="0.8919" stop-color="#fd6a00"/>
<stop offset="0.9189" stop-color="#fe5d00"/>
<stop offset="0.9459" stop-color="#fe5000"/>
<stop offset="0.9730" stop-color="#fe4400"/>
<stop offset="1.0000" stop-color="#fe3800"/>
</linearGradient>
<linearGradient id="c431" gradientUnits="userSpaceOnUse" x1="0" y1="70" x2="0" y2="366">
<stop offset="0.0000" stop-color="#005eff"/>
<stop offset="0.0270" stop-color="#0064ff"/>
<stop offset="0.0541" stop-color="#006aff"/>
<stop offset="0.0811" stop-color="#0070fe"/>
<stop offset="0.1081" stop-color="#0078fe"/>
<stop offset="0.1351" stop-color="#0087fd"/>
<stop offset="0.1622" stop-color="#0095fa"/>
<stop offset="0.1892" stop-color="#00a3f7"/>
<stop offset="0.2162" stop-color="#00aef2"/>
<stop offset="0.2432" stop-color="#00b8ee"/>
<stop offset="0.2703" stop-color="#00c3e9"/>
<stop offset="0.2973" stop-color="#00d0dc"/>
<stop offset="0.3243" stop-color="#01ddcf"/>
<stop offset="0.3514" stop-color="#02e5bf"/>
<stop offset="0.3784" stop-color="#03eeb1"/>
<stop offset="0.4054" stop-color="#05f29f"/>
<stop offset="0.4324" stop-color="#07f68e"/>
<stop offset="0.4595" stop-color="#0bf97c"/>
<stop offset="0.4865" stop-color="#11fb6b"/>
<stop offset="0.5135" stop-color="#17fd59"/>
<stop offset="0.5405" stop-color="#20fe49"/>
<stop offset="0.5676" stop-color="#2afe3b"/>
<stop offset="0.5946" stop-color="#36fe2d"/>
<stop offset="0.6216" stop-color="#43fd26"/>
<stop offset="0.6486" stop-color="#4efd1f"/>
<stop offset="0.6757" stop-color="#58fc19"/>
<stop offset="0.7027" stop-color="#66fa15"/>
<stop offset="0.7297" stop-color="#73f811"/>
<stop offset="0.7568" stop-color="#80f50e"/>
<stop offset="0.7838" stop-color="#8df10a"/>
<stop offset="0.8108" stop-color="#9bed08"/>
<stop offset="0.8378" stop-color="#a8e707"/>
<stop offset="0.8649" stop-color="#b3e005"/>
<stop offset="0.8919" stop-color="#bdd804"/>
<stop offset="0.9189" stop-color="#c6d103"/>
<stop offset="0.9459" stop-color="#cbc703"/>
<stop offset="0.9730" stop-color="#d1bc02"/>
<stop offset="1.0000" stop-color="#d8b102"/>
</linearGradient>
<linearGradient id="c432" gradientUnits="userSpaceOnUse" x1="0" y1="70" x2="0" y2="366">
<stop offset="0.0000" stop-color="#001fff"/>
<stop offset="0.0270" stop-color="#0021ff"/>
<stop offset="0.0541" stop-color="#0023ff"/>
<stop offset="0.0811" stop-color="#0026ff"/>
<stop offset="0.1081" stop-color="#002aff"/>
<stop offset="0.1351" stop-color="#002fff"/>
<stop offset="0.1622" stop-color="#0036ff"/>
<stop offset="0.1892" stop-color="#003dff"/>
<stop offset="0.2162" stop-color="#0044ff"/>
<stop offset="0.2432" stop-color="#004bff"/>
<stop offset="0.2703" stop-color="#0053ff"/>
<stop offset="0.2973" stop-color="#005ffe"/>
<stop offset="0.3243" stop-color="#006efe"/>
<stop offset="0.3514" stop-color="#007cfd"/>
<stop offset="0.3784" stop-color="#008afc"/>
<stop offset="0.4054" stop-color="#0097fa"/>
<stop offset="0.4324" stop-color="#00a5f7"/>
<stop offset="0.4595" stop-color="#00b2f3"/>
<stop offset="0.4865" stop-color="#00bfee"/>
<stop offset="0.5135" stop-color="#00cce7"/>
<stop offset="0.5405" stop-color="#00d6dd"/>
<stop offset="0.5676" stop-color="#01e0d4"/>
<stop offset="0.5946" stop-color="#01e7c6"/>
<stop offset="0.6216" stop-color="#02edbb"/>
<stop offset="0.6486" stop-color="#03f0b3"/>
<stop offset="0.6757" stop-color="#04f2a9"/>
<stop offset="0.7027" stop-color="#06f49f"/>
<stop offset="0.7297" stop-color="#08f595"/>
<stop offset="0.7568" stop-color="#0af78b"/>
<stop offset="0.7838" stop-color="#0cf980"/>
<stop offset="0.8108" stop-color="#11f976"/>
<stop offset="0.8378" stop-color="#16fa6c"/>
<stop offset="0.8649" stop-color="#1afb61"/>
<stop offset="0.8919" stop-color="#1ffc59"/>
<stop offset="0.9189" stop-color="#25fc54"/>
<stop offset="0.9459" stop-color="#2afb4f"/>
<stop offset="0.9730" stop-color="#30fa4a"/>
<stop offset="1.0000" stop-color="#35fa44"/>
</linearGradient>
<linearGradient id="c433" gradientUnits="userSpaceOnUse" x1="0" y1="70" x2="0" y2="366">
<stop offset="0.0000" stop-color="#0010ff"/>
<stop offset="0.0270" stop-color="#0011ff"/>
<stop offset="0.0541" stop-color="#0011ff"/>
<stop offset="0.0811" stop-color="#0012ff"/>
<stop offset="0.1081" stop-color="#0013ff"/>
<stop offset="0.1351" stop-color="#0014ff"/>
<stop offset="0.1622" stop-color="#0015ff"/>
<stop offset="0.1892" stop-color="#0017ff"/>
<stop offset="0.2162" stop-color="#001aff"/>
<stop offset="0.2432" stop-color="#001dff"/>
<stop offset="0.2703" stop-color="#001fff"/>
<stop offset="0.2973" stop-color="#0024ff"/>
<stop offset="0.3243" stop-color="#002aff"/>
<stop offset="0.3514" stop-color="#0030ff"/>
<stop offset="0.3784" stop-color="#0037ff"/>
<stop offset="0.4054" stop-color="#003eff"/>
<stop offset="0.4324" stop-color="#0046ff"/>
<stop offset="0.4595" stop-color="#004fff"/>
<stop offset="0.4865" stop-color="#0059ff"/>
<stop offset="0.5135" stop-color="#0064ff"/>
<stop offset="0.5405" stop-color="#006ffe"/>
<stop offset="0.5676" stop-color="#007bfe"/>
<stop offset="0.5946" stop-color="#0087fd"/>
<stop offset="0.6216" stop-color="#0090fd"/>
<stop offset="0.6486" stop-color="#0095fc"/>
<stop offset="0.6757" stop-color="#009afb"/>
<stop offset="0.7027" stop-color="#00a0fa"/>
<stop offset="0.7297" stop-color="#00a5f8"/>
<stop offset="0.7568" stop-color="#00abf7"/>
<stop offset="0.7838" stop-color="#00b0f5"/>
<stop offset="0.8108" stop-color="#00b6f2"/>
<stop offset="0.8378" stop-color="#00bbef"/>
<stop offset="0.8649" stop-color="#00c1ec"/>
<stop offset="0.8919" stop-color="#00c5e9"/>
<stop offset="0.9189" stop-color="#00c7e7"/>
<stop offset="0.9459" stop-color="#01c9e4"/>
<stop offset="0.9730" stop-color="#01cae2"/>
<stop offset="1.0000" stop-color="#01ccdf"/>
</linearGradient>
<linearGradient id="c434" gradientUnits="userSpaceOnUse" x1="0" y1="70" x2="0" y2="366">
<stop offset="0.0000" stop-color="#000eff"/>
<stop offset="0.0270" stop-color="#000eff"/>
<stop offset="0.0541" stop-color="#000eff"/>
<stop offset="0.0811" stop-color="#000eff"/>
<stop offset="0.1081" stop-color="#000eff"/>
<stop offset="0.1351" stop-color="#000eff"/>
<stop offset="0.1622" stop-color="#000fff"/>
<stop offset="0.1892" stop-color="#000fff"/>
<stop offset="0.2162" stop-color="#0010ff"/>
<stop offset="0.2432" stop-color="#0012ff"/>
<stop offset="0.2703" stop-color="#0013ff"/>
<stop offset="0.2973" stop-color="#0014ff"/>
<stop offset="0.3243" stop-color="#0016ff"/>
<stop offset="0.3514" stop-color="#0018ff"/>
<stop offset="0.3784" stop-color="#001aff"/>
<stop offset="0.4054" stop-color="#001dff"/>
<stop offset="0.4324" stop-color="#0020ff"/>
<stop offset="0.4595" stop-color="#0024ff"/>
<stop offset="0.4865" stop-color="#0028ff"/>
<stop offset="0.5135" stop-color="#002dff"/>
<stop offset="0.5405" stop-color="#0032ff"/>
<stop offset="0.5676" stop-color="#0037ff"/>
<stop offset="0.5946" stop-color="#003eff"/>
<stop offset="0.6216" stop-color="#0042ff"/>
<stop offset="0.6486" stop-color="#0045ff"/>
<stop offset="0.6757" stop-color="#0047ff"/>
<stop offset="0.7027" stop-color="#004aff"/>
<stop offset="0.7297" stop-color="#004dff"/>
<stop offset="0.7568" stop-color="#0050ff"/>
<stop offset="0.7838" stop-color="#0052ff"/>
<stop offset="0.8108" stop-color="#0056ff"/>
<stop offset="0.8378" stop-color="#0059ff"/>
<stop offset="0.8649" stop-color="#005cff"/>
<stop offset="0.8919" stop-color="#005fff"/>
<stop offset="0.9189" stop-color="#0060ff"/>
<stop offset="0.9459" stop-color="#0061ff"/>
<stop offset="0.9730" stop-color="#0062ff"/>
<stop offset="1.0000" stop-color="#0063ff"/>
</linearGradient>
<linearGradient id="c435" gradientUnits="userSpaceOnUse" x1="0" y1="70" x2="0" y2="366">
<stop offset="0.0000" stop-color="#000dff"/>
<stop offset="0.0270" stop-color="#000dff"/>
<stop offset="0.0541" stop-color="#000dff"/>
<stop offset="0.0811" stop-color="#000dff"/>
<stop offset="0.1081" stop-color="#000dff"/>
<stop offset="0.1351" stop-color="#000dff"/>
<stop offset="0.1622" stop-color="#000dff"/>
<stop offset="0.1892" stop-color="#000dff"/>
<stop offset="0.2162" stop-color="#000eff"/>
<stop offset="0.2432" stop-color="#000fff"/>
<stop offset="0.2703" stop-color="#0010ff"/>
<stop offset="0.2973" stop-color="#0011ff"/>
<stop offset="0.3243" stop-color="#0012ff"/>
<stop offset="0.3514" stop-color="#0012ff"/>
<stop offset="0.3784" stop-color="#0013ff"/>
<stop offset="0.4054" stop-color="#0015ff"/>
<stop offset="0.4324" stop-color="#0016ff"/>
<stop offset="0.4595" stop-color="#0017ff"/>
<stop offset="0.4865" stop-color="#0019ff"/>
<stop offset="0.5135" stop-color="#001bff"/>
<stop offset="0.5405" stop-color="#001dff"/>
<stop offset="0.5676" stop-color="#001fff"/>
<stop offset="0.5946" stop-color="#0022ff"/>
<stop offset="0.6216" stop-color="#0024ff"/>
<stop offset="0.6486" stop-color="#0025ff"/>
<stop offset="0.6757" stop-color="#0026ff"/>
<stop offset="0.7027" stop-color="#0027ff"/>
<stop offset="0.7297" stop-color="#0028ff"/>
<stop offset="0.7568" stop-color="#002aff"/>
<stop offset="0.7838" stop-color="#002bff"/>
<stop offset="0.8108" stop-color="#002cff"/>
<stop offset="0.8378" stop-color="#002dff"/>
<stop offset="0.8649" stop-color="#002fff"/>
<stop offset="0.8919" stop-color="#0030ff"/>
<stop offset="0.9189" stop-color="#0030ff"/>
<stop offset="0.9459" stop-color="#0031ff"/>
<stop offset="0.9730" stop-color="#0031ff"/>
<stop offset="1.0000" stop-color="#0032ff"/>
</linearGradient>
<linearGradient id="c436" gradientUnits="userSpaceOnUse" x1="0" y1="70" x2="0" y2="366">
<stop offset="0.0000" stop-color="#000cff"/>
<stop offset="0.0270" stop-color="#000cff"/>
<stop offset="0.0541" stop-color="#000cff"/>
<stop offset="0.0811" stop-color="#000cff"/>
<stop offset="0.1081" stop-color="#000cff"/>
<stop offset="0.1351" stop-color="#000cff"/>
<stop offset="0.1622" stop-color="#000cff"/>
<stop offset="0.1892" stop-color="#000dff"/>
<stop offset="0.2162" stop-color="#000dff"/>
<stop offset="0.2432" stop-color="#000eff"/>
<stop offset="0.2703" stop-color="#000fff"/>
<stop offset="0.2973" stop-color="#0010ff"/>
<stop offset="0.3243" stop-color="#0010ff"/>
<stop offset="0.3514" stop-color="#0011ff"/>
<stop offset="0.3784" stop-color="#0012ff"/>
<stop offset="0.4054" stop-color="#0013ff"/>
<stop offset="0.4324" stop-color="#0013ff"/>
<stop offset="0.4595" stop-color="#0014ff"/>
<stop offset="0.4865" stop-color="#0015ff"/>
<stop offset="0.5135" stop-color="#0016ff"/>
<stop offset="0.5405" stop-color="#0017ff"/>
<stop offset="0.5676" stop-color="#0019ff"/>
<stop offset="0.5946" stop-color="#001aff"/>
<stop offset="0.6216" stop-color="#001bff"/>
<stop offset="0.6486" stop-color="#001cff"/>
<stop offset="0.6757" stop-color="#001cff"/>
<stop offset="0.7027" stop-color="#001dff"/>
<stop offset="0.7297" stop-color="#001eff"/>
<stop offset="0.7568" stop-color="#001fff"/>
<stop offset="0.7838" stop-color="#0020ff"/>
<stop offset="0.8108" stop-color="#0020ff"/>
<stop offset="0.8378" stop-color="#0021ff"/>
<stop offset="0.8649" stop-color="#0022ff"/>
<stop offset="0.8919" stop-color="#0023ff"/>
<stop offset="0.9189" stop-color="#0023ff"/>
<stop offset="0.9459" stop-color="#0024ff"/>
<stop offset="0.9730" stop-color="#0024ff"/>
<stop offset="1.0000" stop-color="#0025ff"/>
</linearGradient>
<linearGradient id="c437" gradientUnits="userSpaceOnUse" x1="0" y1="70" x2="0" y2="366">
<stop offset="0.0000" stop-color="#000cff"/>
<stop offset="0.0270" stop-color="#000cff"/>
<stop offset="0.0541" stop-color="#000cff"/>
<stop offset="0.0811" stop-color="#000cff"/>
<stop offset="0.1081" stop-color="#000cff"/>
<stop offset="0.1351" stop-color="#000cff"/>
<stop offset="0.1622" stop-color="#000cff"/>
<stop offset="0.1892" stop-color="#000dff"/>
<stop offset="0.2162" stop-color="#000dff"/>
<stop offset="0.2432" stop-color="#000eff"/>
<stop offset="0.2703" stop-color="#000fff"/>
<stop offset="0.2973" stop-color="#000fff"/>
<stop offset="0.3243" stop-color="#0010ff"/>
<stop offset="0.3514" stop-color="#0011ff"/>
<stop offset="0.3784" stop-color="#0012ff"/>
<stop offset="0.4054" stop-color="#0012ff"/>
<stop offset="0.4324" stop-color="#0013ff"/>
<stop offset="0.4595" stop-color="#0014ff"/>
<stop offset="0.4865" stop-color="#0015ff"/>
<stop offset="0.5135" stop-color="#0015ff"/>
<stop offset="0.5405" stop-color="#0016ff"/>
<stop offset="0.5676" stop-color="#0017ff"/>
<stop offset="0.5946" stop-color="#0018ff"/>
<stop offset="0.6216" stop-color="#0018ff"/>
<stop offset="0.6486" stop-color="#0019ff"/>
<stop offset="0.6757" stop-color="#001aff"/>
<stop offset="0.7027" stop-color="#001bff"/>
<stop offset="0.7297" stop-color="#001bff"/>
<stop offset="0.7568" stop-color="#001cff"/>
<stop offset="0.7838" stop-color="#001dff"/>
<stop offset="0.8108" stop-color="#001eff"/>
<stop offset="0.8378" stop-color="#001eff"/>
<stop offset="0.8649" stop-color="#001fff"/>
<stop offset="0.8919" stop-color="#0020ff"/>
<stop offset="0.9189" stop-color="#0020ff"/>
<stop offset="0.9459" stop-color="#0021ff"/>
<stop offset="0.9730" stop-color="#0022ff"/>
<stop offset="1.0000" stop-color="#0023ff"/>
</linearGradient>
<linearGradient id="bgv" gradientUnits="userSpaceOnUse" x1="0" y1="70" x2="0" y2="366"><stop offset="0" stop-color="#00ffff" stop-opacity="0"/><stop offset="0.169" stop-color="#00ffff" stop-opacity="0"/><stop offset="1" stop-color="#00ffff" stop-opacity="0.10"/></linearGradient>
<linearGradient id="cb" gradientUnits="userSpaceOnUse" x1="0" y1="102" x2="0" y2="296">
<stop offset="0.0000" stop-color="#000000"/>
<stop offset="0.0119" stop-color="#000000"/>
<stop offset="0.0258" stop-color="#0000ff"/>
<stop offset="0.2500" stop-color="#00ffff"/>
<stop offset="0.5155" stop-color="#00ff00"/>
<stop offset="0.7500" stop-color="#ffff00"/>
<stop offset="1.0000" stop-color="#ff0000"/>
</linearGradient>
</defs>
<rect width="520" height="613" fill="#fff"/>
<rect x="52" y="70" width="397" height="296" fill="url(#bg)"/>
<rect x="52" y="70" width="397" height="296" fill="url(#bgv)"/>
<g shape-rendering="crispEdges">
<rect x="78" y="70" width="1" height="296" fill="url(#c78)"/>
<rect x="79" y="70" width="1" height="296" fill="url(#c79)"/>
<rect x="80" y="70" width="1" height="296" fill="url(#c80)"/>
<rect x="81" y="70" width="1" height="296" fill="url(#c81)"/>
<rect x="82" y="70" width="1" height="296" fill="url(#c82)"/>
<rect x="83" y="70" width="1" height="296" fill="url(#c83)"/>
<rect x="84" y="70" width="1" height="296" fill="url(#c84)"/>
<rect x="85" y="70" width="1" height="296" fill="url(#c85)"/>
<rect x="86" y="70" width="1" height="296" fill="url(#c86)"/>
<rect x="87" y="70" width="1" height="296" fill="url(#c87)"/>
<rect x="88" y="70" width="1" height="296" fill="url(#c88)"/>
<rect x="89" y="70" width="1" height="296" fill="url(#c89)"/>
<rect x="90" y="70" width="1" height="296" fill="url(#c90)"/>
<rect x="91" y="70" width="1" height="296" fill="url(#c91)"/>
<rect x="92" y="70" width="1" height="296" fill="url(#c92)"/>
<rect x="126" y="70" width="1" height="296" fill="url(#c126)"/>
<rect x="127" y="70" width="1" height="296" fill="url(#c127)"/>
<rect x="128" y="70" width="1" height="296" fill="url(#c128)"/>
<rect x="129" y="70" width="1" height="296" fill="url(#c129)"/>
<rect x="130" y="70" width="1" height="296" fill="url(#c130)"/>
<rect x="131" y="70" width="1" height="296" fill="url(#c131)"/>
<rect x="132" y="70" width="1" height="296" fill="url(#c132)"/>
<rect x="133" y="70" width="1" height="296" fill="url(#c133)"/>
<rect x="134" y="70" width="1" height="296" fill="url(#c134)"/>
<rect x="135" y="70" width="1" height="296" fill="url(#c135)"/>
<rect x="136" y="70" width="1" height="296" fill="url(#c136)"/>
<rect x="137" y="70" width="1" height="296" fill="url(#c137)"/>
<rect x="138" y="70" width="1" height="296" fill="url(#c138)"/>
<rect x="139" y="70" width="1" height="296" fill="url(#c139)"/>
<rect x="140" y="70" width="1" height="296" fill="url(#c140)"/>
<rect x="138" y="70" width="1" height="296" fill="url(#c138)"/>
<rect x="139" y="70" width="1" height="296" fill="url(#c139)"/>
<rect x="140" y="70" width="1" height="296" fill="url(#c140)"/>
<rect x="141" y="70" width="1" height="296" fill="url(#c141)"/>
<rect x="142" y="70" width="1" height="296" fill="url(#c142)"/>
<rect x="143" y="70" width="1" height="296" fill="url(#c143)"/>
<rect x="144" y="70" width="1" height="296" fill="url(#c144)"/>
<rect x="145" y="70" width="1" height="296" fill="url(#c145)"/>
<rect x="146" y="70" width="1" height="296" fill="url(#c146)"/>
<rect x="147" y="70" width="1" height="296" fill="url(#c147)"/>
<rect x="148" y="70" width="1" height="296" fill="url(#c148)"/>
<rect x="149" y="70" width="1" height="296" fill="url(#c149)"/>
<rect x="150" y="70" width="1" height="296" fill="url(#c150)"/>
<rect x="151" y="70" width="1" height="296" fill="url(#c151)"/>
<rect x="152" y="70" width="1" height="296" fill="url(#c152)"/>
<rect x="195" y="70" width="1" height="296" fill="url(#c195)"/>
<rect x="196" y="70" width="1" height="296" fill="url(#c196)"/>
<rect x="197" y="70" width="1" height="296" fill="url(#c197)"/>
<rect x="198" y="70" width="1" height="296" fill="url(#c198)"/>
<rect x="199" y="70" width="1" height="296" fill="url(#c199)"/>
<rect x="200" y="70" width="1" height="296" fill="url(#c200)"/>
<rect x="201" y="70" width="1" height="296" fill="url(#c201)"/>
<rect x="202" y="70" width="1" height="296" fill="url(#c202)"/>
<rect x="203" y="70" width="1" height="296" fill="url(#c203)"/>
<rect x="204" y="70" width="1" height="296" fill="url(#c204)"/>
<rect x="205" y="70" width="1" height="296" fill="url(#c205)"/>
<rect x="206" y="70" width="1" height="296" fill="url(#c206)"/>
<rect x="207" y="70" width="1" height="296" fill="url(#c207)"/>
<rect x="208" y="70" width="1" height="296" fill="url(#c208)"/>
<rect x="334" y="70" width="1" height="296" fill="url(#c334)"/>
<rect x="335" y="70" width="1" height="296" fill="url(#c335)"/>
<rect x="336" y="70" width="1" height="296" fill="url(#c336)"/>
<rect x="337" y="70" width="1" height="296" fill="url(#c337)"/>
<rect x="338" y="70" width="1" height="296" fill="url(#c338)"/>
<rect x="339" y="70" width="1" height="296" fill="url(#c339)"/>
<rect x="340" y="70" width="1" height="296" fill="url(#c340)"/>
<rect x="341" y="70" width="1" height="296" fill="url(#c341)"/>
<rect x="342" y="70" width="1" height="296" fill="url(#c342)"/>
<rect x="343" y="70" width="1" height="296" fill="url(#c343)"/>
<rect x="344" y="70" width="1" height="296" fill="url(#c344)"/>
<rect x="345" y="70" width="1" height="296" fill="url(#c345)"/>
<rect x="346" y="70" width="1" height="296" fill="url(#c346)"/>
<rect x="347" y="70" width="1" height="296" fill="url(#c347)"/>
<rect x="423" y="70" width="1" height="296" fill="url(#c423)"/>
<rect x="424" y="70" width="1" height="296" fill="url(#c424)"/>
<rect x="425" y="70" width="1" height="296" fill="url(#c425)"/>
<rect x="426" y="70" width="1" height="296" fill="url(#c426)"/>
<rect x="427" y="70" width="1" height="296" fill="url(#c427)"/>
<rect x="428" y="70" width="1" height="296" fill="url(#c428)"/>
<rect x="429" y="70" width="1" height="296" fill="url(#c429)"/>
<rect x="430" y="70" width="1" height="296" fill="url(#c430)"/>
<rect x="431" y="70" width="1" height="296" fill="url(#c431)"/>
<rect x="432" y="70" width="1" height="296" fill="url(#c432)"/>
<rect x="433" y="70" width="1" height="296" fill="url(#c433)"/>
<rect x="434" y="70" width="1" height="296" fill="url(#c434)"/>
<rect x="435" y="70" width="1" height="296" fill="url(#c435)"/>
<rect x="436" y="70" width="1" height="296" fill="url(#c436)"/>
<rect x="437" y="70" width="1" height="296" fill="url(#c437)"/>
</g>
<path d="M62.16 70 v4.2 M62.16 366 v-3 M71.82 70 v4.2 M71.82 366 v-3 M81.48 70 v4.2 M81.48 366 v-3 M91.14 70 v4.2 M91.14 366 v-3 M100.80 70 v7.2 M100.80 366 v-6 M110.46 70 v4.2 M110.46 366 v-3 M120.12 70 v4.2 M120.12 366 v-3 M129.78 70 v4.2 M129.78 366 v-3 M139.44 70 v4.2 M139.44 366 v-3 M149.10 70 v7.2 M149.10 366 v-6 M158.76 70 v4.2 M158.76 366 v-3 M168.42 70 v4.2 M168.42 366 v-3 M178.08 70 v4.2 M178.08 366 v-3 M187.74 70 v4.2 M187.74 366 v-3 M197.40 70 v7.2 M197.40 366 v-6 M207.06 70 v4.2 M207.06 366 v-3 M216.72 70 v4.2 M216.72 366 v-3 M226.38 70 v4.2 M226.38 366 v-3 M236.04 70 v4.2 M236.04 366 v-3 M245.70 70 v7.2 M245.70 366 v-6 M255.36 70 v4.2 M255.36 366 v-3 M265.02 70 v4.2 M265.02 366 v-3 M274.68 70 v4.2 M274.68 366 v-3 M284.34 70 v4.2 M284.34 366 v-3 M294.00 70 v7.2 M294.00 366 v-6 M303.66 70 v4.2 M303.66 366 v-3 M313.32 70 v4.2 M313.32 366 v-3 M322.98 70 v4.2 M322.98 366 v-3 M332.64 70 v4.2 M332.64 366 v-3 M342.30 70 v7.2 M342.30 366 v-6 M351.96 70 v4.2 M351.96 366 v-3 M361.62 70 v4.2 M361.62 366 v-3 M371.28 70 v4.2 M371.28 366 v-3 M380.94 70 v4.2 M380.94 366 v-3 M390.60 70 v7.2 M390.60 366 v-6 M400.26 70 v4.2 M400.26 366 v-3 M409.92 70 v4.2 M409.92 366 v-3 M419.58 70 v4.2 M419.58 366 v-3 M429.24 70 v4.2 M429.24 366 v-3 M438.90 70 v7.2 M438.90 366 v-6 M448.56 70 v4.2 M448.56 366 v-3 M52 351.46 h3.0 M449 351.46 h-3.9 M52 336.64 h3.0 M449 336.64 h-3.9 M52 321.82 h3.0 M449 321.82 h-3.9 M52 307.00 h6.5 M449 307.00 h-8.5 M52 292.18 h3.0 M449 292.18 h-3.9 M52 277.36 h3.0 M449 277.36 h-3.9 M52 262.54 h3.0 M449 262.54 h-3.9 M52 247.72 h3.0 M449 247.72 h-3.9 M52 232.90 h6.5 M449 232.90 h-8.5 M52 218.08 h3.0 M449 218.08 h-3.9 M52 203.26 h3.0 M449 203.26 h-3.9 M52 188.44 h3.0 M449 188.44 h-3.9 M52 173.62 h3.0 M449 173.62 h-3.9 M52 158.80 h6.5 M449 158.80 h-8.5 M52 143.98 h3.0 M449 143.98 h-3.9 M52 129.16 h3.0 M449 129.16 h-3.9 M52 114.34 h3.0 M449 114.34 h-3.9 M52 99.52 h3.0 M449 99.52 h-3.9 M52 84.70 h6.5 M449 84.70 h-8.5" stroke="#000014" stroke-width="1.35" opacity="0.85" fill="none"/>
<path d="M52.4 366 V70.3 H449.0" stroke="#00001a" stroke-width="1.3" opacity="0.8" fill="none"/>
<path d="M448.6 70 V366" stroke="#00001a" stroke-width="1" opacity="0.6" fill="none"/>
<text transform="translate(83.83,127.50) scale(1.1310,1)" font-family="'Liberation Sans',Arial,sans-serif" font-size="13.00" fill="#f0f5ff" stroke="#f0f5ff" stroke-width="0.35">Al (111)</text>
<text transform="translate(148.33,127.50) scale(1.0704,1)" font-family="'Liberation Sans',Arial,sans-serif" font-size="13.00" fill="#f0f5ff" stroke="#f0f5ff" stroke-width="0.35">Al (200)</text>
<text transform="translate(103.78,162.80) scale(1.1104,1)" font-family="'Liberation Sans',Arial,sans-serif" font-size="13.00" fill="#f0f5ff" stroke="#f0f5ff" stroke-width="0.35">Cu (111)</text>
<text transform="translate(201.70,162.80) scale(1.0786,1)" font-family="'Liberation Sans',Arial,sans-serif" font-size="13.00" fill="#f0f5ff" stroke="#f0f5ff" stroke-width="0.35">Cu (200)</text>
<text transform="translate(339.53,127.60) scale(1.0548,1)" font-family="'Liberation Sans',Arial,sans-serif" font-size="13.00" fill="#f0f5ff" stroke="#f0f5ff" stroke-width="0.35">Al (220)</text>
<text transform="translate(375.20,162.70) scale(1.0704,1)" font-family="'Liberation Sans',Arial,sans-serif" font-size="13.00" fill="#f0f5ff" stroke="#f0f5ff" stroke-width="0.35">Cu (220)</text>
<text transform="translate(56.15,91.70) scale(1.0073,1)" font-family="'Liberation Sans',Arial,sans-serif" font-size="21.00" fill="#000" stroke="#000" stroke-width="0.40">a)</text>
<text transform="translate(58.15,387.30) scale(1.0343,1)" font-family="'Liberation Sans',Arial,sans-serif" font-size="21.50" fill="#000" stroke="#000" stroke-width="0.40">b)</text>
<text transform="translate(199.9,15.4) scale(1.02,1)" font-family="'Liberation Sans',Arial,sans-serif" font-size="19.3" fill="#000" stroke="#000" stroke-width="0.28">Angle 2<tspan font-family="'Liberation Serif',serif">θ</tspan> (deg)</text>
<text transform="translate(15.10,278.99) rotate(-90) scale(1.0722,1)" font-family="'Liberation Sans',Arial,sans-serif" font-size="18.20" fill="#000" stroke="#000" stroke-width="0.28">Time (min.)</text>
<text transform="translate(14.70,509.51) rotate(-90) scale(1.0029,1)" font-family="'Liberation Sans',Arial,sans-serif" font-size="17.80" fill="#000" stroke="#000" stroke-width="0.28">Intensity</text>
<text transform="translate(177.08,606.90) scale(1.0049,1)" font-family="'Liberation Sans',Arial,sans-serif" font-size="18.10" fill="#000" stroke="#000" stroke-width="0.28">Sputter Time (min.)</text>
<text transform="translate(456.57,86.20) scale(1.0110,1)" font-family="'DejaVu Sans',sans-serif" font-size="20.40" fill="#000" stroke="#000" stroke-width="0.25">cps</text>
<g font-family="'Liberation Sans',Arial,sans-serif" fill="#000" stroke="#000" stroke-width="0.3">
<g font-size="13.2">
<text x="52.8" y="61.2" text-anchor="middle">35</text>
<text x="101.1" y="61.2" text-anchor="middle">40</text>
<text x="149.4" y="61.2" text-anchor="middle">45</text>
<text x="197.7" y="61.2" text-anchor="middle">50</text>
<text x="246.0" y="61.2" text-anchor="middle">55</text>
<text x="294.3" y="61.2" text-anchor="middle">60</text>
<text x="342.6" y="61.2" text-anchor="middle">65</text>
<text x="390.9" y="61.2" text-anchor="middle">70</text>
<text x="439.2" y="61.2" text-anchor="middle">75</text>
<text x="46.4" y="310.8" text-anchor="end" font-size="13.7">5</text>
<text x="46.4" y="236.7" text-anchor="end" font-size="13.7">10</text>
<text x="46.4" y="162.6" text-anchor="end" font-size="13.7">15</text>
<text x="46.4" y="88.5" text-anchor="end" font-size="13.7">20</text>
<text x="47.6" y="569.2" text-anchor="end">0</text>
<text x="47.6" y="536.1" text-anchor="end">50</text>
<text x="47.6" y="503.0" text-anchor="end">100</text>
<text x="47.6" y="469.9" text-anchor="end">150</text>
<text x="47.6" y="436.8" text-anchor="end">200</text>
<text x="47.6" y="403.8" text-anchor="end">250</text>
<text x="47.6" y="370.7" text-anchor="end">300</text>
<text x="54.2" y="581.7" text-anchor="middle">0</text>
<text x="153.2" y="581.7" text-anchor="middle">5</text>
<text x="252.2" y="581.7" text-anchor="middle">10</text>
<text x="351.2" y="581.7" text-anchor="middle">15</text>
<text x="450.2" y="581.7" text-anchor="middle">20</text>
</g>
<g font-size="12" stroke-width="0.25">
<text x="498.2" y="109.6">9</text>
<text x="498.2" y="128.8">34</text>
<text x="498.2" y="147.9">59</text>
<text x="498.2" y="167.0">84</text>
<text x="498.2" y="186.2">109</text>
<text x="498.2" y="205.3">134</text>
<text x="498.2" y="224.5">159</text>
<text x="498.2" y="243.6">184</text>
<text x="498.2" y="262.8">209</text>
<text x="498.2" y="281.9">234</text>
<text x="498.2" y="301.1">259</text>
</g>
</g>
<rect x="455" y="102" width="34" height="194" fill="url(#cb)"/>
<path d="M73.80 564.90 v-3.4 M73.80 366.60 v3.4 M93.60 564.90 v-3.4 M93.60 366.60 v3.4 M113.40 564.90 v-3.4 M113.40 366.60 v3.4 M133.20 564.90 v-3.4 M133.20 366.60 v3.4 M153.00 564.90 v-6.3 M153.00 366.60 v6.3 M172.80 564.90 v-3.4 M172.80 366.60 v3.4 M192.60 564.90 v-3.4 M192.60 366.60 v3.4 M212.40 564.90 v-3.4 M212.40 366.60 v3.4 M232.20 564.90 v-3.4 M232.20 366.60 v3.4 M252.00 564.90 v-6.3 M252.00 366.60 v6.3 M271.80 564.90 v-3.4 M271.80 366.60 v3.4 M291.60 564.90 v-3.4 M291.60 366.60 v3.4 M311.40 564.90 v-3.4 M311.40 366.60 v3.4 M331.20 564.90 v-3.4 M331.20 366.60 v3.4 M351.00 564.90 v-6.3 M351.00 366.60 v6.3 M370.80 564.90 v-3.4 M370.80 366.60 v3.4 M390.60 564.90 v-3.4 M390.60 366.60 v3.4 M410.40 564.90 v-3.4 M410.40 366.60 v3.4 M430.20 564.90 v-3.4 M430.20 366.60 v3.4 M53.90 558.59 h3.3 M450.10 558.59 h-3.3 M53.90 551.98 h3.3 M450.10 551.98 h-3.3 M53.90 545.38 h3.3 M450.10 545.38 h-3.3 M53.90 538.77 h3.3 M450.10 538.77 h-3.3 M53.90 532.16 h6.3 M450.10 532.16 h-6.3 M53.90 525.55 h3.3 M450.10 525.55 h-3.3 M53.90 518.94 h3.3 M450.10 518.94 h-3.3 M53.90 512.34 h3.3 M450.10 512.34 h-3.3 M53.90 505.73 h3.3 M450.10 505.73 h-3.3 M53.90 499.12 h6.3 M450.10 499.12 h-6.3 M53.90 492.51 h3.3 M450.10 492.51 h-3.3 M53.90 485.90 h3.3 M450.10 485.90 h-3.3 M53.90 479.30 h3.3 M450.10 479.30 h-3.3 M53.90 472.69 h3.3 M450.10 472.69 h-3.3 M53.90 466.08 h6.3 M450.10 466.08 h-6.3 M53.90 459.47 h3.3 M450.10 459.47 h-3.3 M53.90 452.86 h3.3 M450.10 452.86 h-3.3 M53.90 446.26 h3.3 M450.10 446.26 h-3.3 M53.90 439.65 h3.3 M450.10 439.65 h-3.3 M53.90 433.04 h6.3 M450.10 433.04 h-6.3 M53.90 426.43 h3.3 M450.10 426.43 h-3.3 M53.90 419.82 h3.3 M450.10 419.82 h-3.3 M53.90 413.22 h3.3 M450.10 413.22 h-3.3 M53.90 406.61 h3.3 M450.10 406.61 h-3.3 M53.90 400.00 h6.3 M450.10 400.00 h-6.3 M53.90 393.39 h3.3 M450.10 393.39 h-3.3 M53.90 386.78 h3.3 M450.10 386.78 h-3.3 M53.90 380.18 h3.3 M450.10 380.18 h-3.3 M53.90 373.57 h3.3 M450.10 373.57 h-3.3" stroke="#000" stroke-width="1.3" fill="none"/>
<clipPath id="pb"><rect x="53.30" y="366.60" width="397.40" height="198.30"/></clipPath>
<g clip-path="url(#pb)">
<path d="M59.57 468.94L68.23 468.08M79.20 466.02L88.20 463.52M99.03 460.64L107.97 458.37M118.78 455.44L127.82 452.85M138.73 450.45L147.47 449.10M158.48 447.12L167.32 445.29M178.35 443.37L187.05 442.15M198.10 440.32L206.90 438.64M217.97 437.02L226.63 436.12M237.62 434.13L246.58 431.79M257.58 429.97L266.22 429.33M277.30 427.89L286.10 426.25M297.17 424.67L305.83 423.84M316.95 422.52L325.65 421.29M336.76 419.86L345.44 418.85M356.50 417.13L365.30 415.42M376.31 413.38L385.09 411.83M396.06 409.63L404.94 407.64M415.96 405.76L424.64 404.75M435.68 402.96L444.52 401.13" fill="none" stroke="#35557f" stroke-width="1"/>
<g><path d="M49.40 469.50 L54.00 464.90 L58.60 469.50 L54.00 474.10Z" fill="#0c2b5e" stroke="#0c2b5e" stroke-width="1.0" stroke-linejoin="miter"/><path d="M69.20 467.52 L73.80 462.92 L78.40 467.52 L73.80 472.12Z" fill="#0c2b5e" stroke="#0c2b5e" stroke-width="1.0" stroke-linejoin="miter"/><path d="M89.00 462.02 L93.60 457.42 L98.20 462.02 L93.60 466.62Z" fill="#0c2b5e" stroke="#0c2b5e" stroke-width="1.0" stroke-linejoin="miter"/><path d="M108.80 456.99 L113.40 452.39 L118.00 456.99 L113.40 461.59Z" fill="#0c2b5e" stroke="#0c2b5e" stroke-width="1.0" stroke-linejoin="miter"/><path d="M128.60 451.30 L133.20 446.70 L137.80 451.30 L133.20 455.90Z" fill="#0c2b5e" stroke="#0c2b5e" stroke-width="1.0" stroke-linejoin="miter"/><path d="M148.40 448.25 L153.00 443.65 L157.60 448.25 L153.00 452.85Z" fill="#0c2b5e" stroke="#0c2b5e" stroke-width="1.0" stroke-linejoin="miter"/><path d="M168.20 444.15 L172.80 439.55 L177.40 444.15 L172.80 448.75Z" fill="#0c2b5e" stroke="#0c2b5e" stroke-width="1.0" stroke-linejoin="miter"/><path d="M188.00 441.37 L192.60 436.77 L197.20 441.37 L192.60 445.97Z" fill="#0c2b5e" stroke="#0c2b5e" stroke-width="1.0" stroke-linejoin="miter"/><path d="M207.80 437.59 L212.40 432.99 L217.00 437.59 L212.40 442.19Z" fill="#0c2b5e" stroke="#0c2b5e" stroke-width="1.0" stroke-linejoin="miter"/><path d="M227.60 435.54 L232.20 430.94 L236.80 435.54 L232.20 440.14Z" fill="#0c2b5e" stroke="#0c2b5e" stroke-width="1.0" stroke-linejoin="miter"/><path d="M247.40 430.38 L252.00 425.78 L256.60 430.38 L252.00 434.98Z" fill="#0c2b5e" stroke="#0c2b5e" stroke-width="1.0" stroke-linejoin="miter"/><path d="M267.20 428.92 L271.80 424.32 L276.40 428.92 L271.80 433.52Z" fill="#0c2b5e" stroke="#0c2b5e" stroke-width="1.0" stroke-linejoin="miter"/><path d="M287.00 425.22 L291.60 420.62 L296.20 425.22 L291.60 429.82Z" fill="#0c2b5e" stroke="#0c2b5e" stroke-width="1.0" stroke-linejoin="miter"/><path d="M306.80 423.30 L311.40 418.70 L316.00 423.30 L311.40 427.90Z" fill="#0c2b5e" stroke="#0c2b5e" stroke-width="1.0" stroke-linejoin="miter"/><path d="M326.60 420.51 L331.20 415.91 L335.80 420.51 L331.20 425.12Z" fill="#0c2b5e" stroke="#0c2b5e" stroke-width="1.0" stroke-linejoin="miter"/><path d="M346.40 418.20 L351.00 413.60 L355.60 418.20 L351.00 422.80Z" fill="#0c2b5e" stroke="#0c2b5e" stroke-width="1.0" stroke-linejoin="miter"/><path d="M366.20 414.36 L370.80 409.76 L375.40 414.36 L370.80 418.96Z" fill="#0c2b5e" stroke="#0c2b5e" stroke-width="1.0" stroke-linejoin="miter"/><path d="M386.00 410.85 L390.60 406.25 L395.20 410.85 L390.60 415.45Z" fill="#0c2b5e" stroke="#0c2b5e" stroke-width="1.0" stroke-linejoin="miter"/><path d="M405.80 406.41 L410.40 401.81 L415.00 406.41 L410.40 411.01Z" fill="#0c2b5e" stroke="#0c2b5e" stroke-width="1.0" stroke-linejoin="miter"/><path d="M425.60 404.10 L430.20 399.50 L434.80 404.10 L430.20 408.70Z" fill="#0c2b5e" stroke="#0c2b5e" stroke-width="1.0" stroke-linejoin="miter"/><path d="M445.40 399.99 L450.00 395.39 L454.60 399.99 L450.00 404.59Z" fill="#0c2b5e" stroke="#0c2b5e" stroke-width="1.0" stroke-linejoin="miter"/></g>
<path d="M57.48 468.10L67.64 466.91M77.19 465.34L87.59 462.74M96.99 460.38L107.39 457.77M116.79 455.41L127.19 452.81M136.67 450.83L146.85 449.47M156.43 447.96L166.72 445.90M176.27 444.21L186.45 442.85M196.05 441.45L206.28 439.74M215.88 438.37L226.03 437.35M235.65 436.16L245.88 434.45M255.49 433.14L265.62 432.33M275.25 431.24L285.49 429.45M295.08 428.02L305.24 426.93M314.87 425.79L325.06 424.36M334.67 423.08L344.84 421.85M354.48 420.75L364.63 419.70M374.28 418.65L384.44 417.46M394.08 416.38L404.23 415.33M413.86 414.17L424.07 412.63M433.58 410.81L444.01 408.02" fill="none" stroke="#c3d9e8" stroke-width="1"/>
<g><path d="M49.53 468.51 L56.23 464.61 L56.23 472.41Z" fill="#a9c8de" stroke="#a9c8de" stroke-width="1.0" stroke-linejoin="miter"/><path d="M69.33 466.19 L76.03 462.29 L76.03 470.09Z" fill="#a9c8de" stroke="#a9c8de" stroke-width="1.0" stroke-linejoin="miter"/><path d="M89.13 461.23 L95.83 457.33 L95.83 465.13Z" fill="#a9c8de" stroke="#a9c8de" stroke-width="1.0" stroke-linejoin="miter"/><path d="M108.93 456.26 L115.63 452.36 L115.63 460.16Z" fill="#a9c8de" stroke="#a9c8de" stroke-width="1.0" stroke-linejoin="miter"/><path d="M128.73 451.30 L135.43 447.40 L135.43 455.20Z" fill="#a9c8de" stroke="#a9c8de" stroke-width="1.0" stroke-linejoin="miter"/><path d="M148.53 448.65 L155.23 444.75 L155.23 452.55Z" fill="#a9c8de" stroke="#a9c8de" stroke-width="1.0" stroke-linejoin="miter"/><path d="M168.33 444.68 L175.03 440.78 L175.03 448.58Z" fill="#a9c8de" stroke="#a9c8de" stroke-width="1.0" stroke-linejoin="miter"/><path d="M188.13 442.03 L194.83 438.13 L194.83 445.93Z" fill="#a9c8de" stroke="#a9c8de" stroke-width="1.0" stroke-linejoin="miter"/><path d="M207.93 438.72 L214.63 434.82 L214.63 442.62Z" fill="#a9c8de" stroke="#a9c8de" stroke-width="1.0" stroke-linejoin="miter"/><path d="M227.73 436.73 L234.43 432.83 L234.43 440.63Z" fill="#a9c8de" stroke="#a9c8de" stroke-width="1.0" stroke-linejoin="miter"/><path d="M247.53 433.42 L254.23 429.52 L254.23 437.32Z" fill="#a9c8de" stroke="#a9c8de" stroke-width="1.0" stroke-linejoin="miter"/><path d="M267.33 431.84 L274.03 427.94 L274.03 435.74Z" fill="#a9c8de" stroke="#a9c8de" stroke-width="1.0" stroke-linejoin="miter"/><path d="M287.13 428.39 L293.83 424.49 L293.83 432.29Z" fill="#a9c8de" stroke="#a9c8de" stroke-width="1.0" stroke-linejoin="miter"/><path d="M306.93 426.27 L313.63 422.37 L313.63 430.17Z" fill="#a9c8de" stroke="#a9c8de" stroke-width="1.0" stroke-linejoin="miter"/><path d="M326.73 423.49 L333.43 419.59 L333.43 427.39Z" fill="#a9c8de" stroke="#a9c8de" stroke-width="1.0" stroke-linejoin="miter"/><path d="M346.53 421.11 L353.23 417.21 L353.23 425.01Z" fill="#a9c8de" stroke="#a9c8de" stroke-width="1.0" stroke-linejoin="miter"/><path d="M366.33 419.06 L373.03 415.16 L373.03 422.96Z" fill="#a9c8de" stroke="#a9c8de" stroke-width="1.0" stroke-linejoin="miter"/><path d="M386.13 416.74 L392.83 412.84 L392.83 420.64Z" fill="#a9c8de" stroke="#a9c8de" stroke-width="1.0" stroke-linejoin="miter"/><path d="M405.93 414.69 L412.63 410.79 L412.63 418.59Z" fill="#a9c8de" stroke="#a9c8de" stroke-width="1.0" stroke-linejoin="miter"/><path d="M425.73 411.71 L432.43 407.81 L432.43 415.61Z" fill="#a9c8de" stroke="#a9c8de" stroke-width="1.0" stroke-linejoin="miter"/><path d="M445.53 406.41 L452.23 402.51 L452.23 410.31Z" fill="#a9c8de" stroke="#a9c8de" stroke-width="1.0" stroke-linejoin="miter"/></g>
<path d="M59.59 512.87L68.21 513.39M79.33 514.63L88.07 516.06M98.90 518.78L108.10 521.91M118.73 525.43L127.87 528.36M138.71 531.09L147.49 532.70M158.60 533.94L167.20 534.29M178.40 534.66L187.00 534.89M198.20 535.12L206.80 535.23M218.00 535.31L226.60 535.31M237.80 535.31L246.40 535.31M257.60 535.31L266.20 535.31M277.40 535.31L286.00 535.31M297.20 535.36L305.80 535.45M317.00 535.54L325.60 535.60M336.80 535.64L345.40 535.64M356.60 535.64L365.20 535.64M376.40 535.64L385.00 535.64M396.20 535.64L404.80 535.64M416.00 535.64L424.60 535.64M435.45 533.69L444.75 530.24" fill="none" stroke="#f0bd78" stroke-width="1"/>
<g><path d="M49.40 512.53 L54.00 507.93 L58.60 512.53 L54.00 517.13Z" fill="#fffaf0" stroke="#eaa84c" stroke-width="1.0" stroke-linejoin="miter"/><path d="M69.20 513.72 L73.80 509.12 L78.40 513.72 L73.80 518.32Z" fill="#fffaf0" stroke="#eaa84c" stroke-width="1.0" stroke-linejoin="miter"/><path d="M89.00 516.97 L93.60 512.37 L98.20 516.97 L93.60 521.57Z" fill="#fffaf0" stroke="#eaa84c" stroke-width="1.0" stroke-linejoin="miter"/><path d="M108.80 523.72 L113.40 519.12 L118.00 523.72 L113.40 528.32Z" fill="#fffaf0" stroke="#eaa84c" stroke-width="1.0" stroke-linejoin="miter"/><path d="M128.60 530.08 L133.20 525.48 L137.80 530.08 L133.20 534.68Z" fill="#fffaf0" stroke="#eaa84c" stroke-width="1.0" stroke-linejoin="miter"/><path d="M148.40 533.72 L153.00 529.12 L157.60 533.72 L153.00 538.32Z" fill="#fffaf0" stroke="#eaa84c" stroke-width="1.0" stroke-linejoin="miter"/><path d="M168.20 534.51 L172.80 529.91 L177.40 534.51 L172.80 539.11Z" fill="#fffaf0" stroke="#eaa84c" stroke-width="1.0" stroke-linejoin="miter"/><path d="M188.00 535.04 L192.60 530.44 L197.20 535.04 L192.60 539.64Z" fill="#fffaf0" stroke="#eaa84c" stroke-width="1.0" stroke-linejoin="miter"/><path d="M207.80 535.31 L212.40 530.71 L217.00 535.31 L212.40 539.91Z" fill="#fffaf0" stroke="#eaa84c" stroke-width="1.0" stroke-linejoin="miter"/><path d="M227.60 535.31 L232.20 530.71 L236.80 535.31 L232.20 539.91Z" fill="#fffaf0" stroke="#eaa84c" stroke-width="1.0" stroke-linejoin="miter"/><path d="M247.40 535.31 L252.00 530.71 L256.60 535.31 L252.00 539.91Z" fill="#fffaf0" stroke="#eaa84c" stroke-width="1.0" stroke-linejoin="miter"/><path d="M267.20 535.31 L271.80 530.71 L276.40 535.31 L271.80 539.91Z" fill="#fffaf0" stroke="#eaa84c" stroke-width="1.0" stroke-linejoin="miter"/><path d="M287.00 535.31 L291.60 530.71 L296.20 535.31 L291.60 539.91Z" fill="#fffaf0" stroke="#eaa84c" stroke-width="1.0" stroke-linejoin="miter"/><path d="M306.80 535.50 L311.40 530.90 L316.00 535.50 L311.40 540.10Z" fill="#fffaf0" stroke="#eaa84c" stroke-width="1.0" stroke-linejoin="miter"/><path d="M326.60 535.64 L331.20 531.04 L335.80 535.64 L331.20 540.24Z" fill="#fffaf0" stroke="#eaa84c" stroke-width="1.0" stroke-linejoin="miter"/><path d="M346.40 535.64 L351.00 531.04 L355.60 535.64 L351.00 540.24Z" fill="#fffaf0" stroke="#eaa84c" stroke-width="1.0" stroke-linejoin="miter"/><path d="M366.20 535.64 L370.80 531.04 L375.40 535.64 L370.80 540.24Z" fill="#fffaf0" stroke="#eaa84c" stroke-width="1.0" stroke-linejoin="miter"/><path d="M386.00 535.64 L390.60 531.04 L395.20 535.64 L390.60 540.24Z" fill="#fffaf0" stroke="#eaa84c" stroke-width="1.0" stroke-linejoin="miter"/><path d="M405.80 535.64 L410.40 531.04 L415.00 535.64 L410.40 540.24Z" fill="#fffaf0" stroke="#eaa84c" stroke-width="1.0" stroke-linejoin="miter"/><path d="M425.60 535.64 L430.20 531.04 L434.80 535.64 L430.20 540.24Z" fill="#fffaf0" stroke="#eaa84c" stroke-width="1.0" stroke-linejoin="miter"/><path d="M445.40 528.29 L450.00 523.69 L454.60 528.29 L450.00 532.89Z" fill="#fffaf0" stroke="#eaa84c" stroke-width="1.0" stroke-linejoin="miter"/></g>
<path d="M57.47 450.44L67.65 451.80M76.51 454.83L88.80 464.86M95.80 471.50L109.51 488.51M116.30 495.29L128.06 503.24M136.56 507.70L147.05 510.78M156.48 512.92L166.64 514.04M176.30 514.83L186.40 515.17M196.10 515.52L206.20 515.93M215.90 516.22L226.00 516.36M235.70 516.44L245.80 516.44M255.50 516.44L265.60 516.44M275.30 516.47L285.40 516.58M295.10 516.73L305.20 517.00M314.90 517.23L325.00 517.39M334.70 517.50L344.80 517.50M354.50 517.50L364.60 517.50M374.30 517.50L384.40 517.50M394.05 518.10L404.29 519.88M413.84 521.61L424.11 523.60M432.67 522.30L445.62 509.31" fill="none" stroke="#d9948a" stroke-width="1"/>
<g><path d="M49.53 449.97 L56.23 446.07 L56.23 453.87Z" fill="#ffffff" stroke="#cf7766" stroke-width="1.0" stroke-linejoin="miter"/><path d="M69.33 452.62 L76.03 448.72 L76.03 456.52Z" fill="#ffffff" stroke="#cf7766" stroke-width="1.0" stroke-linejoin="miter"/><path d="M89.13 468.77 L95.83 464.87 L95.83 472.67Z" fill="#ffffff" stroke="#cf7766" stroke-width="1.0" stroke-linejoin="miter"/><path d="M108.93 493.33 L115.63 489.44 L115.63 497.23Z" fill="#ffffff" stroke="#cf7766" stroke-width="1.0" stroke-linejoin="miter"/><path d="M128.73 506.71 L135.43 502.81 L135.43 510.61Z" fill="#ffffff" stroke="#cf7766" stroke-width="1.0" stroke-linejoin="miter"/><path d="M148.53 512.53 L155.23 508.63 L155.23 516.43Z" fill="#ffffff" stroke="#cf7766" stroke-width="1.0" stroke-linejoin="miter"/><path d="M168.33 514.72 L175.03 510.82 L175.03 518.62Z" fill="#ffffff" stroke="#cf7766" stroke-width="1.0" stroke-linejoin="miter"/><path d="M188.13 515.38 L194.83 511.48 L194.83 519.28Z" fill="#ffffff" stroke="#cf7766" stroke-width="1.0" stroke-linejoin="miter"/><path d="M207.93 516.17 L214.63 512.27 L214.63 520.07Z" fill="#ffffff" stroke="#cf7766" stroke-width="1.0" stroke-linejoin="miter"/><path d="M227.73 516.44 L234.43 512.54 L234.43 520.34Z" fill="#ffffff" stroke="#cf7766" stroke-width="1.0" stroke-linejoin="miter"/><path d="M247.53 516.44 L254.23 512.54 L254.23 520.34Z" fill="#ffffff" stroke="#cf7766" stroke-width="1.0" stroke-linejoin="miter"/><path d="M267.33 516.44 L274.03 512.54 L274.03 520.34Z" fill="#ffffff" stroke="#cf7766" stroke-width="1.0" stroke-linejoin="miter"/><path d="M287.13 516.64 L293.83 512.74 L293.83 520.54Z" fill="#ffffff" stroke="#cf7766" stroke-width="1.0" stroke-linejoin="miter"/><path d="M306.93 517.17 L313.63 513.27 L313.63 521.07Z" fill="#ffffff" stroke="#cf7766" stroke-width="1.0" stroke-linejoin="miter"/><path d="M326.73 517.50 L333.43 513.60 L333.43 521.40Z" fill="#ffffff" stroke="#cf7766" stroke-width="1.0" stroke-linejoin="miter"/><path d="M346.53 517.50 L353.23 513.60 L353.23 521.40Z" fill="#ffffff" stroke="#cf7766" stroke-width="1.0" stroke-linejoin="miter"/><path d="M366.33 517.50 L373.03 513.60 L373.03 521.40Z" fill="#ffffff" stroke="#cf7766" stroke-width="1.0" stroke-linejoin="miter"/><path d="M386.13 517.50 L392.83 513.60 L392.83 521.40Z" fill="#ffffff" stroke="#cf7766" stroke-width="1.0" stroke-linejoin="miter"/><path d="M405.93 520.94 L412.63 517.04 L412.63 524.84Z" fill="#ffffff" stroke="#cf7766" stroke-width="1.0" stroke-linejoin="miter"/><path d="M425.73 524.78 L432.43 520.88 L432.43 528.68Z" fill="#ffffff" stroke="#cf7766" stroke-width="1.0" stroke-linejoin="miter"/><path d="M445.53 504.92 L452.23 501.02 L452.23 508.82Z" fill="#ffffff" stroke="#cf7766" stroke-width="1.0" stroke-linejoin="miter"/></g>
<path d="M58.80 429.83L71.09 419.75M79.97 416.92L90.12 415.90M99.80 415.38L109.90 415.11M119.60 415.19L129.70 415.46M139.35 416.37L149.53 417.73M159.07 419.46L169.37 421.59M178.84 423.72L189.19 426.14M198.57 428.59L209.03 431.50M218.44 433.82L228.79 436.21M238.10 438.89L248.67 442.28M258.06 444.67L268.38 446.91M277.67 449.64L288.28 453.22M297.62 455.83L308.00 458.40M317.15 461.55L327.95 465.88M336.25 470.78L348.15 479.26M356.67 483.81L367.60 488.67M376.37 492.81L387.45 498.22M396.04 502.74L407.33 508.93M415.90 513.48L427.10 519.32M434.50 516.47L447.57 502.87" fill="none" stroke="#b06f92" stroke-width="1"/>
<g><path d="M58.47 433.75 L51.77 429.86 L51.77 437.65Z" fill="#ffffff" stroke="#a3547c" stroke-width="1.0" stroke-linejoin="miter"/><path d="M78.27 417.54 L71.57 413.64 L71.57 421.44Z" fill="#ffffff" stroke="#a3547c" stroke-width="1.0" stroke-linejoin="miter"/><path d="M98.07 415.55 L91.37 411.65 L91.37 419.45Z" fill="#ffffff" stroke="#a3547c" stroke-width="1.0" stroke-linejoin="miter"/><path d="M117.87 415.02 L111.17 411.12 L111.17 418.92Z" fill="#ffffff" stroke="#a3547c" stroke-width="1.0" stroke-linejoin="miter"/><path d="M137.67 415.55 L130.97 411.65 L130.97 419.45Z" fill="#ffffff" stroke="#a3547c" stroke-width="1.0" stroke-linejoin="miter"/><path d="M157.47 418.20 L150.77 414.30 L150.77 422.10Z" fill="#ffffff" stroke="#a3547c" stroke-width="1.0" stroke-linejoin="miter"/><path d="M177.27 422.30 L170.57 418.40 L170.57 426.20Z" fill="#ffffff" stroke="#a3547c" stroke-width="1.0" stroke-linejoin="miter"/><path d="M197.07 426.94 L190.37 423.04 L190.37 430.84Z" fill="#ffffff" stroke="#a3547c" stroke-width="1.0" stroke-linejoin="miter"/><path d="M216.87 432.43 L210.17 428.53 L210.17 436.33Z" fill="#ffffff" stroke="#a3547c" stroke-width="1.0" stroke-linejoin="miter"/><path d="M236.67 437.00 L229.97 433.10 L229.97 440.90Z" fill="#ffffff" stroke="#a3547c" stroke-width="1.0" stroke-linejoin="miter"/><path d="M256.47 443.35 L249.77 439.45 L249.77 447.25Z" fill="#ffffff" stroke="#a3547c" stroke-width="1.0" stroke-linejoin="miter"/><path d="M276.27 447.66 L269.57 443.76 L269.57 451.56Z" fill="#ffffff" stroke="#a3547c" stroke-width="1.0" stroke-linejoin="miter"/><path d="M296.07 454.34 L289.37 450.44 L289.37 458.24Z" fill="#ffffff" stroke="#a3547c" stroke-width="1.0" stroke-linejoin="miter"/><path d="M315.87 459.24 L309.17 455.34 L309.17 463.14Z" fill="#ffffff" stroke="#a3547c" stroke-width="1.0" stroke-linejoin="miter"/><path d="M335.67 467.19 L328.97 463.29 L328.97 471.09Z" fill="#ffffff" stroke="#a3547c" stroke-width="1.0" stroke-linejoin="miter"/><path d="M355.47 481.29 L348.77 477.39 L348.77 485.19Z" fill="#ffffff" stroke="#a3547c" stroke-width="1.0" stroke-linejoin="miter"/><path d="M375.27 490.09 L368.57 486.19 L368.57 493.99Z" fill="#ffffff" stroke="#a3547c" stroke-width="1.0" stroke-linejoin="miter"/><path d="M395.07 499.76 L388.37 495.86 L388.37 503.66Z" fill="#ffffff" stroke="#a3547c" stroke-width="1.0" stroke-linejoin="miter"/><path d="M414.87 510.61 L408.17 506.71 L408.17 514.51Z" fill="#ffffff" stroke="#a3547c" stroke-width="1.0" stroke-linejoin="miter"/><path d="M434.67 520.94 L427.97 517.04 L427.97 524.84Z" fill="#ffffff" stroke="#a3547c" stroke-width="1.0" stroke-linejoin="miter"/><path d="M454.47 500.35 L447.77 496.45 L447.77 504.25Z" fill="#ffffff" stroke="#a3547c" stroke-width="1.0" stroke-linejoin="miter"/></g>
<path d="M60.17 530.71L70.31 529.79M79.95 528.72L90.13 527.46M99.77 526.39L109.92 525.34M119.59 524.59L129.71 523.94M139.39 523.35L149.51 522.74M159.16 521.79L169.33 520.56M179.00 520.19L189.10 520.25M198.78 519.82L208.91 519.08M218.60 518.82L228.70 518.82M238.40 518.66L248.50 518.39M258.20 518.21L268.30 518.07M278.00 518.03L288.10 518.03M297.80 517.97L307.90 517.86M317.60 517.73L327.70 517.56M337.40 517.50L347.50 517.50M357.20 517.50L367.30 517.50M377.00 517.50L387.10 517.50M396.80 517.50L406.90 517.50M416.60 517.50L426.70 517.50M436.39 517.19L446.50 516.68" fill="none" stroke="#4a8192" stroke-width="1"/>
<g><path d="M58.47 531.27 L51.77 527.37 L51.77 535.17Z" fill="#0f5a6c" stroke="#0f5a6c" stroke-width="1.0" stroke-linejoin="miter"/><path d="M78.27 529.48 L71.57 525.58 L71.57 533.38Z" fill="#0f5a6c" stroke="#0f5a6c" stroke-width="1.0" stroke-linejoin="miter"/><path d="M98.07 527.03 L91.37 523.13 L91.37 530.93Z" fill="#0f5a6c" stroke="#0f5a6c" stroke-width="1.0" stroke-linejoin="miter"/><path d="M117.87 524.98 L111.17 521.08 L111.17 528.88Z" fill="#0f5a6c" stroke="#0f5a6c" stroke-width="1.0" stroke-linejoin="miter"/><path d="M137.67 523.72 L130.97 519.82 L130.97 527.62Z" fill="#0f5a6c" stroke="#0f5a6c" stroke-width="1.0" stroke-linejoin="miter"/><path d="M157.47 522.53 L150.77 518.63 L150.77 526.43Z" fill="#0f5a6c" stroke="#0f5a6c" stroke-width="1.0" stroke-linejoin="miter"/><path d="M177.27 520.15 L170.57 516.25 L170.57 524.05Z" fill="#0f5a6c" stroke="#0f5a6c" stroke-width="1.0" stroke-linejoin="miter"/><path d="M197.07 520.28 L190.37 516.38 L190.37 524.18Z" fill="#0f5a6c" stroke="#0f5a6c" stroke-width="1.0" stroke-linejoin="miter"/><path d="M216.87 518.82 L210.17 514.92 L210.17 522.72Z" fill="#0f5a6c" stroke="#0f5a6c" stroke-width="1.0" stroke-linejoin="miter"/><path d="M236.67 518.82 L229.97 514.92 L229.97 522.72Z" fill="#0f5a6c" stroke="#0f5a6c" stroke-width="1.0" stroke-linejoin="miter"/><path d="M256.47 518.29 L249.77 514.39 L249.77 522.19Z" fill="#0f5a6c" stroke="#0f5a6c" stroke-width="1.0" stroke-linejoin="miter"/><path d="M276.27 518.03 L269.57 514.13 L269.57 521.93Z" fill="#0f5a6c" stroke="#0f5a6c" stroke-width="1.0" stroke-linejoin="miter"/><path d="M296.07 518.03 L289.37 514.13 L289.37 521.93Z" fill="#0f5a6c" stroke="#0f5a6c" stroke-width="1.0" stroke-linejoin="miter"/><path d="M315.87 517.83 L309.17 513.93 L309.17 521.73Z" fill="#0f5a6c" stroke="#0f5a6c" stroke-width="1.0" stroke-linejoin="miter"/><path d="M335.67 517.50 L328.97 513.60 L328.97 521.40Z" fill="#0f5a6c" stroke="#0f5a6c" stroke-width="1.0" stroke-linejoin="miter"/><path d="M355.47 517.50 L348.77 513.60 L348.77 521.40Z" fill="#0f5a6c" stroke="#0f5a6c" stroke-width="1.0" stroke-linejoin="miter"/><path d="M375.27 517.50 L368.57 513.60 L368.57 521.40Z" fill="#0f5a6c" stroke="#0f5a6c" stroke-width="1.0" stroke-linejoin="miter"/><path d="M395.07 517.50 L388.37 513.60 L388.37 521.40Z" fill="#0f5a6c" stroke="#0f5a6c" stroke-width="1.0" stroke-linejoin="miter"/><path d="M414.87 517.50 L408.17 513.60 L408.17 521.40Z" fill="#0f5a6c" stroke="#0f5a6c" stroke-width="1.0" stroke-linejoin="miter"/><path d="M434.67 517.50 L427.97 513.60 L427.97 521.40Z" fill="#0f5a6c" stroke="#0f5a6c" stroke-width="1.0" stroke-linejoin="miter"/><path d="M454.47 516.50 L447.77 512.61 L447.77 520.40Z" fill="#0f5a6c" stroke="#0f5a6c" stroke-width="1.0" stroke-linejoin="miter"/></g>
</g>
<path d="M53.90 366.60 V564.90 H450.10 V366.60" stroke="#000" stroke-width="1.55" fill="none"/>
<path d="M52 366.60 H450.95" stroke="#000" stroke-width="1.9" fill="none"/>
<path d="M118.1 468.4 H127.0 M136.8 468.4 H145.8" stroke="#35557f" stroke-width="1"/>
<path d="M127.30 468.40 L131.90 463.80 L136.50 468.40 L131.90 473.00Z" fill="#0c2b5e" stroke="#0c2b5e" stroke-width="1.0" stroke-linejoin="miter"/>
<text transform="translate(149.83,472.70) scale(1.0555,1)" font-family="'Liberation Sans',Arial,sans-serif" font-size="12.80" fill="#000" stroke="#000" stroke-width="0.30">Al(111)</text>
<path d="M118.1 483.6 H127.7 M135.0 483.6 H145.8" stroke="#c3d9e8" stroke-width="1"/>
<path d="M128.03 483.60 L134.73 479.70 L134.73 487.50Z" fill="#a9c8de" stroke="#a9c8de" stroke-width="1.0" stroke-linejoin="miter"/>
<text transform="translate(149.84,487.90) scale(1.0053,1)" font-family="'Liberation Sans',Arial,sans-serif" font-size="12.80" fill="#000" stroke="#000" stroke-width="0.30">Al(200)</text>
<path d="M118.1 499.2 H128.8 M136.1 499.2 H145.8" stroke="#4a8192" stroke-width="1"/>
<path d="M135.77 499.20 L129.07 495.30 L129.07 503.10Z" fill="#0f5a6c" stroke="#0f5a6c" stroke-width="1.0" stroke-linejoin="miter"/>
<text transform="translate(149.84,503.30) scale(1.0053,1)" font-family="'Liberation Sans',Arial,sans-serif" font-size="12.80" fill="#000" stroke="#000" stroke-width="0.30">Al(222)</text>
<path d="M208.9 468.4 H215.9 M229.1 468.4 H236.6" stroke="#f0bd78" stroke-width="1"/>
<path d="M217.90 468.40 L222.50 463.80 L227.10 468.40 L222.50 473.00Z" fill="#fffaf0" stroke="#eaa84c" stroke-width="1.0" stroke-linejoin="miter"/>
<text transform="translate(240.93,472.70) scale(1.0494,1)" font-family="'Liberation Sans',Arial,sans-serif" font-size="12.80" fill="#000" stroke="#000" stroke-width="0.30">Cu(111)</text>
<path d="M208.9 483.6 H216.6 M227.3 483.6 H236.6" stroke="#d9948a" stroke-width="1"/>
<path d="M218.63 483.60 L225.33 479.70 L225.33 487.50Z" fill="#ffffff" stroke="#cf7766" stroke-width="1.0" stroke-linejoin="miter"/>
<text transform="translate(240.96,487.90) scale(1.0045,1)" font-family="'Liberation Sans',Arial,sans-serif" font-size="12.80" fill="#000" stroke="#000" stroke-width="0.30">Cu(200)</text>
<path d="M208.9 499.2 H217.7 M228.4 499.2 H236.6" stroke="#b06f92" stroke-width="1"/>
<path d="M226.37 499.20 L219.67 495.30 L219.67 503.10Z" fill="#ffffff" stroke="#a3547c" stroke-width="1.0" stroke-linejoin="miter"/>
<text transform="translate(240.96,503.30) scale(1.0045,1)" font-family="'Liberation Sans',Arial,sans-serif" font-size="12.80" fill="#000" stroke="#000" stroke-width="0.30">Cu(220)</text>
</svg>
</body></html>
